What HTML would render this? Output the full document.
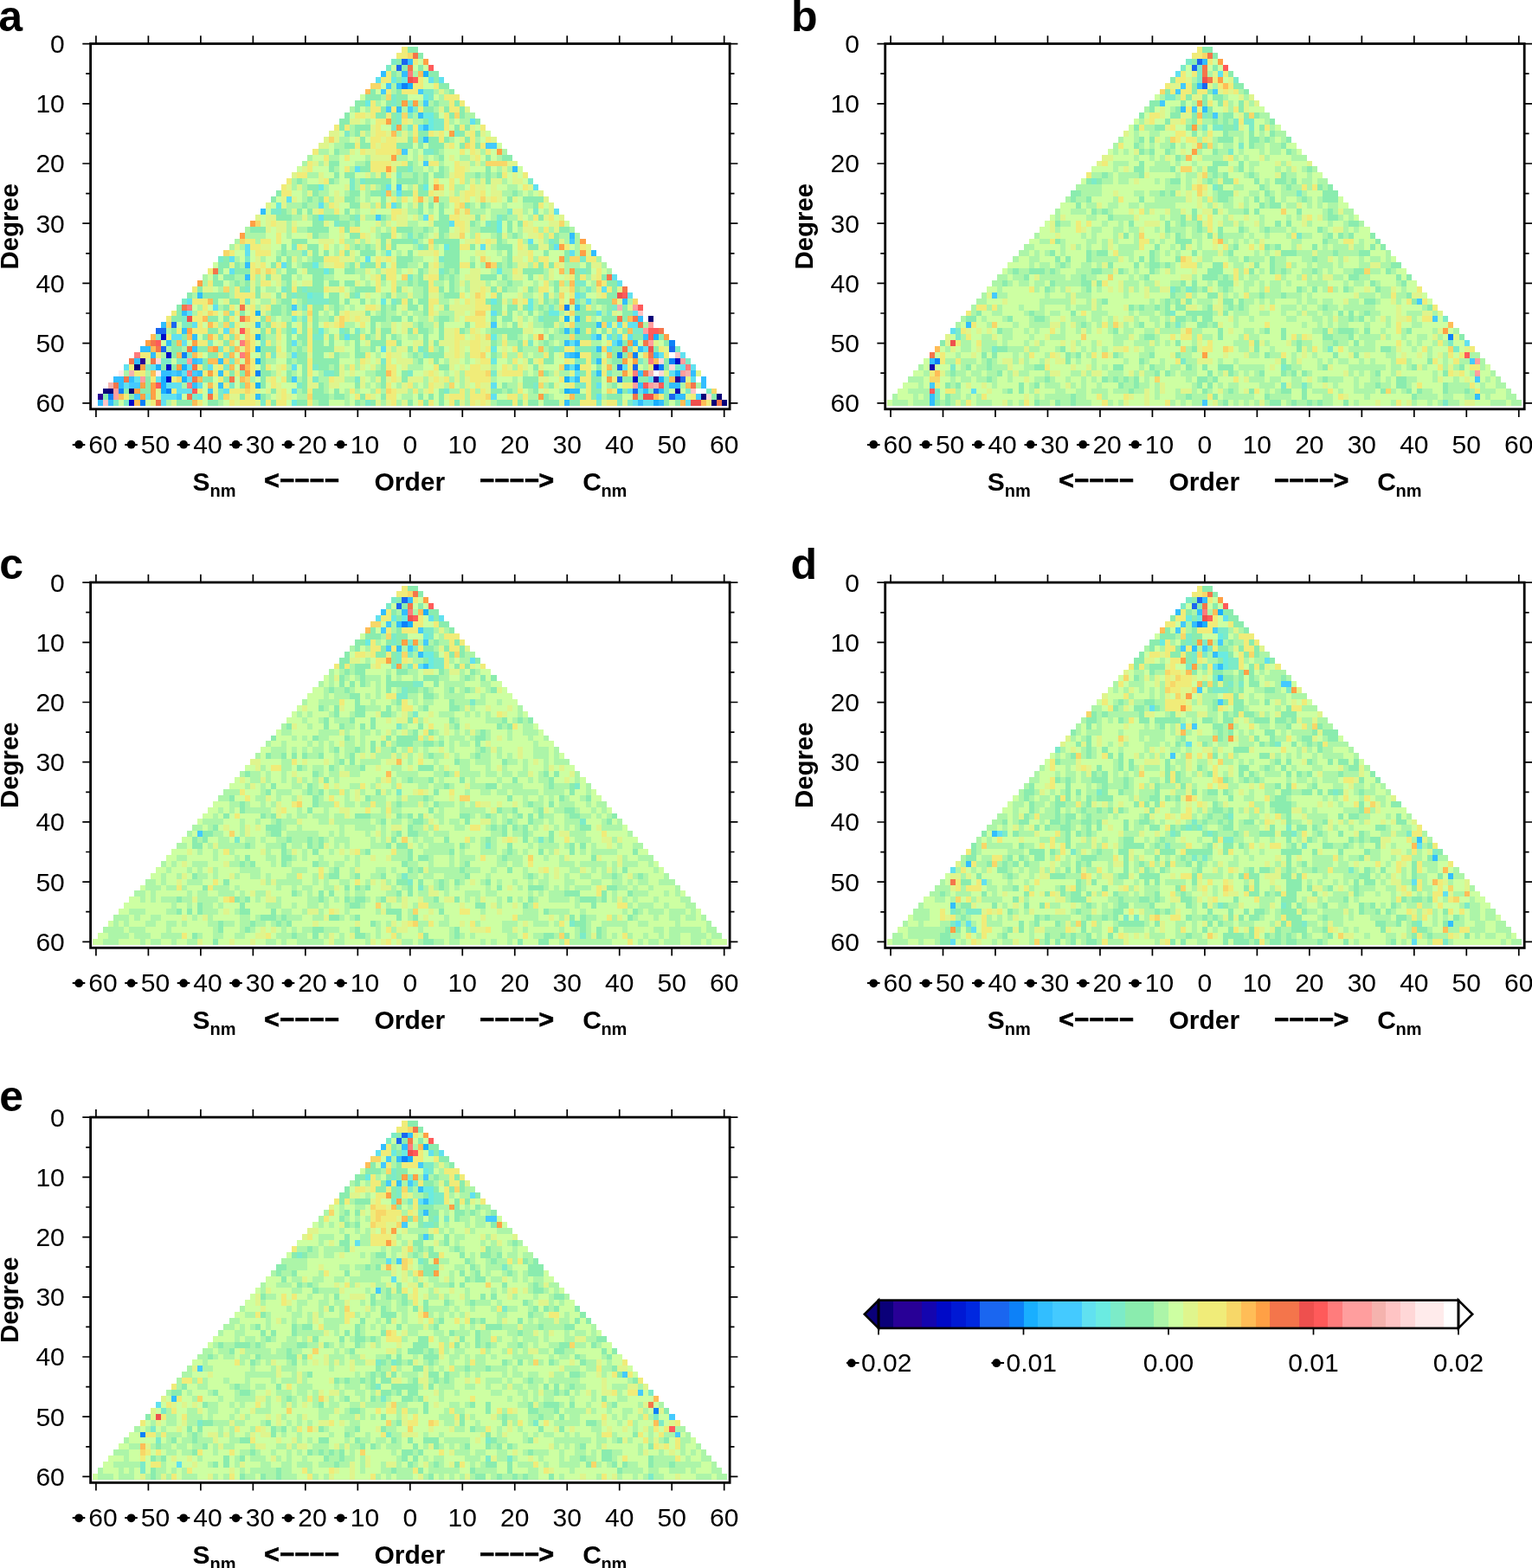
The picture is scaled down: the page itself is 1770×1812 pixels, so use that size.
<!DOCTYPE html>
<html lang="en"><head><meta charset="utf-8"><title>Spherical harmonic coefficient differences</title>
<style>
html,body{margin:0;padding:0;background:#fff}
body{width:1770px;height:1812px;overflow:hidden}
svg{display:block}
text{font-family:"Liberation Sans", Arial, Helvetica, sans-serif;fill:#000}
.t{font-size:30px}
.b{font-size:30px;font-weight:bold}
.s{font-size:20px;font-weight:bold}
.L{font-size:50px;font-weight:bold}
</style></head><body>
<svg width="1770" height="1812" viewBox="0 0 1770 1812">
<rect width="1770" height="1812" fill="#fff"/>

<g transform="translate(106.98 54.06) scale(6.059 6.92)" shape-rendering="crispEdges">
<path fill="#acf5a8" d="M59 0h3v1h-3zM58 1h5v1h-5zM57 2h7v1h-7zM56 3h9v1h-9zM55 4h11v1h-11zM54 5h13v1h-13zM53 6h15v1h-15zM52 7h17v1h-17zM51 8h19v1h-19zM50 9h21v1h-21zM49 10h23v1h-23zM48 11h25v1h-25zM47 12h27v1h-27zM46 13h29v1h-29zM45 14h31v1h-31zM44 15h33v1h-33zM43 16h35v1h-35zM42 17h37v1h-37zM41 18h39v1h-39zM40 19h41v1h-41zM39 20h43v1h-43zM38 21h45v1h-45zM37 22h47v1h-47zM36 23h49v1h-49zM35 24h51v1h-51zM34 25h53v1h-53zM33 26h55v1h-55zM32 27h57v1h-57zM31 28h59v1h-59zM30 29h61v1h-61zM29 30h63v1h-63zM28 31h65v1h-65zM27 32h67v1h-67zM26 33h69v1h-69zM25 34h71v1h-71zM24 35h73v1h-73zM23 36h75v1h-75zM22 37h77v1h-77zM21 38h79v1h-79zM20 39h81v1h-81zM19 40h83v1h-83zM18 41h85v1h-85zM17 42h87v1h-87zM16 43h89v1h-89zM15 44h91v1h-91zM14 45h93v1h-93zM13 46h95v1h-95zM12 47h97v1h-97zM11 48h99v1h-99zM10 49h101v1h-101zM9 50h103v1h-103zM8 51h105v1h-105zM7 52h107v1h-107zM6 53h109v1h-109zM5 54h111v1h-111zM4 55h113v1h-113zM3 56h115v1h-115zM2 57h117v1h-117zM1 58h119v1h-119zM0 59h121v1h-121z"/>
<path fill="#0a0079" d="M106 45h1v1h-1zM8 53h1v1h-1zM2 57h2v1h-2zM7 57h1v1h-1zM116 58h1v1h-1zM119 58h1v1h-1zM118 59h1v1h-1zM120 59h1v1h-1z"/>
<path fill="#280096" d="M9 52h1v1h-1zM107 55h1v1h-1zM111 55h1v1h-1zM1 58h1v1h-1z"/>
<path fill="#1405af" d="M111 57h1v1h-1z"/>
<path fill="#000ac8" d="M13 48h1v1h-1zM14 51h1v1h-1zM111 52h1v1h-1zM14 53h1v1h-1zM107 53h1v1h-1zM14 55h1v1h-1zM103 55h1v1h-1zM7 59h1v1h-1z"/>
<path fill="#1a66f0" d="M59 2h1v1h-1zM58 3h1v1h-1zM15 46h1v1h-1zM12 47h2v1h-2zM13 50h1v1h-1zM110 50h1v1h-1zM100 53h1v1h-1zM103 53h1v1h-1zM100 55h1v1h-1zM112 55h1v1h-1zM103 57h1v1h-1zM107 57h1v1h-1zM110 58h1v1h-1z"/>
<path fill="#0d81f8" d="M59 6h1v1h-1zM90 43h1v1h-1zM110 49h1v1h-1zM17 51h1v1h-1zM100 51h1v1h-1zM103 51h1v1h-1zM110 52h1v1h-1zM108 53h1v1h-1zM31 54h1v1h-1zM5 57h1v1h-1zM14 57h1v1h-1zM3 58h1v1h-1zM9 59h1v1h-1z"/>
<path fill="#19afff" d="M63 4h1v1h-1zM60 6h1v1h-1zM31 44h1v1h-1zM90 45h1v1h-1zM31 48h1v1h-1zM107 48h1v1h-1zM31 50h1v1h-1zM92 51h1v1h-1zM31 52h1v1h-1zM12 53h1v1h-1zM17 53h1v1h-1zM92 53h1v1h-1zM111 54h1v1h-1zM13 55h1v1h-1zM17 55h1v1h-1zM90 55h1v1h-1zM108 55h1v1h-1zM13 56h1v1h-1zM31 56h1v1h-1zM13 57h1v1h-1zM90 57h1v1h-1zM107 59h1v1h-1z"/>
<path fill="#32beff" d="M60 2h1v1h-1zM55 4h1v1h-1zM59 4h1v1h-1zM58 6h1v1h-1zM58 10h1v1h-1zM62 11h1v1h-1zM63 13h1v1h-1zM63 15h1v1h-1zM80 20h1v1h-1zM32 27h1v1h-1zM91 31h1v1h-1zM95 34h1v1h-1zM29 36h1v1h-1zM29 38h1v1h-1zM20 41h1v1h-1zM101 42h1v1h-1zM92 43h1v1h-1zM17 44h1v1h-1zM92 45h1v1h-1zM104 45h1v1h-1zM13 46h1v1h-1zM31 46h1v1h-1zM96 46h1v1h-1zM17 47h1v1h-1zM90 47h1v1h-1zM92 47h1v1h-1zM19 48h1v1h-1zM96 48h1v1h-1zM105 48h1v1h-1zM14 49h1v1h-1zM90 49h1v1h-1zM92 49h1v1h-1zM100 49h1v1h-1zM103 49h1v1h-1zM9 50h2v1h-2zM19 50h1v1h-1zM96 50h1v1h-1zM104 50h1v1h-1zM11 51h1v1h-1zM91 51h1v1h-1zM107 51h1v1h-1zM8 52h1v1h-1zM19 52h1v1h-1zM24 52h1v1h-1zM96 52h1v1h-1zM90 53h1v1h-1zM13 54h2v1h-2zM16 54h1v1h-1zM20 54h1v1h-1zM24 54h1v1h-1zM96 54h1v1h-1zM104 54h1v1h-1zM114 54h1v1h-1zM4 55h2v1h-2zM7 55h1v1h-1zM92 55h1v1h-1zM116 55h1v1h-1zM5 56h1v1h-1zM19 56h1v1h-1zM24 56h1v1h-1zM104 56h1v1h-1zM110 56h2v1h-2zM116 56h1v1h-1zM91 57h2v1h-2zM100 57h1v1h-1zM105 57h1v1h-1zM108 57h1v1h-1zM31 58h1v1h-1zM111 58h2v1h-2zM1 59h1v1h-1zM3 59h1v1h-1zM90 59h1v1h-1zM104 59h1v1h-1zM108 59h1v1h-1z"/>
<path fill="#44caff" d="M56 6h1v1h-1zM55 7h1v1h-1zM62 7h1v1h-1zM63 9h1v1h-1zM56 10h1v1h-1zM60 10h1v1h-1zM75 16h2v1h-2zM59 17h1v1h-1zM63 19h1v1h-1zM58 23h1v1h-1zM54 28h1v1h-1zM91 32h1v1h-1zM38 43h1v1h-1zM76 46h1v1h-1zM90 51h1v1h-1zM20 52h1v1h-1zM15 54h1v1h-1zM19 54h1v1h-1zM38 55h1v1h-1zM7 56h2v1h-2zM22 57h1v1h-1zM8 58h1v1h-1zM16 58h1v1h-1zM115 58h1v1h-1z"/>
<path fill="#61e1f0" d="M54 5h1v1h-1zM64 5h1v1h-1zM66 5h1v1h-1zM72 12h1v1h-1zM62 13h1v1h-1zM50 20h1v1h-1zM56 23h1v1h-1zM84 23h1v1h-1zM58 24h1v1h-1zM37 25h1v1h-1zM43 26h1v1h-1zM57 26h1v1h-1zM88 27h1v1h-1zM43 28h1v1h-1zM63 28h1v1h-1zM68 29h1v1h-1zM83 32h1v1h-1zM29 33h1v1h-1zM74 33h1v1h-1zM88 33h1v1h-1zM29 34h1v1h-1zM91 34h1v1h-1zM26 35h1v1h-1zM52 35h1v1h-1zM36 36h1v1h-1zM26 37h1v1h-1zM99 38h1v1h-1zM100 39h1v1h-1zM97 40h1v1h-1zM92 41h1v1h-1zM102 41h1v1h-1zM18 42h1v1h-1zM94 42h1v1h-1zM23 43h1v1h-1zM18 44h1v1h-1zM76 44h1v1h-1zM96 44h1v1h-1zM103 44h1v1h-1zM19 46h1v1h-1zM98 46h1v1h-1zM100 46h1v1h-1zM102 46h2v1h-2zM25 47h1v1h-1zM15 48h2v1h-2zM48 48h1v1h-1zM95 48h1v1h-1zM98 48h1v1h-1zM100 48h1v1h-1zM102 48h1v1h-1zM17 49h1v1h-1zM38 49h1v1h-1zM91 49h1v1h-1zM99 49h1v1h-1zM55 50h1v1h-1zM98 50h1v1h-1zM105 50h1v1h-1zM38 51h1v1h-1zM108 51h1v1h-1zM112 51h1v1h-1zM6 53h1v1h-1zM11 53h1v1h-1zM18 53h1v1h-1zM22 53h1v1h-1zM38 53h1v1h-1zM91 53h1v1h-1zM101 53h1v1h-1zM112 53h1v1h-1zM114 53h1v1h-1zM17 54h1v1h-1zM92 54h1v1h-1zM110 54h1v1h-1zM8 55h1v1h-1zM12 55h1v1h-1zM18 55h1v1h-1zM91 55h1v1h-1zM106 55h1v1h-1zM114 55h1v1h-1zM6 56h1v1h-1zM14 56h3v1h-3zM20 56h1v1h-1zM76 56h1v1h-1zM96 56h1v1h-1zM16 57h3v1h-3zM25 57h1v1h-1zM38 57h1v1h-1zM102 57h1v1h-1zM104 57h1v1h-1zM13 58h3v1h-3zM76 58h1v1h-1zM96 58h1v1h-1zM13 59h1v1h-1zM103 59h1v1h-1zM105 59h2v1h-2zM113 59h1v1h-1z"/>
<path fill="#6aebe1" d="M57 5h1v1h-1zM59 5h1v1h-1zM63 8h1v1h-1zM52 9h1v1h-1zM63 11h2v1h-2zM64 12h1v1h-1zM64 13h1v1h-1zM43 23h1v1h-1zM63 23h1v1h-1zM35 26h1v1h-1zM77 29h1v1h-1zM77 30h1v1h-1zM67 33h1v1h-1zM56 34h1v1h-1zM42 36h1v1h-1zM44 37h1v1h-1zM77 37h1v1h-1zM41 41h1v1h-1zM55 42h1v1h-1zM76 42h1v1h-1zM83 42h1v1h-1zM83 43h1v1h-1zM87 44h2v1h-2zM38 45h1v1h-1zM38 47h1v1h-1zM43 47h1v1h-1zM76 48h1v1h-1zM76 50h1v1h-1zM76 52h1v1h-1zM10 58h1v1h-1zM20 58h1v1h-1zM38 59h1v1h-1z"/>
<path fill="#7cebc8" d="M57 2h1v1h-1zM56 3h1v1h-1zM63 7h2v1h-2zM57 8h1v1h-1zM64 8h1v1h-1zM57 9h1v1h-1zM60 9h1v1h-1zM61 10h1v1h-1zM58 11h1v1h-1zM60 11h1v1h-1zM58 12h1v1h-1zM65 12h2v1h-2zM57 13h1v1h-1zM60 13h1v1h-1zM65 13h2v1h-2zM48 14h1v1h-1zM69 14h1v1h-1zM62 15h1v1h-1zM63 17h2v1h-2zM60 20h1v1h-1zM58 21h1v1h-1zM49 22h1v1h-1zM51 22h1v1h-1zM83 22h1v1h-1zM49 23h1v1h-1zM55 24h1v1h-1zM34 27h2v1h-2zM79 27h1v1h-1zM84 27h1v1h-1zM50 28h1v1h-1zM77 28h1v1h-1zM46 29h1v1h-1zM75 29h1v1h-1zM60 31h1v1h-1zM61 32h1v1h-1zM87 32h1v1h-1zM38 33h1v1h-1zM62 33h1v1h-1zM40 34h1v1h-1zM24 35h1v1h-1zM29 35h1v1h-1zM66 35h1v1h-1zM93 35h1v1h-1zM51 36h1v1h-1zM55 36h1v1h-1zM66 37h1v1h-1zM93 37h1v1h-1zM60 38h1v1h-1zM92 39h2v1h-2zM29 40h1v1h-1zM36 40h1v1h-1zM40 40h1v1h-1zM94 40h1v1h-1zM38 41h1v1h-1zM42 41h2v1h-2zM50 41h1v1h-1zM86 41h1v1h-1zM93 41h1v1h-1zM17 42h1v1h-1zM29 42h1v1h-1zM41 42h4v1h-4zM57 42h1v1h-1zM92 42h1v1h-1zM40 43h1v1h-1zM87 43h1v1h-1zM99 43h1v1h-1zM26 44h1v1h-1zM98 44h1v1h-1zM17 45h1v1h-1zM40 45h1v1h-1zM85 45h1v1h-1zM17 46h1v1h-1zM26 46h1v1h-1zM92 46h1v1h-1zM47 47h1v1h-1zM50 47h1v1h-1zM99 47h1v1h-1zM103 47h2v1h-2zM12 48h1v1h-1zM42 48h2v1h-2zM22 49h1v1h-1zM32 49h1v1h-1zM83 49h1v1h-1zM24 50h1v1h-1zM62 50h1v1h-1zM88 50h1v1h-1zM92 50h1v1h-1zM95 50h1v1h-1zM102 50h1v1h-1zM111 50h1v1h-1zM18 51h1v1h-1zM25 51h1v1h-1zM34 51h1v1h-1zM63 51h1v1h-1zM13 52h2v1h-2zM16 52h2v1h-2zM26 52h1v1h-1zM55 52h1v1h-1zM92 52h1v1h-1zM95 52h1v1h-1zM104 52h1v1h-1zM113 52h1v1h-1zM10 53h1v1h-1zM25 53h1v1h-1zM42 53h1v1h-1zM111 53h1v1h-1zM44 54h2v1h-2zM60 54h1v1h-1zM76 54h1v1h-1zM95 54h1v1h-1zM98 54h1v1h-1zM42 55h1v1h-1zM50 55h1v1h-1zM109 55h1v1h-1zM26 56h1v1h-1zM39 56h1v1h-1zM84 56h1v1h-1zM93 56h1v1h-1zM109 56h1v1h-1zM24 57h1v1h-1zM67 57h1v1h-1zM106 57h1v1h-1zM109 57h1v1h-1zM113 57h1v1h-1zM117 57h1v1h-1zM19 58h1v1h-1zM24 58h1v1h-1zM4 59h1v1h-1zM6 59h1v1h-1zM32 59h1v1h-1zM52 59h1v1h-1zM96 59h1v1h-1zM100 59h1v1h-1zM102 59h1v1h-1z"/>
<path fill="#8aecae" d="M60 0h2v1h-2zM62 1h1v1h-1zM58 2h1v1h-1zM59 3h1v1h-1zM62 3h1v1h-1zM57 4h1v1h-1zM64 4h2v1h-2zM58 5h1v1h-1zM65 5h1v1h-1zM66 6h2v1h-2zM53 7h1v1h-1zM58 7h1v1h-1zM68 7h1v1h-1zM52 8h3v1h-3zM58 8h2v1h-2zM50 9h2v1h-2zM56 9h1v1h-1zM58 9h1v1h-1zM65 9h1v1h-1zM69 9h1v1h-1zM50 10h1v1h-1zM55 10h1v1h-1zM63 10h2v1h-2zM67 10h1v1h-1zM70 10h1v1h-1zM48 11h1v1h-1zM54 11h2v1h-2zM57 11h1v1h-1zM65 11h1v1h-1zM68 11h1v1h-1zM70 11h1v1h-1zM47 12h2v1h-2zM57 12h1v1h-1zM63 12h1v1h-1zM73 12h1v1h-1zM47 13h1v1h-1zM50 13h3v1h-3zM69 13h1v1h-1zM71 13h1v1h-1zM50 14h1v1h-1zM62 14h2v1h-2zM70 14h1v1h-1zM73 14h1v1h-1zM51 15h1v1h-1zM60 15h1v1h-1zM64 15h2v1h-2zM67 15h1v1h-1zM71 15h1v1h-1zM48 16h2v1h-2zM51 16h2v1h-2zM58 16h3v1h-3zM62 16h1v1h-1zM64 16h3v1h-3zM70 16h1v1h-1zM73 16h1v1h-1zM46 17h1v1h-1zM65 17h1v1h-1zM66 18h1v1h-1zM75 18h1v1h-1zM78 18h2v1h-2zM45 19h2v1h-2zM52 19h1v1h-1zM60 19h1v1h-1zM45 20h1v1h-1zM51 20h2v1h-2zM58 20h2v1h-2zM66 20h1v1h-1zM75 20h1v1h-1zM46 21h1v1h-1zM48 21h2v1h-2zM55 21h1v1h-1zM61 21h1v1h-1zM63 21h1v1h-1zM65 21h2v1h-2zM73 21h1v1h-1zM75 21h1v1h-1zM77 21h1v1h-1zM39 22h1v1h-1zM45 22h1v1h-1zM52 22h5v1h-5zM58 22h4v1h-4zM63 22h1v1h-1zM75 22h1v1h-1zM41 23h2v1h-2zM55 23h1v1h-1zM62 23h1v1h-1zM35 24h1v1h-1zM42 24h1v1h-1zM49 24h2v1h-2zM53 24h2v1h-2zM59 24h2v1h-2zM62 24h2v1h-2zM80 24h1v1h-1zM34 25h1v1h-1zM41 25h1v1h-1zM43 25h1v1h-1zM48 25h2v1h-2zM55 25h1v1h-1zM79 25h1v1h-1zM82 25h4v1h-4zM40 26h1v1h-1zM49 26h2v1h-2zM55 26h1v1h-1zM58 26h1v1h-1zM62 26h1v1h-1zM64 26h1v1h-1zM66 26h1v1h-1zM71 26h1v1h-1zM74 26h1v1h-1zM84 26h1v1h-1zM36 27h1v1h-1zM39 27h1v1h-1zM41 27h1v1h-1zM48 27h1v1h-1zM62 27h1v1h-1zM66 27h1v1h-1zM35 28h3v1h-3zM42 28h1v1h-1zM44 28h3v1h-3zM49 28h1v1h-1zM55 28h1v1h-1zM66 28h2v1h-2zM73 28h1v1h-1zM78 28h1v1h-1zM85 28h1v1h-1zM42 29h2v1h-2zM47 29h2v1h-2zM50 29h1v1h-1zM65 29h3v1h-3zM72 29h1v1h-1zM76 29h1v1h-1zM79 29h1v1h-1zM81 29h1v1h-1zM30 30h3v1h-3zM41 30h4v1h-4zM48 30h1v1h-1zM58 30h3v1h-3zM63 30h1v1h-1zM66 30h2v1h-2zM74 30h3v1h-3zM79 30h1v1h-1zM89 30h2v1h-2zM42 31h1v1h-1zM49 31h2v1h-2zM55 31h2v1h-2zM62 31h1v1h-1zM66 31h1v1h-1zM77 31h1v1h-1zM80 31h1v1h-1zM88 31h1v1h-1zM38 32h3v1h-3zM55 32h1v1h-1zM57 32h4v1h-4zM65 32h5v1h-5zM77 32h1v1h-1zM88 32h1v1h-1zM36 33h1v1h-1zM41 33h2v1h-2zM50 33h1v1h-1zM52 33h1v1h-1zM55 33h1v1h-1zM57 33h1v1h-1zM63 33h1v1h-1zM68 33h2v1h-2zM72 33h1v1h-1zM77 33h3v1h-3zM83 33h2v1h-2zM87 33h1v1h-1zM36 34h1v1h-1zM42 34h1v1h-1zM44 34h1v1h-1zM48 34h1v1h-1zM51 34h3v1h-3zM60 34h1v1h-1zM67 34h3v1h-3zM79 34h1v1h-1zM86 34h1v1h-1zM90 34h1v1h-1zM25 35h1v1h-1zM35 35h1v1h-1zM37 35h1v1h-1zM42 35h2v1h-2zM58 35h3v1h-3zM67 35h3v1h-3zM79 35h1v1h-1zM90 35h1v1h-1zM24 36h2v1h-2zM27 36h1v1h-1zM34 36h1v1h-1zM37 36h1v1h-1zM40 36h2v1h-2zM49 36h1v1h-1zM52 36h2v1h-2zM58 36h2v1h-2zM63 36h1v1h-1zM67 36h3v1h-3zM72 36h1v1h-1zM77 36h1v1h-1zM79 36h1v1h-1zM85 36h1v1h-1zM87 36h1v1h-1zM94 36h1v1h-1zM24 37h1v1h-1zM27 37h3v1h-3zM37 37h2v1h-2zM41 37h3v1h-3zM45 37h1v1h-1zM48 37h2v1h-2zM62 37h1v1h-1zM67 37h1v1h-1zM69 37h1v1h-1zM82 37h4v1h-4zM92 37h1v1h-1zM94 37h1v1h-1zM23 38h1v1h-1zM25 38h2v1h-2zM33 38h1v1h-1zM36 38h2v1h-2zM42 38h2v1h-2zM55 38h1v1h-1zM62 38h1v1h-1zM66 38h1v1h-1zM68 38h1v1h-1zM74 38h3v1h-3zM78 38h1v1h-1zM83 38h1v1h-1zM92 38h1v1h-1zM97 38h1v1h-1zM23 39h2v1h-2zM27 39h1v1h-1zM29 39h1v1h-1zM37 39h1v1h-1zM42 39h2v1h-2zM45 39h2v1h-2zM48 39h2v1h-2zM60 39h1v1h-1zM62 39h2v1h-2zM68 39h1v1h-1zM79 39h1v1h-1zM88 39h1v1h-1zM98 39h2v1h-2zM20 40h1v1h-1zM28 40h1v1h-1zM31 40h1v1h-1zM37 40h1v1h-1zM39 40h1v1h-1zM41 40h3v1h-3zM50 40h4v1h-4zM58 40h1v1h-1zM63 40h1v1h-1zM66 40h1v1h-1zM68 40h1v1h-1zM76 40h1v1h-1zM78 40h1v1h-1zM83 40h1v1h-1zM88 40h1v1h-1zM92 40h1v1h-1zM99 40h1v1h-1zM18 41h1v1h-1zM21 41h5v1h-5zM31 41h1v1h-1zM35 41h1v1h-1zM37 41h1v1h-1zM39 41h2v1h-2zM45 41h2v1h-2zM49 41h1v1h-1zM56 41h1v1h-1zM63 41h1v1h-1zM67 41h3v1h-3zM77 41h1v1h-1zM98 41h2v1h-2zM23 42h1v1h-1zM26 42h2v1h-2zM36 42h2v1h-2zM40 42h1v1h-1zM45 42h2v1h-2zM48 42h1v1h-1zM51 42h1v1h-1zM58 42h1v1h-1zM60 42h1v1h-1zM62 42h2v1h-2zM75 42h1v1h-1zM77 42h1v1h-1zM86 42h1v1h-1zM88 42h1v1h-1zM96 42h3v1h-3zM16 43h1v1h-1zM25 43h1v1h-1zM34 43h2v1h-2zM37 43h1v1h-1zM42 43h2v1h-2zM46 43h1v1h-1zM55 43h1v1h-1zM57 43h1v1h-1zM60 43h2v1h-2zM63 43h1v1h-1zM67 43h1v1h-1zM76 43h2v1h-2zM79 43h2v1h-2zM82 43h1v1h-1zM85 43h1v1h-1zM93 43h1v1h-1zM98 43h1v1h-1zM101 43h1v1h-1zM16 44h1v1h-1zM28 44h1v1h-1zM34 44h2v1h-2zM37 44h1v1h-1zM42 44h1v1h-1zM46 44h1v1h-1zM52 44h1v1h-1zM55 44h1v1h-1zM63 44h1v1h-1zM77 44h1v1h-1zM79 44h1v1h-1zM83 44h1v1h-1zM86 44h1v1h-1zM92 44h4v1h-4zM101 44h2v1h-2zM15 45h2v1h-2zM22 45h2v1h-2zM25 45h1v1h-1zM32 45h1v1h-1zM42 45h1v1h-1zM45 45h1v1h-1zM53 45h3v1h-3zM57 45h2v1h-2zM60 45h1v1h-1zM66 45h2v1h-2zM76 45h1v1h-1zM78 45h2v1h-2zM86 45h3v1h-3zM93 45h1v1h-1zM97 45h3v1h-3zM101 45h1v1h-1zM18 46h1v1h-1zM33 46h1v1h-1zM37 46h1v1h-1zM40 46h1v1h-1zM42 46h1v1h-1zM53 46h1v1h-1zM62 46h1v1h-1zM66 46h1v1h-1zM71 46h1v1h-1zM80 46h1v1h-1zM86 46h2v1h-2zM93 46h3v1h-3zM15 47h1v1h-1zM22 47h2v1h-2zM32 47h1v1h-1zM34 47h1v1h-1zM37 47h1v1h-1zM40 47h1v1h-1zM42 47h1v1h-1zM48 47h1v1h-1zM53 47h1v1h-1zM55 47h2v1h-2zM60 47h1v1h-1zM62 47h2v1h-2zM66 47h1v1h-1zM70 47h1v1h-1zM76 47h6v1h-6zM89 47h1v1h-1zM91 47h1v1h-1zM93 47h1v1h-1zM95 47h1v1h-1zM97 47h1v1h-1zM101 47h1v1h-1zM17 48h1v1h-1zM21 48h1v1h-1zM24 48h1v1h-1zM26 48h1v1h-1zM32 48h1v1h-1zM37 48h1v1h-1zM39 48h2v1h-2zM45 48h1v1h-1zM47 48h1v1h-1zM49 48h2v1h-2zM52 48h1v1h-1zM55 48h1v1h-1zM57 48h1v1h-1zM63 48h1v1h-1zM66 48h1v1h-1zM79 48h2v1h-2zM87 48h1v1h-1zM92 48h3v1h-3zM99 48h1v1h-1zM103 48h2v1h-2zM108 48h1v1h-1zM15 49h1v1h-1zM25 49h1v1h-1zM37 49h1v1h-1zM40 49h1v1h-1zM42 49h2v1h-2zM45 49h1v1h-1zM50 49h1v1h-1zM53 49h3v1h-3zM58 49h1v1h-1zM63 49h1v1h-1zM65 49h1v1h-1zM76 49h1v1h-1zM81 49h1v1h-1zM86 49h1v1h-1zM101 49h1v1h-1zM109 49h1v1h-1zM15 50h2v1h-2zM20 50h2v1h-2zM26 50h1v1h-1zM32 50h3v1h-3zM37 50h1v1h-1zM39 50h1v1h-1zM42 50h4v1h-4zM50 50h1v1h-1zM53 50h1v1h-1zM60 50h1v1h-1zM63 50h1v1h-1zM66 50h1v1h-1zM81 50h1v1h-1zM87 50h1v1h-1zM89 50h1v1h-1zM93 50h2v1h-2zM99 50h2v1h-2zM107 50h1v1h-1zM15 51h1v1h-1zM22 51h2v1h-2zM32 51h1v1h-1zM39 51h2v1h-2zM42 51h2v1h-2zM46 51h1v1h-1zM50 51h2v1h-2zM61 51h1v1h-1zM64 51h3v1h-3zM76 51h1v1h-1zM87 51h1v1h-1zM95 51h2v1h-2zM99 51h1v1h-1zM101 51h1v1h-1zM21 52h1v1h-1zM32 52h1v1h-1zM37 52h1v1h-1zM39 52h2v1h-2zM42 52h5v1h-5zM62 52h1v1h-1zM65 52h1v1h-1zM83 52h1v1h-1zM86 52h2v1h-2zM93 52h1v1h-1zM99 52h2v1h-2zM109 52h1v1h-1zM13 53h1v1h-1zM15 53h1v1h-1zM21 53h1v1h-1zM32 53h1v1h-1zM40 53h1v1h-1zM43 53h2v1h-2zM46 53h1v1h-1zM55 53h1v1h-1zM66 53h2v1h-2zM84 53h1v1h-1zM96 53h1v1h-1zM109 53h1v1h-1zM26 54h1v1h-1zM28 54h1v1h-1zM32 54h2v1h-2zM37 54h1v1h-1zM40 54h1v1h-1zM46 54h1v1h-1zM54 54h2v1h-2zM59 54h1v1h-1zM86 54h1v1h-1zM93 54h1v1h-1zM10 55h1v1h-1zM21 55h2v1h-2zM25 55h1v1h-1zM32 55h1v1h-1zM37 55h1v1h-1zM40 55h1v1h-1zM55 55h1v1h-1zM59 55h1v1h-1zM82 55h3v1h-3zM95 55h2v1h-2zM101 55h2v1h-2zM104 55h2v1h-2zM10 56h1v1h-1zM28 56h1v1h-1zM32 56h1v1h-1zM40 56h1v1h-1zM43 56h1v1h-1zM50 56h1v1h-1zM55 56h1v1h-1zM78 56h1v1h-1zM82 56h2v1h-2zM87 56h1v1h-1zM92 56h1v1h-1zM95 56h1v1h-1zM99 56h1v1h-1zM6 57h1v1h-1zM9 57h2v1h-2zM34 57h1v1h-1zM40 57h1v1h-1zM42 57h2v1h-2zM46 57h1v1h-1zM66 57h1v1h-1zM76 57h2v1h-2zM79 57h1v1h-1zM84 57h1v1h-1zM95 57h2v1h-2zM101 57h1v1h-1zM2 58h1v1h-1zM7 58h1v1h-1zM28 58h1v1h-1zM32 58h1v1h-1zM42 58h3v1h-3zM46 58h2v1h-2zM51 58h1v1h-1zM55 58h1v1h-1zM62 58h1v1h-1zM64 58h1v1h-1zM66 58h1v1h-1zM86 58h1v1h-1zM92 58h2v1h-2zM95 58h1v1h-1zM98 58h3v1h-3zM104 58h1v1h-1zM109 58h1v1h-1zM118 58h1v1h-1zM16 59h3v1h-3zM22 59h2v1h-2zM34 59h1v1h-1zM39 59h2v1h-2zM43 59h2v1h-2zM50 59h1v1h-1zM53 59h1v1h-1zM60 59h1v1h-1zM63 59h1v1h-1zM66 59h1v1h-1zM69 59h1v1h-1zM77 59h3v1h-3zM81 59h1v1h-1zM83 59h2v1h-2zM86 59h3v1h-3zM91 59h2v1h-2zM109 59h1v1h-1zM111 59h1v1h-1z"/>
<path fill="#cdffa2" d="M62 2h1v1h-1zM57 3h1v1h-1zM61 3h1v1h-1zM63 3h1v1h-1zM63 5h1v1h-1zM55 6h1v1h-1zM63 6h2v1h-2zM54 7h1v1h-1zM51 8h1v1h-1zM60 8h3v1h-3zM65 8h1v1h-1zM55 9h1v1h-1zM51 10h1v1h-1zM49 11h1v1h-1zM66 11h1v1h-1zM51 12h1v1h-1zM53 12h1v1h-1zM69 12h1v1h-1zM55 13h2v1h-2zM68 13h1v1h-1zM73 13h1v1h-1zM47 14h1v1h-1zM67 14h1v1h-1zM75 14h1v1h-1zM49 15h1v1h-1zM52 15h1v1h-1zM69 15h1v1h-1zM74 15h1v1h-1zM45 16h1v1h-1zM61 16h1v1h-1zM63 16h1v1h-1zM69 16h1v1h-1zM77 16h1v1h-1zM45 17h1v1h-1zM50 17h1v1h-1zM60 17h1v1h-1zM62 17h1v1h-1zM67 17h3v1h-3zM71 17h1v1h-1zM76 17h1v1h-1zM42 18h2v1h-2zM47 18h1v1h-1zM49 18h3v1h-3zM60 18h1v1h-1zM64 18h1v1h-1zM67 18h1v1h-1zM69 18h1v1h-1zM74 18h1v1h-1zM76 18h1v1h-1zM47 19h3v1h-3zM62 19h1v1h-1zM67 19h2v1h-2zM39 20h1v1h-1zM42 20h3v1h-3zM47 20h1v1h-1zM63 20h1v1h-1zM65 20h1v1h-1zM68 20h1v1h-1zM72 20h3v1h-3zM76 20h1v1h-1zM81 20h1v1h-1zM44 21h2v1h-2zM47 21h1v1h-1zM50 21h2v1h-2zM57 21h1v1h-1zM64 21h1v1h-1zM79 21h1v1h-1zM81 21h1v1h-1zM41 22h2v1h-2zM47 22h2v1h-2zM57 22h1v1h-1zM64 22h1v1h-1zM66 22h2v1h-2zM69 22h1v1h-1zM79 22h1v1h-1zM82 22h1v1h-1zM45 23h3v1h-3zM57 23h1v1h-1zM59 23h1v1h-1zM64 23h1v1h-1zM67 23h1v1h-1zM71 23h1v1h-1zM75 23h1v1h-1zM77 23h2v1h-2zM81 23h1v1h-1zM38 24h2v1h-2zM45 24h1v1h-1zM47 24h1v1h-1zM51 24h1v1h-1zM67 24h1v1h-1zM75 24h1v1h-1zM82 24h1v1h-1zM84 24h1v1h-1zM35 25h1v1h-1zM39 25h1v1h-1zM51 25h1v1h-1zM53 25h2v1h-2zM56 25h1v1h-1zM60 25h1v1h-1zM72 25h1v1h-1zM78 25h1v1h-1zM81 25h1v1h-1zM34 26h1v1h-1zM47 26h2v1h-2zM59 26h1v1h-1zM63 26h1v1h-1zM65 26h1v1h-1zM68 26h1v1h-1zM73 26h1v1h-1zM76 26h2v1h-2zM79 26h3v1h-3zM86 26h1v1h-1zM33 27h1v1h-1zM40 27h1v1h-1zM47 27h1v1h-1zM49 27h1v1h-1zM51 27h2v1h-2zM54 27h3v1h-3zM63 27h1v1h-1zM65 27h1v1h-1zM67 27h2v1h-2zM75 27h1v1h-1zM83 27h1v1h-1zM85 27h1v1h-1zM32 28h1v1h-1zM60 28h1v1h-1zM65 28h1v1h-1zM75 28h1v1h-1zM82 28h1v1h-1zM88 28h1v1h-1zM32 29h1v1h-1zM39 29h3v1h-3zM45 29h1v1h-1zM51 29h3v1h-3zM57 29h1v1h-1zM62 29h2v1h-2zM74 29h1v1h-1zM78 29h1v1h-1zM80 29h1v1h-1zM84 29h3v1h-3zM90 29h1v1h-1zM34 30h1v1h-1zM45 30h2v1h-2zM51 30h2v1h-2zM55 30h1v1h-1zM65 30h1v1h-1zM68 30h1v1h-1zM78 30h1v1h-1zM80 30h1v1h-1zM33 31h2v1h-2zM36 31h1v1h-1zM38 31h3v1h-3zM45 31h2v1h-2zM48 31h1v1h-1zM53 31h1v1h-1zM58 31h1v1h-1zM64 31h1v1h-1zM71 31h1v1h-1zM74 31h2v1h-2zM82 31h1v1h-1zM34 32h1v1h-1zM36 32h2v1h-2zM41 32h2v1h-2zM46 32h1v1h-1zM53 32h1v1h-1zM63 32h1v1h-1zM70 32h1v1h-1zM79 32h2v1h-2zM84 32h1v1h-1zM34 33h2v1h-2zM37 33h1v1h-1zM43 33h1v1h-1zM45 33h1v1h-1zM47 33h1v1h-1zM58 33h3v1h-3zM66 33h1v1h-1zM73 33h1v1h-1zM80 33h1v1h-1zM91 33h1v1h-1zM27 34h2v1h-2zM30 34h1v1h-1zM34 34h1v1h-1zM43 34h1v1h-1zM45 34h1v1h-1zM50 34h1v1h-1zM54 34h1v1h-1zM57 34h1v1h-1zM59 34h1v1h-1zM61 34h1v1h-1zM66 34h1v1h-1zM70 34h3v1h-3zM75 34h2v1h-2zM78 34h1v1h-1zM80 34h1v1h-1zM84 34h2v1h-2zM87 34h3v1h-3zM28 35h1v1h-1zM30 35h1v1h-1zM33 35h2v1h-2zM36 35h1v1h-1zM40 35h1v1h-1zM51 35h1v1h-1zM53 35h1v1h-1zM63 35h2v1h-2zM70 35h2v1h-2zM73 35h1v1h-1zM76 35h2v1h-2zM82 35h1v1h-1zM87 35h2v1h-2zM23 36h1v1h-1zM33 36h1v1h-1zM38 36h1v1h-1zM56 36h1v1h-1zM62 36h1v1h-1zM73 36h1v1h-1zM93 36h1v1h-1zM25 37h1v1h-1zM36 37h1v1h-1zM39 37h1v1h-1zM46 37h2v1h-2zM53 37h1v1h-1zM59 37h1v1h-1zM61 37h1v1h-1zM70 37h2v1h-2zM74 37h2v1h-2zM88 37h1v1h-1zM95 37h1v1h-1zM97 37h1v1h-1zM22 38h1v1h-1zM24 38h1v1h-1zM38 38h1v1h-1zM40 38h2v1h-2zM46 38h5v1h-5zM52 38h1v1h-1zM58 38h1v1h-1zM70 38h1v1h-1zM77 38h1v1h-1zM82 38h1v1h-1zM84 38h1v1h-1zM88 38h2v1h-2zM25 39h1v1h-1zM34 39h1v1h-1zM39 39h1v1h-1zM44 39h1v1h-1zM47 39h1v1h-1zM51 39h1v1h-1zM53 39h1v1h-1zM56 39h1v1h-1zM67 39h1v1h-1zM76 39h1v1h-1zM82 39h2v1h-2zM85 39h1v1h-1zM94 39h1v1h-1zM23 40h1v1h-1zM32 40h1v1h-1zM35 40h1v1h-1zM48 40h1v1h-1zM55 40h2v1h-2zM60 40h1v1h-1zM67 40h1v1h-1zM70 40h1v1h-1zM81 40h1v1h-1zM87 40h1v1h-1zM34 41h1v1h-1zM44 41h1v1h-1zM47 41h1v1h-1zM51 41h1v1h-1zM53 41h2v1h-2zM71 41h1v1h-1zM75 41h1v1h-1zM78 41h3v1h-3zM84 41h1v1h-1zM90 41h1v1h-1zM94 41h2v1h-2zM24 42h1v1h-1zM31 42h1v1h-1zM47 42h1v1h-1zM49 42h2v1h-2zM52 42h1v1h-1zM54 42h1v1h-1zM56 42h1v1h-1zM61 42h1v1h-1zM68 42h1v1h-1zM70 42h1v1h-1zM90 42h1v1h-1zM19 43h1v1h-1zM22 43h1v1h-1zM27 43h1v1h-1zM48 43h1v1h-1zM50 43h2v1h-2zM58 43h1v1h-1zM62 43h1v1h-1zM65 43h1v1h-1zM78 43h1v1h-1zM91 43h1v1h-1zM96 43h1v1h-1zM24 44h1v1h-1zM29 44h1v1h-1zM43 44h1v1h-1zM45 44h1v1h-1zM53 44h1v1h-1zM58 44h1v1h-1zM60 44h1v1h-1zM71 44h1v1h-1zM75 44h1v1h-1zM80 44h1v1h-1zM82 44h1v1h-1zM84 44h1v1h-1zM100 44h1v1h-1zM24 45h1v1h-1zM27 45h1v1h-1zM35 45h1v1h-1zM59 45h1v1h-1zM61 45h1v1h-1zM70 45h1v1h-1zM75 45h1v1h-1zM77 45h1v1h-1zM80 45h1v1h-1zM83 45h1v1h-1zM91 45h1v1h-1zM96 45h1v1h-1zM16 46h1v1h-1zM21 46h1v1h-1zM28 46h1v1h-1zM38 46h1v1h-1zM43 46h1v1h-1zM50 46h1v1h-1zM52 46h1v1h-1zM54 46h1v1h-1zM58 46h1v1h-1zM67 46h4v1h-4zM72 46h1v1h-1zM77 46h1v1h-1zM79 46h1v1h-1zM82 46h1v1h-1zM45 47h2v1h-2zM49 47h1v1h-1zM52 47h1v1h-1zM58 47h1v1h-1zM65 47h1v1h-1zM74 47h1v1h-1zM84 47h2v1h-2zM87 47h1v1h-1zM96 47h1v1h-1zM20 48h1v1h-1zM28 48h1v1h-1zM36 48h1v1h-1zM38 48h1v1h-1zM56 48h1v1h-1zM59 48h1v1h-1zM62 48h1v1h-1zM64 48h2v1h-2zM71 48h1v1h-1zM82 48h1v1h-1zM86 48h1v1h-1zM97 48h1v1h-1zM13 49h1v1h-1zM18 49h1v1h-1zM23 49h1v1h-1zM27 49h1v1h-1zM31 49h1v1h-1zM36 49h1v1h-1zM44 49h1v1h-1zM46 49h2v1h-2zM49 49h1v1h-1zM51 49h1v1h-1zM59 49h2v1h-2zM84 49h1v1h-1zM88 49h1v1h-1zM97 49h1v1h-1zM104 49h1v1h-1zM108 49h1v1h-1zM36 50h1v1h-1zM48 50h2v1h-2zM54 50h1v1h-1zM67 50h1v1h-1zM71 50h1v1h-1zM77 50h1v1h-1zM79 50h1v1h-1zM21 51h1v1h-1zM27 51h1v1h-1zM30 51h2v1h-2zM44 51h1v1h-1zM49 51h1v1h-1zM53 51h1v1h-1zM55 51h1v1h-1zM59 51h1v1h-1zM75 51h1v1h-1zM83 51h1v1h-1zM88 51h1v1h-1zM97 51h1v1h-1zM104 51h1v1h-1zM10 52h1v1h-1zM15 52h1v1h-1zM28 52h1v1h-1zM35 52h2v1h-2zM47 52h3v1h-3zM53 52h1v1h-1zM57 52h1v1h-1zM63 52h1v1h-1zM66 52h1v1h-1zM70 52h1v1h-1zM72 52h1v1h-1zM77 52h2v1h-2zM81 52h1v1h-1zM88 52h2v1h-2zM27 53h1v1h-1zM31 53h1v1h-1zM34 53h1v1h-1zM39 53h1v1h-1zM52 53h1v1h-1zM58 53h1v1h-1zM63 53h2v1h-2zM69 53h1v1h-1zM71 53h1v1h-1zM77 53h1v1h-1zM83 53h1v1h-1zM86 53h3v1h-3zM95 53h1v1h-1zM104 53h1v1h-1zM36 54h1v1h-1zM39 54h1v1h-1zM42 54h1v1h-1zM48 54h1v1h-1zM50 54h2v1h-2zM58 54h1v1h-1zM61 54h2v1h-2zM66 54h1v1h-1zM68 54h1v1h-1zM83 54h1v1h-1zM23 55h1v1h-1zM27 55h1v1h-1zM31 55h1v1h-1zM35 55h1v1h-1zM52 55h1v1h-1zM77 55h3v1h-3zM81 55h1v1h-1zM87 55h2v1h-2zM97 55h1v1h-1zM21 56h1v1h-1zM27 56h1v1h-1zM33 56h1v1h-1zM36 56h3v1h-3zM47 56h3v1h-3zM53 56h1v1h-1zM57 56h1v1h-1zM62 56h1v1h-1zM69 56h1v1h-1zM72 56h1v1h-1zM77 56h1v1h-1zM89 56h1v1h-1zM97 56h1v1h-1zM100 56h1v1h-1zM21 57h1v1h-1zM32 57h1v1h-1zM37 57h1v1h-1zM45 57h1v1h-1zM47 57h1v1h-1zM51 57h2v1h-2zM65 57h1v1h-1zM82 57h1v1h-1zM85 57h1v1h-1zM87 57h2v1h-2zM93 57h1v1h-1zM97 57h1v1h-1zM110 57h1v1h-1zM112 57h1v1h-1zM17 58h1v1h-1zM21 58h1v1h-1zM34 58h1v1h-1zM38 58h1v1h-1zM49 58h1v1h-1zM54 58h1v1h-1zM58 58h1v1h-1zM61 58h1v1h-1zM63 58h1v1h-1zM65 58h1v1h-1zM77 58h2v1h-2zM88 58h2v1h-2zM101 58h2v1h-2zM5 59h1v1h-1zM10 59h1v1h-1zM21 59h1v1h-1zM25 59h1v1h-1zM37 59h1v1h-1zM45 59h3v1h-3zM49 59h1v1h-1zM61 59h1v1h-1zM65 59h1v1h-1zM67 59h1v1h-1zM85 59h1v1h-1zM110 59h1v1h-1z"/>
<path fill="#dff58d" d="M66 7h1v1h-1zM66 10h1v1h-1zM71 10h1v1h-1zM52 11h1v1h-1zM49 12h2v1h-2zM60 12h1v1h-1zM53 13h1v1h-1zM72 13h1v1h-1zM45 14h2v1h-2zM51 14h1v1h-1zM53 14h1v1h-1zM56 14h1v1h-1zM59 14h1v1h-1zM65 14h1v1h-1zM71 14h1v1h-1zM74 14h1v1h-1zM44 15h1v1h-1zM46 15h1v1h-1zM50 15h1v1h-1zM55 15h1v1h-1zM58 15h2v1h-2zM70 15h1v1h-1zM76 15h1v1h-1zM43 16h2v1h-2zM54 16h1v1h-1zM67 16h1v1h-1zM49 17h1v1h-1zM52 17h2v1h-2zM73 17h1v1h-1zM53 18h4v1h-4zM62 18h1v1h-1zM68 18h1v1h-1zM72 18h1v1h-1zM42 19h1v1h-1zM44 19h1v1h-1zM57 19h2v1h-2zM70 19h2v1h-2zM73 19h1v1h-1zM79 19h2v1h-2zM40 20h1v1h-1zM71 20h1v1h-1zM78 20h1v1h-1zM38 21h1v1h-1zM43 21h1v1h-1zM52 21h1v1h-1zM54 21h1v1h-1zM68 21h1v1h-1zM80 21h1v1h-1zM43 22h1v1h-1zM72 22h1v1h-1zM74 22h1v1h-1zM76 22h2v1h-2zM80 22h2v1h-2zM37 23h1v1h-1zM39 23h1v1h-1zM48 23h1v1h-1zM53 23h1v1h-1zM61 23h1v1h-1zM73 23h2v1h-2zM76 23h1v1h-1zM83 23h1v1h-1zM41 24h1v1h-1zM46 24h1v1h-1zM65 24h2v1h-2zM68 24h1v1h-1zM70 24h1v1h-1zM73 24h1v1h-1zM76 24h2v1h-2zM85 24h1v1h-1zM36 25h1v1h-1zM38 25h1v1h-1zM46 25h2v1h-2zM63 25h1v1h-1zM70 25h1v1h-1zM73 25h1v1h-1zM75 25h1v1h-1zM77 25h1v1h-1zM80 25h1v1h-1zM86 25h1v1h-1zM33 26h1v1h-1zM36 26h1v1h-1zM46 26h1v1h-1zM51 26h2v1h-2zM61 26h1v1h-1zM87 26h1v1h-1zM38 27h1v1h-1zM42 27h1v1h-1zM53 27h1v1h-1zM59 27h1v1h-1zM70 27h1v1h-1zM80 27h2v1h-2zM87 27h1v1h-1zM31 28h1v1h-1zM33 28h2v1h-2zM40 28h1v1h-1zM51 28h1v1h-1zM58 28h2v1h-2zM61 28h1v1h-1zM70 28h3v1h-3zM74 28h1v1h-1zM81 28h1v1h-1zM86 28h1v1h-1zM89 28h1v1h-1zM33 29h1v1h-1zM35 29h2v1h-2zM38 29h1v1h-1zM44 29h1v1h-1zM54 29h1v1h-1zM56 29h1v1h-1zM58 29h2v1h-2zM64 29h1v1h-1zM71 29h1v1h-1zM83 29h1v1h-1zM87 29h2v1h-2zM33 30h1v1h-1zM35 30h2v1h-2zM53 30h1v1h-1zM69 30h1v1h-1zM71 30h1v1h-1zM82 30h2v1h-2zM88 30h1v1h-1zM41 31h1v1h-1zM47 31h1v1h-1zM52 31h1v1h-1zM65 31h1v1h-1zM68 31h2v1h-2zM78 31h1v1h-1zM83 31h2v1h-2zM43 32h3v1h-3zM50 32h1v1h-1zM52 32h1v1h-1zM54 32h1v1h-1zM56 32h1v1h-1zM71 32h2v1h-2zM74 32h1v1h-1zM76 32h1v1h-1zM85 32h1v1h-1zM89 32h1v1h-1zM27 33h1v1h-1zM32 33h2v1h-2zM40 33h1v1h-1zM54 33h1v1h-1zM75 33h1v1h-1zM82 33h1v1h-1zM85 33h2v1h-2zM94 33h1v1h-1zM41 34h1v1h-1zM49 34h1v1h-1zM62 34h3v1h-3zM73 34h2v1h-2zM81 34h2v1h-2zM94 34h1v1h-1zM31 35h1v1h-1zM38 35h1v1h-1zM47 35h3v1h-3zM55 35h1v1h-1zM57 35h1v1h-1zM65 35h1v1h-1zM75 35h1v1h-1zM80 35h2v1h-2zM26 36h1v1h-1zM31 36h1v1h-1zM44 36h2v1h-2zM50 36h1v1h-1zM64 36h1v1h-1zM81 36h2v1h-2zM89 36h1v1h-1zM95 36h2v1h-2zM32 37h1v1h-1zM40 37h1v1h-1zM52 37h1v1h-1zM55 37h1v1h-1zM60 37h1v1h-1zM64 37h2v1h-2zM72 37h2v1h-2zM81 37h1v1h-1zM87 37h1v1h-1zM32 38h1v1h-1zM34 38h2v1h-2zM53 38h1v1h-1zM63 38h1v1h-1zM71 38h3v1h-3zM80 38h2v1h-2zM85 38h1v1h-1zM87 38h1v1h-1zM90 38h1v1h-1zM95 38h1v1h-1zM30 39h1v1h-1zM35 39h1v1h-1zM38 39h1v1h-1zM40 39h2v1h-2zM50 39h1v1h-1zM70 39h1v1h-1zM72 39h3v1h-3zM21 40h2v1h-2zM30 40h1v1h-1zM45 40h2v1h-2zM59 40h1v1h-1zM72 40h2v1h-2zM75 40h1v1h-1zM77 40h1v1h-1zM82 40h1v1h-1zM89 40h2v1h-2zM100 40h1v1h-1zM32 41h2v1h-2zM36 41h1v1h-1zM48 41h1v1h-1zM52 41h1v1h-1zM57 41h1v1h-1zM60 41h1v1h-1zM64 41h2v1h-2zM72 41h1v1h-1zM81 41h1v1h-1zM85 41h1v1h-1zM87 41h1v1h-1zM96 41h1v1h-1zM25 42h1v1h-1zM30 42h1v1h-1zM34 42h1v1h-1zM38 42h1v1h-1zM69 42h1v1h-1zM72 42h1v1h-1zM78 42h1v1h-1zM81 42h1v1h-1zM85 42h1v1h-1zM100 42h1v1h-1zM29 43h1v1h-1zM32 43h1v1h-1zM44 43h1v1h-1zM54 43h1v1h-1zM59 43h1v1h-1zM66 43h1v1h-1zM68 43h5v1h-5zM81 43h1v1h-1zM102 43h1v1h-1zM21 44h1v1h-1zM32 44h1v1h-1zM39 44h1v1h-1zM47 44h1v1h-1zM49 44h3v1h-3zM65 44h1v1h-1zM69 44h2v1h-2zM72 44h1v1h-1zM78 44h1v1h-1zM90 44h1v1h-1zM99 44h1v1h-1zM31 45h1v1h-1zM46 45h1v1h-1zM49 45h1v1h-1zM51 45h2v1h-2zM64 45h1v1h-1zM69 45h1v1h-1zM81 45h1v1h-1zM89 45h1v1h-1zM29 46h2v1h-2zM35 46h1v1h-1zM39 46h1v1h-1zM41 46h1v1h-1zM45 46h1v1h-1zM57 46h1v1h-1zM59 46h2v1h-2zM65 46h1v1h-1zM75 46h1v1h-1zM81 46h1v1h-1zM83 46h1v1h-1zM88 46h1v1h-1zM90 46h1v1h-1zM99 46h1v1h-1zM24 47h1v1h-1zM27 47h1v1h-1zM30 47h2v1h-2zM39 47h1v1h-1zM54 47h1v1h-1zM57 47h1v1h-1zM59 47h1v1h-1zM67 47h2v1h-2zM73 47h1v1h-1zM82 47h2v1h-2zM98 47h1v1h-1zM100 47h1v1h-1zM44 48h1v1h-1zM46 48h1v1h-1zM54 48h1v1h-1zM67 48h2v1h-2zM72 48h1v1h-1zM74 48h1v1h-1zM78 48h1v1h-1zM24 49h1v1h-1zM35 49h1v1h-1zM52 49h1v1h-1zM61 49h2v1h-2zM64 49h1v1h-1zM66 49h3v1h-3zM70 49h2v1h-2zM74 49h2v1h-2zM107 49h1v1h-1zM28 50h1v1h-1zM46 50h2v1h-2zM56 50h1v1h-1zM58 50h2v1h-2zM61 50h1v1h-1zM68 50h1v1h-1zM70 50h1v1h-1zM74 50h1v1h-1zM78 50h1v1h-1zM109 50h1v1h-1zM35 51h2v1h-2zM41 51h1v1h-1zM45 51h1v1h-1zM57 51h2v1h-2zM67 51h2v1h-2zM70 51h1v1h-1zM89 51h1v1h-1zM52 52h1v1h-1zM54 52h1v1h-1zM58 52h3v1h-3zM64 52h1v1h-1zM68 52h2v1h-2zM73 52h1v1h-1zM82 52h1v1h-1zM84 52h1v1h-1zM91 52h1v1h-1zM23 53h1v1h-1zM35 53h1v1h-1zM47 53h1v1h-1zM51 53h1v1h-1zM53 53h1v1h-1zM59 53h1v1h-1zM68 53h1v1h-1zM70 53h1v1h-1zM74 53h2v1h-2zM79 53h1v1h-1zM82 53h1v1h-1zM85 53h1v1h-1zM97 53h1v1h-1zM35 54h1v1h-1zM47 54h1v1h-1zM49 54h1v1h-1zM63 54h1v1h-1zM65 54h1v1h-1zM69 54h1v1h-1zM77 54h1v1h-1zM88 54h1v1h-1zM91 54h1v1h-1zM109 54h1v1h-1zM115 54h1v1h-1zM33 55h1v1h-1zM41 55h1v1h-1zM46 55h2v1h-2zM51 55h1v1h-1zM54 55h1v1h-1zM56 55h1v1h-1zM58 55h1v1h-1zM60 55h3v1h-3zM64 55h1v1h-1zM66 55h1v1h-1zM69 55h1v1h-1zM71 55h1v1h-1zM85 55h2v1h-2zM113 55h1v1h-1zM23 56h1v1h-1zM35 56h1v1h-1zM41 56h2v1h-2zM45 56h2v1h-2zM51 56h1v1h-1zM59 56h1v1h-1zM65 56h2v1h-2zM71 56h1v1h-1zM74 56h2v1h-2zM81 56h1v1h-1zM88 56h1v1h-1zM90 56h1v1h-1zM12 57h1v1h-1zM23 57h1v1h-1zM31 57h1v1h-1zM33 57h1v1h-1zM35 57h1v1h-1zM58 57h2v1h-2zM63 57h1v1h-1zM75 57h1v1h-1zM86 57h1v1h-1zM12 58h1v1h-1zM26 58h2v1h-2zM30 58h1v1h-1zM35 58h1v1h-1zM37 58h1v1h-1zM53 58h1v1h-1zM67 58h1v1h-1zM90 58h1v1h-1zM113 58h1v1h-1zM15 59h1v1h-1zM27 59h1v1h-1zM31 59h1v1h-1zM54 59h1v1h-1zM56 59h1v1h-1zM59 59h1v1h-1zM70 59h1v1h-1zM73 59h1v1h-1zM75 59h1v1h-1zM82 59h1v1h-1zM89 59h1v1h-1zM97 59h1v1h-1zM101 59h1v1h-1z"/>
<path fill="#f0ec79" d="M59 0h1v1h-1zM58 1h2v1h-2zM61 2h1v1h-1zM56 4h1v1h-1zM55 5h2v1h-2zM62 5h1v1h-1zM61 6h2v1h-2zM65 6h1v1h-1zM56 7h1v1h-1zM59 7h3v1h-3zM67 8h3v1h-3zM53 9h1v1h-1zM68 9h1v1h-1zM70 9h1v1h-1zM53 10h2v1h-2zM57 10h1v1h-1zM62 10h1v1h-1zM68 10h2v1h-2zM50 11h2v1h-2zM53 11h1v1h-1zM56 11h1v1h-1zM67 11h1v1h-1zM54 12h2v1h-2zM59 12h1v1h-1zM67 12h1v1h-1zM46 13h1v1h-1zM48 13h1v1h-1zM54 13h1v1h-1zM61 13h1v1h-1zM67 13h1v1h-1zM70 13h1v1h-1zM74 13h1v1h-1zM54 14h2v1h-2zM61 14h1v1h-1zM64 14h1v1h-1zM66 14h1v1h-1zM72 14h1v1h-1zM53 15h2v1h-2zM56 15h2v1h-2zM66 15h1v1h-1zM72 15h1v1h-1zM75 15h1v1h-1zM50 16h1v1h-1zM53 16h1v1h-1zM55 16h3v1h-3zM68 16h1v1h-1zM72 16h1v1h-1zM74 16h1v1h-1zM42 17h1v1h-1zM51 17h1v1h-1zM54 17h4v1h-4zM70 17h1v1h-1zM72 17h1v1h-1zM75 17h1v1h-1zM44 18h1v1h-1zM48 18h1v1h-1zM73 18h1v1h-1zM41 19h1v1h-1zM53 19h4v1h-4zM59 19h1v1h-1zM64 19h2v1h-2zM69 19h1v1h-1zM41 20h1v1h-1zM48 20h1v1h-1zM53 20h3v1h-3zM57 20h1v1h-1zM69 20h2v1h-2zM39 21h2v1h-2zM56 21h1v1h-1zM69 21h2v1h-2zM78 21h1v1h-1zM82 21h1v1h-1zM37 22h1v1h-1zM44 22h1v1h-1zM65 22h1v1h-1zM68 22h1v1h-1zM70 22h1v1h-1zM36 23h1v1h-1zM51 23h1v1h-1zM68 23h1v1h-1zM72 23h1v1h-1zM82 23h1v1h-1zM36 24h2v1h-2zM61 24h1v1h-1zM64 24h1v1h-1zM71 24h2v1h-2zM74 24h1v1h-1zM44 25h1v1h-1zM57 25h1v1h-1zM59 25h1v1h-1zM61 25h1v1h-1zM68 25h2v1h-2zM71 25h1v1h-1zM76 25h1v1h-1zM45 26h1v1h-1zM54 26h1v1h-1zM56 26h1v1h-1zM69 26h1v1h-1zM85 26h1v1h-1zM43 27h1v1h-1zM46 27h1v1h-1zM57 27h2v1h-2zM57 28h1v1h-1zM64 28h1v1h-1zM68 28h2v1h-2zM84 28h1v1h-1zM87 28h1v1h-1zM34 29h1v1h-1zM69 29h2v1h-2zM82 29h1v1h-1zM38 30h1v1h-1zM47 30h1v1h-1zM49 30h2v1h-2zM57 30h1v1h-1zM70 30h1v1h-1zM84 30h1v1h-1zM86 30h1v1h-1zM35 31h1v1h-1zM51 31h1v1h-1zM57 31h1v1h-1zM73 31h1v1h-1zM85 31h1v1h-1zM87 31h1v1h-1zM29 32h2v1h-2zM32 32h2v1h-2zM35 32h1v1h-1zM47 32h1v1h-1zM73 32h1v1h-1zM75 32h1v1h-1zM81 32h1v1h-1zM30 33h2v1h-2zM39 33h1v1h-1zM44 33h1v1h-1zM48 33h1v1h-1zM56 33h1v1h-1zM64 33h1v1h-1zM70 33h2v1h-2zM81 33h1v1h-1zM90 33h1v1h-1zM93 33h1v1h-1zM26 34h1v1h-1zM31 34h3v1h-3zM47 34h1v1h-1zM65 34h1v1h-1zM83 34h1v1h-1zM44 35h3v1h-3zM54 35h1v1h-1zM56 35h1v1h-1zM83 35h1v1h-1zM85 35h2v1h-2zM94 35h2v1h-2zM30 36h1v1h-1zM32 36h1v1h-1zM35 36h1v1h-1zM46 36h2v1h-2zM54 36h1v1h-1zM57 36h1v1h-1zM65 36h1v1h-1zM70 36h2v1h-2zM84 36h1v1h-1zM86 36h1v1h-1zM88 36h1v1h-1zM22 37h1v1h-1zM30 37h1v1h-1zM34 37h1v1h-1zM56 37h2v1h-2zM80 37h1v1h-1zM96 37h1v1h-1zM30 38h1v1h-1zM54 38h1v1h-1zM56 38h2v1h-2zM64 38h2v1h-2zM91 38h1v1h-1zM93 38h1v1h-1zM96 38h1v1h-1zM22 39h1v1h-1zM32 39h2v1h-2zM54 39h1v1h-1zM57 39h1v1h-1zM64 39h1v1h-1zM86 39h1v1h-1zM97 39h1v1h-1zM19 40h1v1h-1zM27 40h1v1h-1zM38 40h1v1h-1zM44 40h1v1h-1zM47 40h1v1h-1zM54 40h1v1h-1zM57 40h1v1h-1zM64 40h2v1h-2zM74 40h1v1h-1zM85 40h2v1h-2zM96 40h1v1h-1zM98 40h1v1h-1zM27 41h4v1h-4zM70 41h1v1h-1zM74 41h1v1h-1zM76 41h1v1h-1zM91 41h1v1h-1zM97 41h1v1h-1zM19 42h3v1h-3zM28 42h1v1h-1zM59 42h1v1h-1zM64 42h2v1h-2zM71 42h1v1h-1zM73 42h2v1h-2zM82 42h1v1h-1zM89 42h1v1h-1zM21 43h1v1h-1zM26 43h1v1h-1zM30 43h1v1h-1zM33 43h1v1h-1zM41 43h1v1h-1zM52 43h2v1h-2zM64 43h1v1h-1zM73 43h3v1h-3zM94 43h1v1h-1zM15 44h1v1h-1zM20 44h1v1h-1zM23 44h1v1h-1zM27 44h1v1h-1zM30 44h1v1h-1zM38 44h1v1h-1zM48 44h1v1h-1zM64 44h1v1h-1zM14 45h1v1h-1zM19 45h2v1h-2zM26 45h1v1h-1zM30 45h1v1h-1zM41 45h1v1h-1zM48 45h1v1h-1zM50 45h1v1h-1zM71 45h4v1h-4zM94 45h1v1h-1zM20 46h1v1h-1zM23 46h1v1h-1zM27 46h1v1h-1zM34 46h1v1h-1zM36 46h1v1h-1zM44 46h1v1h-1zM46 46h1v1h-1zM51 46h1v1h-1zM73 46h2v1h-2zM101 46h1v1h-1zM16 47h1v1h-1zM19 47h3v1h-3zM33 47h1v1h-1zM35 47h1v1h-1zM41 47h1v1h-1zM61 47h1v1h-1zM69 47h1v1h-1zM72 47h1v1h-1zM94 47h1v1h-1zM14 48h1v1h-1zM23 48h1v1h-1zM25 48h1v1h-1zM30 48h1v1h-1zM35 48h1v1h-1zM41 48h1v1h-1zM51 48h1v1h-1zM69 48h2v1h-2zM73 48h1v1h-1zM84 48h1v1h-1zM101 48h1v1h-1zM20 49h2v1h-2zM30 49h1v1h-1zM33 49h1v1h-1zM41 49h1v1h-1zM56 49h2v1h-2zM69 49h1v1h-1zM72 49h2v1h-2zM78 49h1v1h-1zM82 49h1v1h-1zM93 49h2v1h-2zM98 49h1v1h-1zM25 50h1v1h-1zM30 50h1v1h-1zM35 50h1v1h-1zM41 50h1v1h-1zM64 50h1v1h-1zM69 50h1v1h-1zM72 50h2v1h-2zM75 50h1v1h-1zM80 50h1v1h-1zM90 50h2v1h-2zM103 50h1v1h-1zM108 50h1v1h-1zM9 51h2v1h-2zM12 51h1v1h-1zM20 51h1v1h-1zM24 51h1v1h-1zM33 51h1v1h-1zM52 51h1v1h-1zM56 51h1v1h-1zM69 51h1v1h-1zM72 51h2v1h-2zM78 51h1v1h-1zM81 51h1v1h-1zM86 51h1v1h-1zM93 51h2v1h-2zM109 51h1v1h-1zM30 52h1v1h-1zM41 52h1v1h-1zM51 52h1v1h-1zM56 52h1v1h-1zM74 52h2v1h-2zM80 52h1v1h-1zM85 52h1v1h-1zM90 52h1v1h-1zM94 52h1v1h-1zM97 52h1v1h-1zM102 52h1v1h-1zM7 53h1v1h-1zM20 53h1v1h-1zM24 53h1v1h-1zM30 53h1v1h-1zM33 53h1v1h-1zM36 53h1v1h-1zM41 53h1v1h-1zM49 53h1v1h-1zM56 53h2v1h-2zM65 53h1v1h-1zM72 53h2v1h-2zM78 53h1v1h-1zM81 53h1v1h-1zM93 53h2v1h-2zM102 53h1v1h-1zM106 53h1v1h-1zM8 54h2v1h-2zM21 54h1v1h-1zM23 54h1v1h-1zM25 54h1v1h-1zM27 54h1v1h-1zM30 54h1v1h-1zM41 54h1v1h-1zM57 54h1v1h-1zM64 54h1v1h-1zM71 54h4v1h-4zM78 54h4v1h-4zM94 54h1v1h-1zM97 54h1v1h-1zM102 54h1v1h-1zM11 55h1v1h-1zM15 55h1v1h-1zM24 55h1v1h-1zM34 55h1v1h-1zM36 55h1v1h-1zM45 55h1v1h-1zM57 55h1v1h-1zM65 55h1v1h-1zM67 55h1v1h-1zM72 55h4v1h-4zM89 55h1v1h-1zM93 55h2v1h-2zM99 55h1v1h-1zM25 56h1v1h-1zM30 56h1v1h-1zM34 56h1v1h-1zM56 56h1v1h-1zM60 56h1v1h-1zM64 56h1v1h-1zM73 56h1v1h-1zM91 56h1v1h-1zM94 56h1v1h-1zM101 56h2v1h-2zM15 57h1v1h-1zM20 57h1v1h-1zM26 57h3v1h-3zM30 57h1v1h-1zM36 57h1v1h-1zM41 57h1v1h-1zM49 57h1v1h-1zM54 57h1v1h-1zM57 57h1v1h-1zM61 57h1v1h-1zM64 57h1v1h-1zM70 57h1v1h-1zM72 57h1v1h-1zM74 57h1v1h-1zM81 57h1v1h-1zM94 57h1v1h-1zM99 57h1v1h-1zM6 58h1v1h-1zM23 58h1v1h-1zM29 58h1v1h-1zM36 58h1v1h-1zM50 58h1v1h-1zM52 58h1v1h-1zM56 58h2v1h-2zM68 58h3v1h-3zM72 58h3v1h-3zM79 58h2v1h-2zM82 58h1v1h-1zM94 58h1v1h-1zM108 58h1v1h-1zM114 58h1v1h-1zM11 59h1v1h-1zM20 59h1v1h-1zM26 59h1v1h-1zM28 59h3v1h-3zM33 59h1v1h-1zM35 59h2v1h-2zM41 59h1v1h-1zM57 59h1v1h-1zM62 59h1v1h-1zM64 59h1v1h-1zM68 59h1v1h-1zM72 59h1v1h-1zM74 59h1v1h-1zM80 59h1v1h-1zM93 59h3v1h-3zM98 59h2v1h-2zM117 59h1v1h-1z"/>
<path fill="#f7d768" d="M60 1h1v1h-1zM53 6h2v1h-2zM56 8h1v1h-1zM59 11h1v1h-1zM69 11h1v1h-1zM45 15h1v1h-1zM61 15h1v1h-1zM71 16h1v1h-1zM58 17h1v1h-1zM75 19h4v1h-4zM66 23h1v1h-1zM74 25h1v1h-1zM70 26h1v1h-1zM69 27h1v1h-1zM71 27h1v1h-1zM31 29h1v1h-1zM89 29h1v1h-1zM70 31h1v1h-1zM28 32h1v1h-1zM64 32h1v1h-1zM25 34h1v1h-1zM74 35h1v1h-1zM91 35h2v1h-2zM76 36h1v1h-1zM31 37h1v1h-1zM33 37h1v1h-1zM59 38h1v1h-1zM89 39h1v1h-1zM25 40h1v1h-1zM91 40h1v1h-1zM73 41h1v1h-1zM89 41h1v1h-1zM80 42h1v1h-1zM103 42h1v1h-1zM89 43h1v1h-1zM22 44h1v1h-1zM25 44h1v1h-1zM41 44h1v1h-1zM73 44h2v1h-2zM91 44h1v1h-1zM33 45h1v1h-1zM47 45h1v1h-1zM14 46h1v1h-1zM25 46h1v1h-1zM47 46h1v1h-1zM91 46h1v1h-1zM97 46h1v1h-1zM26 47h1v1h-1zM29 47h1v1h-1zM27 48h1v1h-1zM29 48h1v1h-1zM75 48h1v1h-1zM91 48h1v1h-1zM26 49h1v1h-1zM97 50h1v1h-1zM74 51h1v1h-1zM105 51h1v1h-1zM25 52h1v1h-1zM27 52h1v1h-1zM89 53h1v1h-1zM75 54h1v1h-1zM16 55h1v1h-1zM29 55h1v1h-1zM68 56h1v1h-1zM85 56h1v1h-1zM29 57h1v1h-1zM56 57h1v1h-1zM98 57h1v1h-1zM118 57h1v1h-1zM25 58h1v1h-1zM41 58h1v1h-1zM75 58h1v1h-1z"/>
<path fill="#ffbd57" d="M62 4h1v1h-1zM52 7h1v1h-1zM57 14h1v1h-1zM56 24h1v1h-1zM62 25h1v1h-1zM89 37h1v1h-1zM91 39h1v1h-1zM96 39h1v1h-1zM22 42h1v1h-1zM99 42h1v1h-1zM21 45h1v1h-1zM29 45h1v1h-1zM102 45h1v1h-1zM22 46h1v1h-1zM102 47h1v1h-1zM11 48h1v1h-1zM18 48h1v1h-1zM22 48h1v1h-1zM16 49h1v1h-1zM29 49h1v1h-1zM11 50h1v1h-1zM22 50h1v1h-1zM27 50h1v1h-1zM29 50h1v1h-1zM85 50h1v1h-1zM16 51h1v1h-1zM19 51h1v1h-1zM26 51h1v1h-1zM98 51h1v1h-1zM102 51h1v1h-1zM22 52h2v1h-2zM107 52h1v1h-1zM26 53h1v1h-1zM29 53h1v1h-1zM98 53h1v1h-1zM11 54h1v1h-1zM56 54h1v1h-1zM85 54h1v1h-1zM20 55h1v1h-1zM28 55h1v1h-1zM110 55h1v1h-1zM22 56h1v1h-1zM29 56h1v1h-1zM113 56h1v1h-1zM5 58h1v1h-1zM91 58h1v1h-1zM107 58h1v1h-1zM8 59h1v1h-1zM19 59h1v1h-1zM112 59h1v1h-1zM116 59h1v1h-1z"/>
<path fill="#ffa045" d="M63 2h1v1h-1zM59 9h1v1h-1zM61 9h1v1h-1zM56 12h1v1h-1zM58 13h1v1h-1zM68 14h1v1h-1zM77 17h1v1h-1zM57 18h1v1h-1zM56 20h1v1h-1zM65 23h1v1h-1zM65 25h1v1h-1zM30 29h1v1h-1zM28 31h1v1h-1zM93 32h1v1h-1zM89 33h1v1h-1zM93 34h1v1h-1zM89 35h1v1h-1zM75 36h1v1h-1zM91 37h1v1h-1zM20 39h1v1h-1zM91 42h1v1h-1zM18 47h1v1h-1zM85 48h1v1h-1zM109 48h1v1h-1zM10 49h1v1h-1zM19 49h1v1h-1zM102 49h1v1h-1zM23 50h1v1h-1zM29 51h1v1h-1zM29 52h1v1h-1zM101 52h1v1h-1zM103 52h1v1h-1zM9 53h1v1h-1zM16 53h1v1h-1zM22 54h1v1h-1zM29 54h1v1h-1zM101 54h1v1h-1zM98 55h1v1h-1zM9 56h1v1h-1zM11 56h1v1h-1zM8 57h1v1h-1zM11 57h1v1h-1zM9 58h1v1h-1zM11 58h1v1h-1zM85 58h1v1h-1z"/>
<path fill="#f4754b" d="M61 1h1v1h-1zM60 3h1v1h-1zM23 37h1v1h-1zM98 38h1v1h-1zM101 40h1v1h-1zM17 43h1v1h-1zM28 43h1v1h-1zM28 45h1v1h-1zM100 45h1v1h-1zM103 45h1v1h-1zM104 46h1v1h-1zM108 47h1v1h-1zM11 49h1v1h-1zM105 49h1v1h-1zM12 50h1v1h-1zM18 50h1v1h-1zM101 50h1v1h-1zM106 51h1v1h-1zM7 52h1v1h-1zM11 52h1v1h-1zM19 53h1v1h-1zM28 53h1v1h-1zM105 54h1v1h-1zM6 55h1v1h-1zM19 55h1v1h-1zM26 55h1v1h-1zM4 56h1v1h-1zM114 56h1v1h-1zM18 58h1v1h-1zM22 58h1v1h-1zM103 58h1v1h-1zM12 59h1v1h-1zM119 59h1v1h-1z"/>
<path fill="#ee504e" d="M60 5h1v1h-1zM100 41h1v1h-1zM18 45h1v1h-1zM106 50h1v1h-1zM105 58h2v1h-2zM114 59h2v1h-2z"/>
<path fill="#ff5a5a" d="M64 3h1v1h-1zM61 5h1v1h-1zM101 41h1v1h-1zM104 43h1v1h-1zM28 47h1v1h-1zM106 47h2v1h-2zM106 48h1v1h-1zM12 49h1v1h-1zM12 56h1v1h-1zM105 56h1v1h-1zM108 56h1v1h-1zM19 57h1v1h-1z"/>
<path fill="#ff7c7c" d="M60 4h1v1h-1zM18 43h1v1h-1zM28 49h1v1h-1zM8 51h1v1h-1zM28 51h1v1h-1zM106 52h1v1h-1zM113 53h1v1h-1zM18 54h1v1h-1zM103 54h1v1h-1zM18 56h1v1h-1z"/>
<path fill="#ff9e9e" d="M103 43h1v1h-1zM106 46h1v1h-1zM105 47h1v1h-1zM106 49h1v1h-1zM18 52h1v1h-1zM112 52h1v1h-1zM112 54h1v1h-1zM9 55h1v1h-1zM103 56h1v1h-1zM106 56h1v1h-1zM4 57h1v1h-1zM4 58h1v1h-1z"/>
<path fill="#f5b3ae" d="M100 43h1v1h-1zM7 54h1v1h-1zM106 54h1v1h-1zM113 54h1v1h-1zM3 56h1v1h-1zM107 56h1v1h-1z"/>
<path fill="#ffc4c4" d="M104 44h1v1h-1zM111 51h1v1h-1zM114 57h1v1h-1zM2 59h1v1h-1z"/>
<path fill="#ffd7d7" d="M12 52h1v1h-1zM108 52h1v1h-1zM110 53h1v1h-1zM108 54h1v1h-1zM117 58h1v1h-1z"/>
<path fill="#ffebeb" d="M5 54h1v1h-1zM12 54h1v1h-1z"/>
<path fill="#ffffff" d="M105 44h1v1h-1zM105 45h1v1h-1zM107 46h1v1h-1zM110 51h1v1h-1zM107 54h1v1h-1zM115 55h1v1h-1zM117 56h1v1h-1zM115 57h2v1h-2zM0 59h1v1h-1z"/>
</g>
<g transform="translate(1025.08 54.06) scale(6.059 6.92)" shape-rendering="crispEdges">
<path fill="#cdffa2" d="M59 0h3v1h-3zM58 1h5v1h-5zM57 2h7v1h-7zM56 3h9v1h-9zM55 4h11v1h-11zM54 5h13v1h-13zM53 6h15v1h-15zM52 7h17v1h-17zM51 8h19v1h-19zM50 9h21v1h-21zM49 10h23v1h-23zM48 11h25v1h-25zM47 12h27v1h-27zM46 13h29v1h-29zM45 14h31v1h-31zM44 15h33v1h-33zM43 16h35v1h-35zM42 17h37v1h-37zM41 18h39v1h-39zM40 19h41v1h-41zM39 20h43v1h-43zM38 21h45v1h-45zM37 22h47v1h-47zM36 23h49v1h-49zM35 24h51v1h-51zM34 25h53v1h-53zM33 26h55v1h-55zM32 27h57v1h-57zM31 28h59v1h-59zM30 29h61v1h-61zM29 30h63v1h-63zM28 31h65v1h-65zM27 32h67v1h-67zM26 33h69v1h-69zM25 34h71v1h-71zM24 35h73v1h-73zM23 36h75v1h-75zM22 37h77v1h-77zM21 38h79v1h-79zM20 39h81v1h-81zM19 40h83v1h-83zM18 41h85v1h-85zM17 42h87v1h-87zM16 43h89v1h-89zM15 44h91v1h-91zM14 45h93v1h-93zM13 46h95v1h-95zM12 47h97v1h-97zM11 48h99v1h-99zM10 49h101v1h-101zM9 50h103v1h-103zM8 51h105v1h-105zM7 52h107v1h-107zM6 53h109v1h-109zM5 54h111v1h-111zM4 55h113v1h-113zM3 56h115v1h-115zM2 57h117v1h-117zM1 58h119v1h-119zM0 59h121v1h-121z"/>
<path fill="#1405af" d="M8 53h1v1h-1z"/>
<path fill="#1a66f0" d="M59 2h1v1h-1zM58 3h1v1h-1zM60 6h1v1h-1z"/>
<path fill="#0d81f8" d="M107 48h1v1h-1zM9 52h1v1h-1z"/>
<path fill="#32beff" d="M60 2h1v1h-1zM59 6h1v1h-1zM56 10h1v1h-1zM60 10h1v1h-1zM15 46h1v1h-1zM8 52h1v1h-1zM8 58h1v1h-1zM112 58h1v1h-1zM8 59h1v1h-1z"/>
<path fill="#44caff" d="M56 6h1v1h-1zM55 7h1v1h-1zM62 7h1v1h-1zM52 9h1v1h-1zM58 10h1v1h-1zM62 11h1v1h-1zM20 41h1v1h-1zM101 42h1v1h-1zM104 45h1v1h-1zM111 52h1v1h-1zM112 55h1v1h-1zM8 56h1v1h-1zM60 59h1v1h-1z"/>
<path fill="#61e1f0" d="M55 4h1v1h-1zM63 4h1v1h-1zM12 47h1v1h-1zM110 49h1v1h-1zM16 57h1v1h-1z"/>
<path fill="#7cebc8" d="M57 2h1v1h-1zM56 3h1v1h-1zM59 3h1v1h-1zM59 4h1v1h-1zM59 5h1v1h-1zM66 5h1v1h-1zM53 8h2v1h-2zM60 11h1v1h-1zM66 12h1v1h-1zM68 12h2v1h-2zM60 13h1v1h-1zM62 13h2v1h-2zM66 13h1v1h-1zM69 13h1v1h-1zM67 16h1v1h-1zM65 17h1v1h-1zM39 22h1v1h-1zM62 23h1v1h-1zM78 24h1v1h-1zM78 31h1v1h-1zM54 40h1v1h-1zM57 40h1v1h-1zM54 44h1v1h-1zM106 45h1v1h-1zM55 46h1v1h-1zM13 47h1v1h-1zM13 48h1v1h-1zM107 49h1v1h-1zM20 50h1v1h-1zM84 50h1v1h-1zM108 50h1v1h-1zM56 52h1v1h-1zM12 53h1v1h-1zM75 53h1v1h-1zM75 56h1v1h-1zM79 56h1v1h-1zM9 57h1v1h-1zM9 58h1v1h-1zM106 59h1v1h-1z"/>
<path fill="#8aecae" d="M60 0h2v1h-2zM62 1h1v1h-1zM58 2h1v1h-1zM62 3h1v1h-1zM65 4h1v1h-1zM54 5h1v1h-1zM58 6h1v1h-1zM66 6h2v1h-2zM53 7h1v1h-1zM58 7h1v1h-1zM61 7h1v1h-1zM68 7h1v1h-1zM57 8h1v1h-1zM60 8h1v1h-1zM62 8h2v1h-2zM50 9h2v1h-2zM56 9h1v1h-1zM60 9h1v1h-1zM63 9h1v1h-1zM67 9h1v1h-1zM50 10h1v1h-1zM55 10h1v1h-1zM61 10h1v1h-1zM67 10h1v1h-1zM48 11h1v1h-1zM54 11h2v1h-2zM58 11h1v1h-1zM61 11h1v1h-1zM64 11h2v1h-2zM68 11h1v1h-1zM70 11h1v1h-1zM53 12h1v1h-1zM58 12h1v1h-1zM62 12h1v1h-1zM64 12h1v1h-1zM73 12h1v1h-1zM47 13h1v1h-1zM51 13h2v1h-2zM57 13h1v1h-1zM64 13h2v1h-2zM71 13h1v1h-1zM58 14h1v1h-1zM64 14h1v1h-1zM69 14h1v1h-1zM73 14h1v1h-1zM48 15h1v1h-1zM50 15h1v1h-1zM63 15h3v1h-3zM69 15h2v1h-2zM72 15h1v1h-1zM76 15h1v1h-1zM47 16h1v1h-1zM54 16h1v1h-1zM60 16h1v1h-1zM69 16h1v1h-1zM75 16h1v1h-1zM48 17h1v1h-1zM50 17h1v1h-1zM53 17h1v1h-1zM62 17h1v1h-1zM76 17h1v1h-1zM55 18h1v1h-1zM48 19h1v1h-1zM62 19h3v1h-3zM67 19h1v1h-1zM47 20h2v1h-2zM54 20h1v1h-1zM61 20h2v1h-2zM67 20h1v1h-1zM80 20h1v1h-1zM41 21h1v1h-1zM48 21h1v1h-1zM62 21h1v1h-1zM64 21h1v1h-1zM69 21h1v1h-1zM75 21h1v1h-1zM38 22h1v1h-1zM40 22h1v1h-1zM54 22h2v1h-2zM61 22h1v1h-1zM64 22h2v1h-2zM70 22h1v1h-1zM74 22h2v1h-2zM77 22h1v1h-1zM63 23h1v1h-1zM71 23h1v1h-1zM76 23h1v1h-1zM82 23h1v1h-1zM84 23h1v1h-1zM35 24h2v1h-2zM52 24h1v1h-1zM54 24h1v1h-1zM63 24h3v1h-3zM72 24h1v1h-1zM83 24h3v1h-3zM35 25h1v1h-1zM38 25h1v1h-1zM48 25h1v1h-1zM63 25h2v1h-2zM70 25h1v1h-1zM73 25h1v1h-1zM79 25h1v1h-1zM83 25h3v1h-3zM36 26h1v1h-1zM71 26h1v1h-1zM73 26h2v1h-2zM39 27h1v1h-1zM41 27h1v1h-1zM58 27h1v1h-1zM62 27h1v1h-1zM68 27h1v1h-1zM70 27h1v1h-1zM78 27h1v1h-1zM84 27h1v1h-1zM42 28h1v1h-1zM56 28h1v1h-1zM58 28h1v1h-1zM84 28h2v1h-2zM32 29h1v1h-1zM46 29h1v1h-1zM53 29h1v1h-1zM56 29h1v1h-1zM59 29h1v1h-1zM74 29h1v1h-1zM76 29h1v1h-1zM88 29h2v1h-2zM53 30h1v1h-1zM59 30h1v1h-1zM63 30h1v1h-1zM67 30h1v1h-1zM72 30h1v1h-1zM82 30h1v1h-1zM45 31h1v1h-1zM55 31h1v1h-1zM61 31h1v1h-1zM63 31h1v1h-1zM84 31h1v1h-1zM86 31h1v1h-1zM88 31h1v1h-1zM92 31h1v1h-1zM32 32h1v1h-1zM55 32h3v1h-3zM83 32h1v1h-1zM93 32h1v1h-1zM51 33h1v1h-1zM56 33h1v1h-1zM66 33h1v1h-1zM72 33h1v1h-1zM74 33h1v1h-1zM81 33h1v1h-1zM92 33h1v1h-1zM94 33h1v1h-1zM31 34h1v1h-1zM38 34h1v1h-1zM40 34h2v1h-2zM50 34h1v1h-1zM58 34h1v1h-1zM65 34h1v1h-1zM75 34h3v1h-3zM85 34h1v1h-1zM90 34h2v1h-2zM32 35h1v1h-1zM34 35h1v1h-1zM38 35h1v1h-1zM48 35h1v1h-1zM50 35h1v1h-1zM55 35h1v1h-1zM68 35h1v1h-1zM73 35h1v1h-1zM81 35h1v1h-1zM33 36h1v1h-1zM42 36h1v1h-1zM47 36h1v1h-1zM50 36h2v1h-2zM53 36h1v1h-1zM62 36h2v1h-2zM70 36h1v1h-1zM73 36h1v1h-1zM96 36h2v1h-2zM24 37h1v1h-1zM27 37h3v1h-3zM31 37h1v1h-1zM39 37h2v1h-2zM44 37h1v1h-1zM50 37h1v1h-1zM61 37h3v1h-3zM69 37h1v1h-1zM73 37h1v1h-1zM75 37h1v1h-1zM81 37h1v1h-1zM89 37h2v1h-2zM95 37h1v1h-1zM26 38h1v1h-1zM37 38h1v1h-1zM49 38h1v1h-1zM60 38h3v1h-3zM64 38h1v1h-1zM88 38h2v1h-2zM97 38h1v1h-1zM99 38h1v1h-1zM22 39h1v1h-1zM31 39h1v1h-1zM37 39h2v1h-2zM40 39h1v1h-1zM56 39h1v1h-1zM58 39h1v1h-1zM63 39h3v1h-3zM92 39h1v1h-1zM98 39h1v1h-1zM30 40h1v1h-1zM38 40h1v1h-1zM55 40h1v1h-1zM58 40h1v1h-1zM60 40h1v1h-1zM64 40h1v1h-1zM78 40h1v1h-1zM81 40h1v1h-1zM87 40h1v1h-1zM93 40h1v1h-1zM54 41h1v1h-1zM61 41h2v1h-2zM71 41h1v1h-1zM75 41h1v1h-1zM99 41h1v1h-1zM41 42h1v1h-1zM53 42h1v1h-1zM55 42h1v1h-1zM57 42h1v1h-1zM64 42h2v1h-2zM67 42h1v1h-1zM91 42h2v1h-2zM100 42h1v1h-1zM46 43h1v1h-1zM48 43h1v1h-1zM51 43h1v1h-1zM53 43h1v1h-1zM55 43h2v1h-2zM61 43h1v1h-1zM65 43h1v1h-1zM67 43h1v1h-1zM83 43h1v1h-1zM103 43h1v1h-1zM17 44h1v1h-1zM27 44h1v1h-1zM35 44h1v1h-1zM53 44h1v1h-1zM57 44h5v1h-5zM64 44h1v1h-1zM86 44h1v1h-1zM88 44h1v1h-1zM91 44h1v1h-1zM15 45h2v1h-2zM23 45h1v1h-1zM28 45h2v1h-2zM55 45h2v1h-2zM58 45h1v1h-1zM60 45h2v1h-2zM88 45h1v1h-1zM90 45h1v1h-1zM37 46h1v1h-1zM48 46h1v1h-1zM53 46h1v1h-1zM59 46h2v1h-2zM62 46h1v1h-1zM21 47h1v1h-1zM43 47h1v1h-1zM63 47h1v1h-1zM72 47h1v1h-1zM75 47h1v1h-1zM83 47h1v1h-1zM86 47h3v1h-3zM91 47h1v1h-1zM99 47h1v1h-1zM49 48h2v1h-2zM63 48h1v1h-1zM75 48h1v1h-1zM83 48h2v1h-2zM88 48h1v1h-1zM109 48h1v1h-1zM10 49h1v1h-1zM55 49h1v1h-1zM70 49h1v1h-1zM78 49h1v1h-1zM85 49h1v1h-1zM89 49h1v1h-1zM21 50h2v1h-2zM33 50h1v1h-1zM58 50h1v1h-1zM70 50h1v1h-1zM78 50h1v1h-1zM94 50h2v1h-2zM18 51h1v1h-1zM20 51h1v1h-1zM34 51h1v1h-1zM36 51h1v1h-1zM43 51h1v1h-1zM50 51h1v1h-1zM55 51h1v1h-1zM72 51h1v1h-1zM85 51h1v1h-1zM89 51h1v1h-1zM19 52h1v1h-1zM34 52h1v1h-1zM48 52h1v1h-1zM75 52h1v1h-1zM103 52h1v1h-1zM15 53h1v1h-1zM19 53h1v1h-1zM28 53h2v1h-2zM43 53h2v1h-2zM50 53h1v1h-1zM57 53h1v1h-1zM60 53h1v1h-1zM63 53h3v1h-3zM76 53h1v1h-1zM83 53h1v1h-1zM100 53h1v1h-1zM109 53h1v1h-1zM12 54h1v1h-1zM21 54h1v1h-1zM51 54h1v1h-1zM53 54h1v1h-1zM61 54h1v1h-1zM65 54h1v1h-1zM71 54h1v1h-1zM75 54h1v1h-1zM77 54h1v1h-1zM79 54h1v1h-1zM93 54h1v1h-1zM106 54h1v1h-1zM19 55h1v1h-1zM30 55h1v1h-1zM41 55h1v1h-1zM43 55h1v1h-1zM45 55h1v1h-1zM47 55h1v1h-1zM59 55h2v1h-2zM62 55h1v1h-1zM83 55h1v1h-1zM97 55h2v1h-2zM11 56h1v1h-1zM13 56h1v1h-1zM25 56h1v1h-1zM28 56h1v1h-1zM44 56h1v1h-1zM47 56h1v1h-1zM59 56h1v1h-1zM61 56h1v1h-1zM93 56h1v1h-1zM97 56h2v1h-2zM106 56h1v1h-1zM23 57h1v1h-1zM25 57h1v1h-1zM46 57h1v1h-1zM60 57h1v1h-1zM65 57h1v1h-1zM69 57h1v1h-1zM75 57h2v1h-2zM79 57h1v1h-1zM94 57h1v1h-1zM99 57h1v1h-1zM101 57h1v1h-1zM106 57h1v1h-1zM110 57h1v1h-1zM11 58h1v1h-1zM35 58h1v1h-1zM57 58h1v1h-1zM62 58h1v1h-1zM72 58h1v1h-1zM79 58h1v1h-1zM100 58h1v1h-1zM9 59h1v1h-1zM11 59h1v1h-1zM28 59h1v1h-1zM32 59h1v1h-1zM35 59h1v1h-1zM64 59h1v1h-1zM73 59h2v1h-2zM77 59h1v1h-1zM80 59h1v1h-1zM82 59h1v1h-1zM87 59h1v1h-1z"/>
<path fill="#acf5a8" d="M61 4h1v1h-1zM58 5h1v1h-1zM62 6h1v1h-1zM67 7h1v1h-1zM52 8h1v1h-1zM55 8h1v1h-1zM64 8h1v1h-1zM68 8h1v1h-1zM58 9h1v1h-1zM65 9h1v1h-1zM69 9h1v1h-1zM49 10h1v1h-1zM54 10h1v1h-1zM65 10h1v1h-1zM63 11h1v1h-1zM71 11h2v1h-2zM48 12h1v1h-1zM57 12h1v1h-1zM60 12h2v1h-2zM63 12h1v1h-1zM65 12h1v1h-1zM72 12h1v1h-1zM49 13h2v1h-2zM59 13h1v1h-1zM73 13h1v1h-1zM47 14h1v1h-1zM50 14h2v1h-2zM60 14h1v1h-1zM65 14h3v1h-3zM71 14h1v1h-1zM74 14h2v1h-2zM44 15h1v1h-1zM47 15h1v1h-1zM53 15h1v1h-1zM59 15h1v1h-1zM62 15h1v1h-1zM67 15h1v1h-1zM71 15h1v1h-1zM73 15h1v1h-1zM75 15h1v1h-1zM43 16h1v1h-1zM48 16h1v1h-1zM50 16h1v1h-1zM52 16h2v1h-2zM56 16h1v1h-1zM62 16h1v1h-1zM64 16h2v1h-2zM70 16h2v1h-2zM73 16h2v1h-2zM43 17h1v1h-1zM45 17h1v1h-1zM49 17h1v1h-1zM54 17h1v1h-1zM59 17h1v1h-1zM63 17h2v1h-2zM67 17h1v1h-1zM71 17h1v1h-1zM73 17h2v1h-2zM77 17h1v1h-1zM47 18h1v1h-1zM50 18h1v1h-1zM52 18h1v1h-1zM56 18h1v1h-1zM60 18h4v1h-4zM66 18h1v1h-1zM68 18h1v1h-1zM72 18h1v1h-1zM77 18h3v1h-3zM43 19h3v1h-3zM51 19h3v1h-3zM55 19h1v1h-1zM58 19h1v1h-1zM69 19h2v1h-2zM75 19h1v1h-1zM43 20h1v1h-1zM50 20h4v1h-4zM59 20h1v1h-1zM66 20h1v1h-1zM69 20h1v1h-1zM74 20h1v1h-1zM76 20h1v1h-1zM79 20h1v1h-1zM81 20h1v1h-1zM39 21h2v1h-2zM42 21h1v1h-1zM44 21h4v1h-4zM55 21h1v1h-1zM57 21h2v1h-2zM61 21h1v1h-1zM63 21h1v1h-1zM68 21h1v1h-1zM70 21h1v1h-1zM76 21h2v1h-2zM80 21h1v1h-1zM41 22h2v1h-2zM44 22h2v1h-2zM51 22h1v1h-1zM53 22h1v1h-1zM57 22h1v1h-1zM60 22h1v1h-1zM62 22h1v1h-1zM72 22h1v1h-1zM76 22h1v1h-1zM79 22h2v1h-2zM82 22h2v1h-2zM36 23h5v1h-5zM53 23h3v1h-3zM57 23h1v1h-1zM66 23h2v1h-2zM72 23h1v1h-1zM75 23h1v1h-1zM77 23h2v1h-2zM80 23h1v1h-1zM83 23h1v1h-1zM37 24h4v1h-4zM47 24h2v1h-2zM50 24h2v1h-2zM53 24h1v1h-1zM62 24h1v1h-1zM69 24h2v1h-2zM73 24h1v1h-1zM75 24h3v1h-3zM79 24h1v1h-1zM34 25h1v1h-1zM36 25h2v1h-2zM43 25h1v1h-1zM51 25h6v1h-6zM60 25h1v1h-1zM62 25h1v1h-1zM65 25h1v1h-1zM68 25h1v1h-1zM72 25h1v1h-1zM75 25h1v1h-1zM78 25h1v1h-1zM80 25h1v1h-1zM82 25h1v1h-1zM38 26h2v1h-2zM42 26h2v1h-2zM46 26h2v1h-2zM49 26h6v1h-6zM61 26h1v1h-1zM64 26h2v1h-2zM68 26h1v1h-1zM72 26h1v1h-1zM76 26h2v1h-2zM80 26h1v1h-1zM82 26h1v1h-1zM84 26h2v1h-2zM32 27h1v1h-1zM35 27h3v1h-3zM40 27h1v1h-1zM42 27h1v1h-1zM49 27h1v1h-1zM54 27h2v1h-2zM65 27h3v1h-3zM83 27h1v1h-1zM85 27h1v1h-1zM87 27h2v1h-2zM32 28h1v1h-1zM38 28h2v1h-2zM43 28h4v1h-4zM52 28h1v1h-1zM54 28h2v1h-2zM64 28h1v1h-1zM71 28h1v1h-1zM76 28h1v1h-1zM78 28h1v1h-1zM83 28h1v1h-1zM86 28h1v1h-1zM88 28h1v1h-1zM33 29h2v1h-2zM41 29h1v1h-1zM44 29h1v1h-1zM55 29h1v1h-1zM57 29h2v1h-2zM64 29h2v1h-2zM67 29h1v1h-1zM71 29h1v1h-1zM80 29h1v1h-1zM84 29h1v1h-1zM87 29h1v1h-1zM90 29h1v1h-1zM32 30h1v1h-1zM39 30h2v1h-2zM43 30h2v1h-2zM46 30h2v1h-2zM51 30h1v1h-1zM54 30h3v1h-3zM58 30h1v1h-1zM60 30h1v1h-1zM68 30h1v1h-1zM71 30h1v1h-1zM73 30h3v1h-3zM77 30h1v1h-1zM83 30h1v1h-1zM87 30h1v1h-1zM89 30h1v1h-1zM28 31h1v1h-1zM37 31h1v1h-1zM39 31h1v1h-1zM43 31h1v1h-1zM47 31h1v1h-1zM53 31h1v1h-1zM56 31h1v1h-1zM58 31h2v1h-2zM64 31h4v1h-4zM69 31h1v1h-1zM72 31h1v1h-1zM76 31h1v1h-1zM79 31h2v1h-2zM83 31h1v1h-1zM87 31h1v1h-1zM29 32h2v1h-2zM33 32h1v1h-1zM38 32h2v1h-2zM41 32h1v1h-1zM43 32h1v1h-1zM47 32h1v1h-1zM50 32h1v1h-1zM52 32h1v1h-1zM59 32h1v1h-1zM64 32h1v1h-1zM66 32h1v1h-1zM68 32h1v1h-1zM70 32h1v1h-1zM77 32h2v1h-2zM84 32h2v1h-2zM90 32h1v1h-1zM26 33h2v1h-2zM33 33h1v1h-1zM36 33h1v1h-1zM38 33h1v1h-1zM41 33h1v1h-1zM44 33h4v1h-4zM54 33h1v1h-1zM59 33h1v1h-1zM65 33h1v1h-1zM73 33h1v1h-1zM77 33h1v1h-1zM83 33h1v1h-1zM85 33h3v1h-3zM89 33h2v1h-2zM25 34h2v1h-2zM28 34h1v1h-1zM30 34h1v1h-1zM33 34h1v1h-1zM39 34h1v1h-1zM44 34h3v1h-3zM51 34h1v1h-1zM53 34h1v1h-1zM55 34h1v1h-1zM60 34h3v1h-3zM64 34h1v1h-1zM70 34h1v1h-1zM72 34h1v1h-1zM78 34h3v1h-3zM82 34h3v1h-3zM86 34h4v1h-4zM95 34h1v1h-1zM24 35h1v1h-1zM27 35h2v1h-2zM39 35h5v1h-5zM46 35h1v1h-1zM51 35h1v1h-1zM60 35h2v1h-2zM65 35h2v1h-2zM69 35h3v1h-3zM74 35h2v1h-2zM79 35h2v1h-2zM82 35h2v1h-2zM86 35h1v1h-1zM90 35h1v1h-1zM92 35h2v1h-2zM95 35h1v1h-1zM27 36h1v1h-1zM29 36h2v1h-2zM32 36h1v1h-1zM34 36h1v1h-1zM37 36h2v1h-2zM40 36h1v1h-1zM49 36h1v1h-1zM52 36h1v1h-1zM54 36h1v1h-1zM59 36h1v1h-1zM66 36h2v1h-2zM74 36h2v1h-2zM77 36h1v1h-1zM80 36h1v1h-1zM82 36h3v1h-3zM86 36h1v1h-1zM90 36h2v1h-2zM94 36h2v1h-2zM23 37h1v1h-1zM25 37h2v1h-2zM30 37h1v1h-1zM32 37h1v1h-1zM36 37h3v1h-3zM41 37h2v1h-2zM45 37h1v1h-1zM47 37h1v1h-1zM51 37h1v1h-1zM54 37h1v1h-1zM67 37h1v1h-1zM71 37h1v1h-1zM74 37h1v1h-1zM76 37h1v1h-1zM79 37h2v1h-2zM82 37h1v1h-1zM84 37h1v1h-1zM87 37h2v1h-2zM92 37h2v1h-2zM96 37h1v1h-1zM21 38h2v1h-2zM24 38h2v1h-2zM29 38h5v1h-5zM35 38h2v1h-2zM38 38h2v1h-2zM46 38h1v1h-1zM48 38h1v1h-1zM58 38h1v1h-1zM63 38h1v1h-1zM65 38h1v1h-1zM67 38h1v1h-1zM69 38h2v1h-2zM75 38h1v1h-1zM78 38h1v1h-1zM80 38h1v1h-1zM82 38h1v1h-1zM85 38h2v1h-2zM90 38h2v1h-2zM20 39h2v1h-2zM23 39h1v1h-1zM25 39h2v1h-2zM28 39h2v1h-2zM32 39h5v1h-5zM45 39h3v1h-3zM49 39h2v1h-2zM54 39h2v1h-2zM61 39h1v1h-1zM68 39h2v1h-2zM71 39h1v1h-1zM73 39h2v1h-2zM76 39h1v1h-1zM80 39h4v1h-4zM87 39h1v1h-1zM89 39h2v1h-2zM93 39h1v1h-1zM97 39h1v1h-1zM21 40h1v1h-1zM28 40h1v1h-1zM31 40h1v1h-1zM33 40h1v1h-1zM37 40h1v1h-1zM40 40h1v1h-1zM45 40h1v1h-1zM47 40h1v1h-1zM50 40h2v1h-2zM56 40h1v1h-1zM59 40h1v1h-1zM63 40h1v1h-1zM65 40h1v1h-1zM68 40h1v1h-1zM71 40h1v1h-1zM73 40h2v1h-2zM79 40h1v1h-1zM83 40h1v1h-1zM85 40h1v1h-1zM88 40h1v1h-1zM94 40h2v1h-2zM98 40h1v1h-1zM18 41h1v1h-1zM21 41h2v1h-2zM30 41h1v1h-1zM34 41h1v1h-1zM36 41h3v1h-3zM45 41h1v1h-1zM55 41h2v1h-2zM58 41h1v1h-1zM64 41h1v1h-1zM66 41h1v1h-1zM69 41h2v1h-2zM72 41h3v1h-3zM76 41h3v1h-3zM80 41h1v1h-1zM90 41h3v1h-3zM94 41h2v1h-2zM97 41h2v1h-2zM17 42h2v1h-2zM29 42h6v1h-6zM38 42h1v1h-1zM40 42h1v1h-1zM50 42h1v1h-1zM52 42h1v1h-1zM54 42h1v1h-1zM59 42h3v1h-3zM68 42h2v1h-2zM71 42h1v1h-1zM73 42h1v1h-1zM78 42h1v1h-1zM80 42h2v1h-2zM83 42h2v1h-2zM88 42h2v1h-2zM93 42h1v1h-1zM97 42h1v1h-1zM16 43h1v1h-1zM19 43h1v1h-1zM21 43h1v1h-1zM25 43h1v1h-1zM29 43h1v1h-1zM34 43h1v1h-1zM36 43h3v1h-3zM40 43h1v1h-1zM47 43h1v1h-1zM49 43h2v1h-2zM52 43h1v1h-1zM60 43h1v1h-1zM64 43h1v1h-1zM66 43h1v1h-1zM68 43h1v1h-1zM75 43h3v1h-3zM79 43h1v1h-1zM82 43h1v1h-1zM84 43h2v1h-2zM87 43h6v1h-6zM102 43h1v1h-1zM16 44h1v1h-1zM20 44h2v1h-2zM26 44h1v1h-1zM28 44h2v1h-2zM31 44h2v1h-2zM39 44h3v1h-3zM46 44h1v1h-1zM48 44h3v1h-3zM52 44h1v1h-1zM62 44h1v1h-1zM66 44h3v1h-3zM71 44h2v1h-2zM75 44h1v1h-1zM78 44h1v1h-1zM80 44h2v1h-2zM83 44h2v1h-2zM90 44h1v1h-1zM92 44h2v1h-2zM99 44h3v1h-3zM104 44h1v1h-1zM14 45h1v1h-1zM18 45h1v1h-1zM22 45h1v1h-1zM27 45h1v1h-1zM30 45h1v1h-1zM35 45h3v1h-3zM39 45h2v1h-2zM42 45h1v1h-1zM47 45h1v1h-1zM50 45h2v1h-2zM53 45h1v1h-1zM57 45h1v1h-1zM66 45h1v1h-1zM69 45h1v1h-1zM76 45h2v1h-2zM81 45h2v1h-2zM84 45h1v1h-1zM86 45h2v1h-2zM89 45h1v1h-1zM92 45h1v1h-1zM95 45h1v1h-1zM100 45h1v1h-1zM13 46h1v1h-1zM19 46h1v1h-1zM24 46h1v1h-1zM27 46h4v1h-4zM33 46h1v1h-1zM36 46h1v1h-1zM38 46h1v1h-1zM40 46h1v1h-1zM42 46h1v1h-1zM45 46h1v1h-1zM47 46h1v1h-1zM51 46h1v1h-1zM54 46h1v1h-1zM56 46h1v1h-1zM61 46h1v1h-1zM66 46h1v1h-1zM79 46h1v1h-1zM82 46h1v1h-1zM84 46h1v1h-1zM86 46h2v1h-2zM91 46h1v1h-1zM95 46h1v1h-1zM100 46h2v1h-2zM22 47h2v1h-2zM26 47h1v1h-1zM28 47h1v1h-1zM33 47h1v1h-1zM36 47h1v1h-1zM38 47h1v1h-1zM42 47h1v1h-1zM45 47h2v1h-2zM49 47h2v1h-2zM52 47h4v1h-4zM58 47h2v1h-2zM68 47h2v1h-2zM71 47h1v1h-1zM81 47h2v1h-2zM85 47h1v1h-1zM89 47h1v1h-1zM94 47h1v1h-1zM98 47h1v1h-1zM104 47h1v1h-1zM108 47h1v1h-1zM14 48h1v1h-1zM18 48h2v1h-2zM22 48h2v1h-2zM27 48h1v1h-1zM31 48h3v1h-3zM43 48h3v1h-3zM48 48h1v1h-1zM51 48h1v1h-1zM58 48h1v1h-1zM60 48h2v1h-2zM67 48h1v1h-1zM69 48h2v1h-2zM78 48h1v1h-1zM85 48h3v1h-3zM90 48h4v1h-4zM95 48h1v1h-1zM98 48h1v1h-1zM101 48h2v1h-2zM105 48h1v1h-1zM14 49h2v1h-2zM18 49h3v1h-3zM22 49h1v1h-1zM26 49h1v1h-1zM29 49h1v1h-1zM36 49h1v1h-1zM39 49h1v1h-1zM43 49h2v1h-2zM47 49h3v1h-3zM51 49h1v1h-1zM53 49h1v1h-1zM58 49h1v1h-1zM66 49h3v1h-3zM72 49h1v1h-1zM77 49h1v1h-1zM79 49h2v1h-2zM83 49h2v1h-2zM86 49h2v1h-2zM91 49h2v1h-2zM99 49h1v1h-1zM101 49h1v1h-1zM104 49h1v1h-1zM106 49h1v1h-1zM11 50h1v1h-1zM14 50h2v1h-2zM18 50h2v1h-2zM23 50h3v1h-3zM27 50h2v1h-2zM32 50h1v1h-1zM37 50h1v1h-1zM39 50h1v1h-1zM41 50h1v1h-1zM49 50h2v1h-2zM57 50h1v1h-1zM67 50h2v1h-2zM73 50h1v1h-1zM80 50h1v1h-1zM83 50h1v1h-1zM88 50h5v1h-5zM96 50h1v1h-1zM100 50h1v1h-1zM103 50h1v1h-1zM13 51h1v1h-1zM24 51h1v1h-1zM26 51h1v1h-1zM30 51h1v1h-1zM35 51h1v1h-1zM38 51h1v1h-1zM44 51h1v1h-1zM48 51h2v1h-2zM56 51h2v1h-2zM69 51h2v1h-2zM73 51h2v1h-2zM77 51h1v1h-1zM81 51h1v1h-1zM95 51h2v1h-2zM103 51h1v1h-1zM106 51h1v1h-1zM111 51h2v1h-2zM11 52h2v1h-2zM14 52h3v1h-3zM18 52h1v1h-1zM20 52h1v1h-1zM24 52h1v1h-1zM26 52h1v1h-1zM29 52h1v1h-1zM36 52h1v1h-1zM39 52h1v1h-1zM45 52h1v1h-1zM49 52h1v1h-1zM52 52h1v1h-1zM57 52h2v1h-2zM63 52h1v1h-1zM66 52h1v1h-1zM77 52h1v1h-1zM82 52h1v1h-1zM84 52h1v1h-1zM86 52h2v1h-2zM90 52h1v1h-1zM92 52h1v1h-1zM96 52h1v1h-1zM99 52h1v1h-1zM106 52h1v1h-1zM109 52h2v1h-2zM113 52h1v1h-1zM6 53h1v1h-1zM14 53h1v1h-1zM17 53h2v1h-2zM20 53h3v1h-3zM26 53h2v1h-2zM39 53h1v1h-1zM41 53h1v1h-1zM48 53h1v1h-1zM51 53h2v1h-2zM54 53h2v1h-2zM58 53h1v1h-1zM67 53h5v1h-5zM77 53h2v1h-2zM82 53h1v1h-1zM88 53h7v1h-7zM96 53h2v1h-2zM99 53h1v1h-1zM102 53h1v1h-1zM106 53h1v1h-1zM108 53h1v1h-1zM113 53h1v1h-1zM7 54h1v1h-1zM11 54h1v1h-1zM13 54h2v1h-2zM16 54h2v1h-2zM19 54h2v1h-2zM23 54h1v1h-1zM25 54h2v1h-2zM30 54h1v1h-1zM35 54h2v1h-2zM38 54h1v1h-1zM42 54h3v1h-3zM47 54h1v1h-1zM49 54h2v1h-2zM54 54h1v1h-1zM56 54h3v1h-3zM63 54h1v1h-1zM66 54h1v1h-1zM68 54h1v1h-1zM70 54h1v1h-1zM76 54h1v1h-1zM80 54h1v1h-1zM88 54h1v1h-1zM90 54h1v1h-1zM92 54h1v1h-1zM96 54h1v1h-1zM104 54h1v1h-1zM111 54h1v1h-1zM115 54h1v1h-1zM4 55h3v1h-3zM12 55h1v1h-1zM14 55h2v1h-2zM17 55h2v1h-2zM20 55h1v1h-1zM23 55h1v1h-1zM28 55h2v1h-2zM31 55h1v1h-1zM34 55h1v1h-1zM37 55h1v1h-1zM39 55h1v1h-1zM42 55h1v1h-1zM44 55h1v1h-1zM46 55h1v1h-1zM49 55h1v1h-1zM57 55h1v1h-1zM61 55h1v1h-1zM69 55h3v1h-3zM73 55h2v1h-2zM77 55h2v1h-2zM82 55h1v1h-1zM84 55h3v1h-3zM89 55h1v1h-1zM92 55h2v1h-2zM95 55h1v1h-1zM99 55h2v1h-2zM104 55h1v1h-1zM108 55h1v1h-1zM114 55h1v1h-1zM116 55h1v1h-1zM6 56h1v1h-1zM12 56h1v1h-1zM20 56h1v1h-1zM27 56h1v1h-1zM30 56h3v1h-3zM35 56h1v1h-1zM37 56h1v1h-1zM40 56h1v1h-1zM45 56h2v1h-2zM48 56h2v1h-2zM51 56h1v1h-1zM58 56h1v1h-1zM63 56h1v1h-1zM65 56h2v1h-2zM71 56h3v1h-3zM77 56h2v1h-2zM80 56h1v1h-1zM85 56h1v1h-1zM89 56h1v1h-1zM91 56h2v1h-2zM94 56h2v1h-2zM99 56h1v1h-1zM107 56h4v1h-4zM113 56h1v1h-1zM116 56h2v1h-2zM4 57h4v1h-4zM13 57h1v1h-1zM22 57h1v1h-1zM27 57h1v1h-1zM32 57h2v1h-2zM36 57h2v1h-2zM39 57h3v1h-3zM43 57h3v1h-3zM47 57h2v1h-2zM51 57h1v1h-1zM55 57h1v1h-1zM58 57h1v1h-1zM61 57h1v1h-1zM64 57h1v1h-1zM66 57h1v1h-1zM72 57h1v1h-1zM74 57h1v1h-1zM81 57h3v1h-3zM86 57h1v1h-1zM89 57h4v1h-4zM96 57h1v1h-1zM98 57h1v1h-1zM102 57h2v1h-2zM107 57h3v1h-3zM111 57h1v1h-1zM113 57h3v1h-3zM118 57h1v1h-1zM1 58h1v1h-1zM5 58h1v1h-1zM7 58h1v1h-1zM12 58h2v1h-2zM15 58h1v1h-1zM17 58h1v1h-1zM28 58h1v1h-1zM30 58h5v1h-5zM36 58h2v1h-2zM41 58h1v1h-1zM51 58h1v1h-1zM55 58h2v1h-2zM58 58h3v1h-3zM64 58h6v1h-6zM73 58h4v1h-4zM83 58h2v1h-2zM91 58h1v1h-1zM101 58h4v1h-4zM106 58h2v1h-2zM110 58h2v1h-2zM114 58h1v1h-1zM118 58h2v1h-2zM1 59h3v1h-3zM5 59h3v1h-3zM10 59h1v1h-1zM12 59h1v1h-1zM14 59h1v1h-1zM17 59h3v1h-3zM23 59h1v1h-1zM25 59h1v1h-1zM29 59h2v1h-2zM33 59h2v1h-2zM36 59h3v1h-3zM42 59h1v1h-1zM44 59h1v1h-1zM54 59h1v1h-1zM56 59h1v1h-1zM58 59h2v1h-2zM63 59h1v1h-1zM66 59h1v1h-1zM68 59h1v1h-1zM70 59h1v1h-1zM72 59h1v1h-1zM76 59h1v1h-1zM78 59h2v1h-2zM81 59h1v1h-1zM83 59h2v1h-2zM89 59h1v1h-1zM96 59h1v1h-1zM100 59h1v1h-1zM103 59h1v1h-1zM105 59h1v1h-1zM107 59h2v1h-2zM115 59h3v1h-3zM119 59h2v1h-2z"/>
<path fill="#dff58d" d="M62 4h1v1h-1zM57 5h1v1h-1zM65 5h1v1h-1zM54 6h2v1h-2zM61 6h1v1h-1zM63 7h1v1h-1zM65 7h1v1h-1zM58 8h2v1h-2zM67 8h1v1h-1zM69 8h1v1h-1zM68 9h1v1h-1zM70 9h1v1h-1zM52 10h1v1h-1zM59 10h1v1h-1zM64 10h1v1h-1zM68 10h1v1h-1zM52 11h1v1h-1zM56 11h2v1h-2zM67 11h1v1h-1zM49 12h1v1h-1zM54 12h2v1h-2zM53 13h1v1h-1zM67 13h1v1h-1zM45 14h1v1h-1zM51 15h1v1h-1zM61 15h1v1h-1zM58 16h1v1h-1zM47 17h1v1h-1zM56 17h1v1h-1zM41 18h2v1h-2zM53 18h1v1h-1zM59 18h1v1h-1zM64 18h1v1h-1zM71 18h1v1h-1zM40 19h1v1h-1zM74 19h1v1h-1zM76 19h1v1h-1zM80 19h1v1h-1zM45 20h1v1h-1zM60 20h1v1h-1zM65 20h1v1h-1zM77 20h1v1h-1zM49 21h1v1h-1zM59 21h1v1h-1zM74 21h1v1h-1zM47 22h1v1h-1zM59 22h1v1h-1zM63 22h1v1h-1zM43 24h1v1h-1zM55 24h1v1h-1zM57 24h1v1h-1zM60 24h1v1h-1zM66 24h1v1h-1zM57 25h1v1h-1zM59 25h1v1h-1zM40 26h1v1h-1zM59 26h1v1h-1zM62 26h1v1h-1zM67 26h1v1h-1zM78 26h1v1h-1zM46 27h1v1h-1zM50 27h1v1h-1zM53 27h1v1h-1zM56 27h1v1h-1zM60 27h2v1h-2zM63 27h1v1h-1zM86 27h1v1h-1zM33 28h1v1h-1zM47 28h1v1h-1zM57 28h1v1h-1zM65 28h1v1h-1zM68 28h1v1h-1zM79 28h1v1h-1zM82 28h1v1h-1zM31 29h1v1h-1zM49 29h3v1h-3zM60 29h1v1h-1zM63 29h1v1h-1zM66 29h1v1h-1zM70 29h1v1h-1zM79 29h1v1h-1zM31 30h1v1h-1zM37 30h1v1h-1zM48 30h1v1h-1zM85 30h2v1h-2zM32 31h1v1h-1zM44 31h1v1h-1zM52 31h1v1h-1zM62 31h1v1h-1zM42 32h1v1h-1zM71 32h1v1h-1zM35 33h1v1h-1zM42 33h1v1h-1zM57 33h1v1h-1zM62 33h1v1h-1zM78 33h1v1h-1zM88 33h1v1h-1zM63 34h1v1h-1zM74 34h1v1h-1zM81 34h1v1h-1zM44 35h1v1h-1zM59 35h1v1h-1zM84 35h1v1h-1zM87 35h1v1h-1zM41 36h1v1h-1zM69 36h1v1h-1zM92 36h2v1h-2zM43 37h1v1h-1zM53 37h1v1h-1zM58 37h1v1h-1zM28 38h1v1h-1zM56 38h2v1h-2zM83 38h2v1h-2zM39 39h1v1h-1zM44 39h1v1h-1zM51 39h1v1h-1zM66 39h1v1h-1zM34 40h1v1h-1zM42 40h1v1h-1zM44 40h1v1h-1zM46 40h1v1h-1zM49 40h1v1h-1zM52 40h2v1h-2zM61 40h1v1h-1zM91 40h1v1h-1zM96 40h1v1h-1zM19 41h1v1h-1zM35 41h1v1h-1zM49 41h1v1h-1zM63 41h1v1h-1zM89 41h1v1h-1zM100 41h2v1h-2zM22 42h1v1h-1zM35 42h1v1h-1zM39 42h1v1h-1zM56 42h1v1h-1zM63 42h1v1h-1zM87 42h1v1h-1zM96 42h1v1h-1zM39 43h1v1h-1zM45 43h1v1h-1zM57 43h2v1h-2zM62 43h2v1h-2zM71 43h1v1h-1zM97 43h1v1h-1zM63 44h1v1h-1zM79 44h1v1h-1zM97 44h1v1h-1zM102 44h2v1h-2zM105 44h1v1h-1zM33 45h1v1h-1zM43 45h1v1h-1zM45 45h2v1h-2zM54 45h1v1h-1zM65 45h1v1h-1zM85 45h1v1h-1zM94 45h1v1h-1zM97 45h2v1h-2zM31 46h2v1h-2zM35 46h1v1h-1zM44 46h1v1h-1zM63 46h1v1h-1zM15 47h1v1h-1zM17 47h1v1h-1zM19 47h1v1h-1zM37 47h1v1h-1zM40 47h1v1h-1zM51 47h1v1h-1zM56 47h1v1h-1zM65 47h1v1h-1zM84 47h1v1h-1zM105 47h1v1h-1zM11 48h1v1h-1zM20 48h1v1h-1zM30 48h1v1h-1zM46 48h1v1h-1zM80 48h1v1h-1zM94 48h1v1h-1zM104 48h1v1h-1zM108 48h1v1h-1zM11 49h1v1h-1zM28 49h1v1h-1zM33 49h1v1h-1zM35 49h1v1h-1zM40 49h1v1h-1zM50 49h1v1h-1zM59 49h1v1h-1zM71 49h1v1h-1zM76 49h1v1h-1zM12 50h1v1h-1zM17 50h1v1h-1zM26 50h1v1h-1zM35 50h1v1h-1zM43 50h2v1h-2zM47 50h1v1h-1zM59 50h1v1h-1zM69 50h1v1h-1zM79 50h1v1h-1zM97 50h1v1h-1zM110 50h1v1h-1zM16 51h1v1h-1zM32 51h1v1h-1zM42 51h1v1h-1zM54 51h1v1h-1zM64 51h1v1h-1zM68 51h1v1h-1zM79 51h1v1h-1zM88 51h1v1h-1zM91 51h1v1h-1zM98 51h1v1h-1zM101 51h1v1h-1zM105 51h1v1h-1zM22 52h2v1h-2zM25 52h1v1h-1zM30 52h1v1h-1zM32 52h2v1h-2zM59 52h3v1h-3zM74 52h1v1h-1zM78 52h1v1h-1zM23 53h1v1h-1zM35 53h1v1h-1zM38 53h1v1h-1zM73 53h1v1h-1zM84 53h1v1h-1zM101 53h1v1h-1zM107 53h1v1h-1zM10 54h1v1h-1zM24 54h1v1h-1zM31 54h2v1h-2zM37 54h1v1h-1zM39 54h2v1h-2zM46 54h1v1h-1zM48 54h1v1h-1zM64 54h1v1h-1zM87 54h1v1h-1zM97 54h1v1h-1zM108 54h1v1h-1zM26 55h1v1h-1zM68 55h1v1h-1zM80 55h1v1h-1zM105 55h1v1h-1zM110 55h1v1h-1zM15 56h1v1h-1zM18 56h1v1h-1zM34 56h1v1h-1zM52 56h1v1h-1zM76 56h1v1h-1zM83 56h1v1h-1zM19 57h1v1h-1zM28 57h1v1h-1zM49 57h1v1h-1zM52 57h1v1h-1zM56 57h2v1h-2zM63 57h1v1h-1zM68 57h1v1h-1zM26 58h1v1h-1zM46 58h1v1h-1zM49 58h1v1h-1zM87 58h1v1h-1zM13 59h1v1h-1zM22 59h1v1h-1zM45 59h1v1h-1zM49 59h1v1h-1zM62 59h1v1h-1zM71 59h1v1h-1zM93 59h1v1h-1zM99 59h1v1h-1zM110 59h2v1h-2z"/>
<path fill="#f0ec79" d="M59 0h1v1h-1zM58 1h2v1h-2zM61 2h1v1h-1zM56 4h1v1h-1zM58 4h1v1h-1zM64 4h1v1h-1zM55 5h2v1h-2zM62 5h1v1h-1zM53 6h1v1h-1zM57 6h1v1h-1zM63 6h1v1h-1zM65 6h1v1h-1zM54 7h1v1h-1zM56 7h2v1h-2zM59 7h2v1h-2zM64 7h1v1h-1zM66 7h1v1h-1zM56 8h1v1h-1zM61 9h1v1h-1zM64 9h1v1h-1zM57 10h1v1h-1zM66 10h1v1h-1zM50 11h2v1h-2zM50 12h1v1h-1zM56 12h1v1h-1zM59 12h1v1h-1zM67 12h1v1h-1zM48 13h1v1h-1zM54 13h1v1h-1zM72 13h1v1h-1zM55 14h2v1h-2zM61 14h1v1h-1zM55 15h1v1h-1zM57 15h2v1h-2zM60 15h1v1h-1zM44 16h1v1h-1zM65 18h1v1h-1zM41 19h1v1h-1zM38 21h1v1h-1zM66 22h1v1h-1zM58 23h1v1h-1zM60 23h1v1h-1zM79 23h1v1h-1zM81 23h1v1h-1zM44 25h1v1h-1zM61 25h1v1h-1zM48 27h1v1h-1zM59 28h1v1h-1zM61 28h1v1h-1zM80 28h1v1h-1zM36 29h1v1h-1zM38 29h1v1h-1zM61 29h1v1h-1zM36 30h1v1h-1zM61 30h1v1h-1zM77 31h1v1h-1zM31 32h1v1h-1zM48 32h2v1h-2zM62 32h1v1h-1zM87 32h2v1h-2zM48 33h1v1h-1zM64 33h1v1h-1zM69 33h1v1h-1zM71 33h1v1h-1zM43 34h1v1h-1zM57 35h1v1h-1zM56 36h3v1h-3zM64 36h1v1h-1zM76 36h1v1h-1zM66 37h1v1h-1zM68 37h1v1h-1zM66 38h1v1h-1zM74 38h1v1h-1zM79 38h1v1h-1zM41 39h1v1h-1zM27 40h1v1h-1zM72 40h1v1h-1zM101 40h1v1h-1zM57 41h1v1h-1zM68 41h1v1h-1zM96 41h1v1h-1zM99 42h1v1h-1zM102 42h1v1h-1zM17 43h2v1h-2zM20 43h1v1h-1zM73 43h1v1h-1zM104 43h1v1h-1zM15 44h1v1h-1zM37 44h1v1h-1zM99 45h1v1h-1zM102 45h2v1h-2zM16 46h1v1h-1zM41 46h1v1h-1zM72 46h1v1h-1zM97 46h1v1h-1zM14 47h1v1h-1zM31 47h1v1h-1zM97 47h1v1h-1zM15 48h1v1h-1zM54 48h1v1h-1zM56 48h2v1h-2zM59 48h1v1h-1zM68 48h1v1h-1zM77 48h1v1h-1zM79 48h1v1h-1zM13 49h1v1h-1zM17 49h1v1h-1zM61 49h1v1h-1zM69 49h1v1h-1zM97 49h1v1h-1zM105 49h1v1h-1zM45 50h1v1h-1zM60 50h2v1h-2zM65 50h1v1h-1zM81 50h1v1h-1zM86 50h1v1h-1zM102 50h1v1h-1zM111 50h1v1h-1zM10 51h1v1h-1zM27 51h1v1h-1zM31 51h1v1h-1zM39 51h1v1h-1zM75 51h1v1h-1zM107 51h1v1h-1zM109 51h1v1h-1zM10 52h1v1h-1zM13 52h1v1h-1zM55 52h1v1h-1zM97 52h2v1h-2zM104 52h1v1h-1zM108 52h1v1h-1zM30 53h1v1h-1zM105 53h1v1h-1zM111 53h2v1h-2zM8 54h1v1h-1zM107 54h1v1h-1zM109 54h1v1h-1zM66 55h1v1h-1zM9 56h1v1h-1zM101 56h1v1h-1zM111 56h1v1h-1zM11 57h2v1h-2zM70 57h1v1h-1zM84 57h1v1h-1zM112 57h1v1h-1zM18 58h1v1h-1zM40 58h1v1h-1zM45 58h1v1h-1zM61 58h1v1h-1zM86 58h1v1h-1zM15 59h1v1h-1zM26 59h1v1h-1zM41 59h1v1h-1zM53 59h1v1h-1zM97 59h1v1h-1z"/>
<path fill="#f7d768" d="M60 1h1v1h-1zM52 7h1v1h-1zM69 11h1v1h-1zM54 15h1v1h-1zM61 16h1v1h-1zM56 20h2v1h-2zM60 21h1v1h-1zM59 23h1v1h-1zM59 24h1v1h-1zM75 27h1v1h-1zM48 31h1v1h-1zM56 35h1v1h-1zM91 37h1v1h-1zM42 38h1v1h-1zM84 40h1v1h-1zM20 46h1v1h-1zM43 46h1v1h-1zM57 47h1v1h-1zM37 48h1v1h-1zM56 50h1v1h-1zM64 50h1v1h-1zM107 50h1v1h-1zM41 51h1v1h-1zM8 55h2v1h-2zM51 55h1v1h-1zM95 57h1v1h-1z"/>
<path fill="#ffbd57" d="M64 6h1v1h-1zM59 11h1v1h-1zM59 16h1v1h-1zM57 18h1v1h-1zM63 32h1v1h-1zM107 46h1v1h-1zM9 50h1v1h-1zM9 54h1v1h-1z"/>
<path fill="#ffa045" d="M63 2h1v1h-1zM63 5h1v1h-1zM59 9h1v1h-1zM58 13h1v1h-1zM58 17h1v1h-1zM106 47h1v1h-1zM60 51h1v1h-1z"/>
<path fill="#f4754b" d="M61 1h1v1h-1zM60 3h1v1h-1zM60 4h1v1h-1zM61 5h1v1h-1zM8 51h1v1h-1z"/>
<path fill="#ee504e" d="M60 5h1v1h-1zM12 49h1v1h-1z"/>
<path fill="#ff5a5a" d="M64 3h1v1h-1zM110 51h1v1h-1zM8 57h1v1h-1z"/>
<path fill="#ff9e9e" d="M112 52h1v1h-1zM112 54h1v1h-1z"/>
</g>
<g transform="translate(106.98 676.56) scale(6.059 6.92)" shape-rendering="crispEdges">
<path fill="#cdffa2" d="M59 0h3v1h-3zM58 1h5v1h-5zM57 2h7v1h-7zM56 3h9v1h-9zM55 4h11v1h-11zM54 5h13v1h-13zM53 6h15v1h-15zM52 7h17v1h-17zM51 8h19v1h-19zM50 9h21v1h-21zM49 10h23v1h-23zM48 11h25v1h-25zM47 12h27v1h-27zM46 13h29v1h-29zM45 14h31v1h-31zM44 15h33v1h-33zM43 16h35v1h-35zM42 17h37v1h-37zM41 18h39v1h-39zM40 19h41v1h-41zM39 20h43v1h-43zM38 21h45v1h-45zM37 22h47v1h-47zM36 23h49v1h-49zM35 24h51v1h-51zM34 25h53v1h-53zM33 26h55v1h-55zM32 27h57v1h-57zM31 28h59v1h-59zM30 29h61v1h-61zM29 30h63v1h-63zM28 31h65v1h-65zM27 32h67v1h-67zM26 33h69v1h-69zM25 34h71v1h-71zM24 35h73v1h-73zM23 36h75v1h-75zM22 37h77v1h-77zM21 38h79v1h-79zM20 39h81v1h-81zM19 40h83v1h-83zM18 41h85v1h-85zM17 42h87v1h-87zM16 43h89v1h-89zM15 44h91v1h-91zM14 45h93v1h-93zM13 46h95v1h-95zM12 47h97v1h-97zM11 48h99v1h-99zM10 49h101v1h-101zM9 50h103v1h-103zM8 51h105v1h-105zM7 52h107v1h-107zM6 53h109v1h-109zM5 54h111v1h-111zM4 55h113v1h-113zM3 56h115v1h-115zM2 57h117v1h-117zM1 58h119v1h-119zM0 59h121v1h-121z"/>
<path fill="#1a66f0" d="M59 2h1v1h-1zM58 3h1v1h-1z"/>
<path fill="#0d81f8" d="M59 6h1v1h-1z"/>
<path fill="#19afff" d="M63 4h1v1h-1zM60 6h1v1h-1z"/>
<path fill="#32beff" d="M60 2h1v1h-1zM55 4h1v1h-1zM59 4h1v1h-1zM58 6h1v1h-1zM58 10h1v1h-1zM62 11h1v1h-1zM63 13h1v1h-1z"/>
<path fill="#44caff" d="M56 6h1v1h-1zM55 7h1v1h-1zM62 7h1v1h-1zM63 9h1v1h-1zM56 10h1v1h-1zM60 10h1v1h-1zM20 41h1v1h-1z"/>
<path fill="#61e1f0" d="M54 5h1v1h-1zM64 5h1v1h-1zM66 5h1v1h-1zM72 12h1v1h-1zM62 13h1v1h-1z"/>
<path fill="#6aebe1" d="M57 5h1v1h-1zM59 5h1v1h-1zM63 8h1v1h-1zM52 9h1v1h-1zM63 11h2v1h-2zM64 12h1v1h-1zM64 13h1v1h-1z"/>
<path fill="#7cebc8" d="M57 2h1v1h-1zM56 3h1v1h-1zM63 7h2v1h-2zM57 8h1v1h-1zM64 8h1v1h-1zM57 9h1v1h-1zM60 9h1v1h-1zM61 10h1v1h-1zM58 11h1v1h-1zM60 11h1v1h-1zM58 12h1v1h-1zM65 12h2v1h-2zM57 13h1v1h-1zM60 13h1v1h-1zM65 13h2v1h-2zM61 16h2v1h-2zM59 17h1v1h-1zM58 18h2v1h-2zM72 19h1v1h-1zM61 21h1v1h-1zM58 23h1v1h-1zM92 33h1v1h-1zM58 34h1v1h-1zM93 39h1v1h-1zM27 42h1v1h-1zM85 42h1v1h-1zM75 43h1v1h-1zM59 48h1v1h-1zM60 49h1v1h-1zM62 50h1v1h-1zM91 56h1v1h-1zM93 58h1v1h-1z"/>
<path fill="#8aecae" d="M60 0h2v1h-2zM62 1h1v1h-1zM58 2h1v1h-1zM59 3h1v1h-1zM62 3h1v1h-1zM57 4h1v1h-1zM64 4h2v1h-2zM58 5h1v1h-1zM65 5h1v1h-1zM66 6h2v1h-2zM53 7h1v1h-1zM58 7h1v1h-1zM68 7h1v1h-1zM52 8h3v1h-3zM58 8h2v1h-2zM50 9h2v1h-2zM56 9h1v1h-1zM58 9h1v1h-1zM65 9h1v1h-1zM69 9h1v1h-1zM50 10h1v1h-1zM55 10h1v1h-1zM63 10h2v1h-2zM67 10h1v1h-1zM70 10h1v1h-1zM48 11h1v1h-1zM54 11h2v1h-2zM57 11h1v1h-1zM65 11h1v1h-1zM68 11h1v1h-1zM70 11h1v1h-1zM47 12h2v1h-2zM57 12h1v1h-1zM63 12h1v1h-1zM73 12h1v1h-1zM47 13h1v1h-1zM50 13h3v1h-3zM69 13h1v1h-1zM71 13h1v1h-1zM48 14h1v1h-1zM50 14h2v1h-2zM58 14h2v1h-2zM66 14h1v1h-1zM72 14h1v1h-1zM47 15h1v1h-1zM51 15h1v1h-1zM56 15h1v1h-1zM63 15h3v1h-3zM71 15h1v1h-1zM74 15h1v1h-1zM76 15h1v1h-1zM47 16h1v1h-1zM49 16h1v1h-1zM51 16h1v1h-1zM56 16h5v1h-5zM65 16h1v1h-1zM45 17h1v1h-1zM48 17h1v1h-1zM56 17h1v1h-1zM60 17h2v1h-2zM63 17h1v1h-1zM68 17h1v1h-1zM71 17h1v1h-1zM76 17h1v1h-1zM49 18h2v1h-2zM63 18h2v1h-2zM50 19h1v1h-1zM58 19h1v1h-1zM68 19h1v1h-1zM43 20h1v1h-1zM46 20h1v1h-1zM50 20h2v1h-2zM56 20h1v1h-1zM63 20h1v1h-1zM68 20h2v1h-2zM46 21h1v1h-1zM50 21h2v1h-2zM55 21h2v1h-2zM44 22h1v1h-1zM49 22h1v1h-1zM53 22h1v1h-1zM60 22h1v1h-1zM68 22h1v1h-1zM78 22h1v1h-1zM81 22h1v1h-1zM83 22h1v1h-1zM37 23h1v1h-1zM44 23h1v1h-1zM47 23h1v1h-1zM51 23h1v1h-1zM53 23h1v1h-1zM62 23h1v1h-1zM69 23h1v1h-1zM77 23h1v1h-1zM79 23h1v1h-1zM61 24h1v1h-1zM64 24h1v1h-1zM74 24h1v1h-1zM34 25h1v1h-1zM42 25h1v1h-1zM48 25h1v1h-1zM56 25h1v1h-1zM58 25h4v1h-4zM73 25h2v1h-2zM53 26h1v1h-1zM55 26h1v1h-1zM58 26h3v1h-3zM63 26h2v1h-2zM66 26h1v1h-1zM73 26h1v1h-1zM46 27h1v1h-1zM50 27h1v1h-1zM53 27h1v1h-1zM57 27h1v1h-1zM74 27h1v1h-1zM33 28h1v1h-1zM36 28h1v1h-1zM38 28h1v1h-1zM40 28h1v1h-1zM43 28h1v1h-1zM49 28h1v1h-1zM64 28h1v1h-1zM73 28h1v1h-1zM47 29h1v1h-1zM49 29h1v1h-1zM69 29h1v1h-1zM78 29h1v1h-1zM39 30h1v1h-1zM45 30h1v1h-1zM51 30h1v1h-1zM62 30h3v1h-3zM29 31h1v1h-1zM42 31h1v1h-1zM67 31h1v1h-1zM86 31h1v1h-1zM88 31h1v1h-1zM44 32h1v1h-1zM60 32h1v1h-1zM64 32h1v1h-1zM70 32h1v1h-1zM80 32h1v1h-1zM87 32h1v1h-1zM34 33h1v1h-1zM41 33h1v1h-1zM67 33h1v1h-1zM75 33h2v1h-2zM87 33h1v1h-1zM91 33h1v1h-1zM33 34h1v1h-1zM41 34h1v1h-1zM43 34h1v1h-1zM54 34h1v1h-1zM65 34h1v1h-1zM91 34h1v1h-1zM26 35h1v1h-1zM42 35h1v1h-1zM52 35h1v1h-1zM63 35h1v1h-1zM79 35h1v1h-1zM89 35h1v1h-1zM94 35h1v1h-1zM28 36h1v1h-1zM42 36h1v1h-1zM58 36h1v1h-1zM65 36h1v1h-1zM83 36h1v1h-1zM87 36h1v1h-1zM28 37h1v1h-1zM41 37h1v1h-1zM64 37h1v1h-1zM77 37h1v1h-1zM80 37h1v1h-1zM85 37h1v1h-1zM90 37h2v1h-2zM25 38h1v1h-1zM32 38h1v1h-1zM34 38h1v1h-1zM50 38h3v1h-3zM58 38h1v1h-1zM60 38h1v1h-1zM62 38h1v1h-1zM70 38h2v1h-2zM75 38h1v1h-1zM81 38h1v1h-1zM83 38h1v1h-1zM85 38h1v1h-1zM91 38h2v1h-2zM99 38h1v1h-1zM35 39h1v1h-1zM55 39h1v1h-1zM61 39h2v1h-2zM71 39h1v1h-1zM79 39h1v1h-1zM83 39h1v1h-1zM98 39h1v1h-1zM23 40h1v1h-1zM33 40h3v1h-3zM60 40h1v1h-1zM76 40h1v1h-1zM78 40h1v1h-1zM80 40h1v1h-1zM82 40h1v1h-1zM93 40h2v1h-2zM21 41h2v1h-2zM34 41h2v1h-2zM58 41h1v1h-1zM60 41h2v1h-2zM78 41h1v1h-1zM82 41h1v1h-1zM87 41h1v1h-1zM19 42h1v1h-1zM21 42h1v1h-1zM37 42h1v1h-1zM41 42h1v1h-1zM43 42h1v1h-1zM57 42h1v1h-1zM67 42h1v1h-1zM75 42h1v1h-1zM82 42h1v1h-1zM87 42h1v1h-1zM19 43h2v1h-2zM29 43h1v1h-1zM36 43h1v1h-1zM41 43h1v1h-1zM43 43h1v1h-1zM56 43h1v1h-1zM58 43h2v1h-2zM70 43h1v1h-1zM79 43h1v1h-1zM91 43h1v1h-1zM93 43h1v1h-1zM36 44h1v1h-1zM42 44h1v1h-1zM52 44h1v1h-1zM60 44h1v1h-1zM68 44h1v1h-1zM79 44h1v1h-1zM85 44h1v1h-1zM91 44h1v1h-1zM103 44h1v1h-1zM29 45h1v1h-1zM36 45h2v1h-2zM60 45h1v1h-1zM62 45h2v1h-2zM78 45h1v1h-1zM95 45h1v1h-1zM28 46h1v1h-1zM30 46h1v1h-1zM36 46h1v1h-1zM42 46h1v1h-1zM59 46h1v1h-1zM71 46h1v1h-1zM46 47h1v1h-1zM60 47h1v1h-1zM62 47h1v1h-1zM70 47h1v1h-1zM79 47h1v1h-1zM101 47h1v1h-1zM19 48h1v1h-1zM45 48h2v1h-2zM50 48h1v1h-1zM55 48h1v1h-1zM71 48h1v1h-1zM83 48h1v1h-1zM99 48h1v1h-1zM104 48h1v1h-1zM25 49h1v1h-1zM58 49h2v1h-2zM62 49h1v1h-1zM66 49h1v1h-1zM69 49h1v1h-1zM75 49h1v1h-1zM21 50h1v1h-1zM48 50h1v1h-1zM50 50h1v1h-1zM52 50h1v1h-1zM60 50h1v1h-1zM66 50h1v1h-1zM77 50h1v1h-1zM83 50h3v1h-3zM98 50h2v1h-2zM38 51h1v1h-1zM43 51h1v1h-1zM45 51h1v1h-1zM58 51h1v1h-1zM60 51h1v1h-1zM90 51h3v1h-3zM97 51h1v1h-1zM102 51h1v1h-1zM16 52h1v1h-1zM27 52h1v1h-1zM29 52h1v1h-1zM43 52h1v1h-1zM48 52h1v1h-1zM50 52h2v1h-2zM55 52h1v1h-1zM65 52h1v1h-1zM69 52h1v1h-1zM79 52h1v1h-1zM83 52h1v1h-1zM93 52h3v1h-3zM97 52h1v1h-1zM20 53h1v1h-1zM28 53h1v1h-1zM49 53h2v1h-2zM73 53h2v1h-2zM82 53h1v1h-1zM95 53h1v1h-1zM16 54h1v1h-1zM18 54h1v1h-1zM20 54h1v1h-1zM28 54h2v1h-2zM34 54h1v1h-1zM56 54h3v1h-3zM66 54h1v1h-1zM86 54h1v1h-1zM103 54h1v1h-1zM32 55h3v1h-3zM36 55h1v1h-1zM45 55h2v1h-2zM50 55h1v1h-1zM58 55h1v1h-1zM61 55h1v1h-1zM91 55h1v1h-1zM93 55h1v1h-1zM102 55h1v1h-1zM24 56h1v1h-1zM30 56h1v1h-1zM35 56h1v1h-1zM37 56h1v1h-1zM53 56h1v1h-1zM92 56h2v1h-2zM24 57h1v1h-1zM29 57h1v1h-1zM42 57h2v1h-2zM50 57h1v1h-1zM69 57h1v1h-1zM93 57h1v1h-1zM96 57h1v1h-1zM19 58h1v1h-1zM38 58h1v1h-1zM42 58h1v1h-1zM50 58h2v1h-2zM63 58h1v1h-1zM69 58h1v1h-1zM86 58h2v1h-2zM90 58h1v1h-1zM96 58h1v1h-1zM23 59h1v1h-1zM63 59h2v1h-2zM81 59h1v1h-1zM85 59h2v1h-2z"/>
<path fill="#acf5a8" d="M58 4h1v1h-1zM61 4h1v1h-1zM57 6h1v1h-1zM57 7h1v1h-1zM65 7h1v1h-1zM67 7h1v1h-1zM55 8h1v1h-1zM66 8h1v1h-1zM54 9h1v1h-1zM62 9h1v1h-1zM64 9h1v1h-1zM66 9h2v1h-2zM49 10h1v1h-1zM52 10h1v1h-1zM59 10h1v1h-1zM65 10h1v1h-1zM61 11h1v1h-1zM71 11h2v1h-2zM52 12h1v1h-1zM61 12h2v1h-2zM68 12h1v1h-1zM70 12h2v1h-2zM49 13h1v1h-1zM59 13h1v1h-1zM45 14h1v1h-1zM47 14h1v1h-1zM49 14h1v1h-1zM56 14h1v1h-1zM60 14h2v1h-2zM67 14h1v1h-1zM70 14h1v1h-1zM73 14h1v1h-1zM45 15h1v1h-1zM48 15h1v1h-1zM50 15h1v1h-1zM52 15h3v1h-3zM58 15h1v1h-1zM61 15h1v1h-1zM66 15h2v1h-2zM70 15h1v1h-1zM72 15h1v1h-1zM43 16h1v1h-1zM45 16h1v1h-1zM52 16h1v1h-1zM54 16h1v1h-1zM67 16h4v1h-4zM74 16h2v1h-2zM44 17h1v1h-1zM46 17h2v1h-2zM49 17h1v1h-1zM54 17h1v1h-1zM58 17h1v1h-1zM62 17h1v1h-1zM64 17h1v1h-1zM67 17h1v1h-1zM70 17h1v1h-1zM72 17h1v1h-1zM75 17h1v1h-1zM44 18h1v1h-1zM46 18h3v1h-3zM52 18h1v1h-1zM54 18h1v1h-1zM60 18h2v1h-2zM65 18h1v1h-1zM67 18h4v1h-4zM74 18h1v1h-1zM40 19h1v1h-1zM43 19h4v1h-4zM53 19h1v1h-1zM57 19h1v1h-1zM61 19h1v1h-1zM63 19h2v1h-2zM69 19h3v1h-3zM73 19h2v1h-2zM77 19h1v1h-1zM44 20h1v1h-1zM52 20h3v1h-3zM58 20h1v1h-1zM62 20h1v1h-1zM70 20h1v1h-1zM72 20h1v1h-1zM81 20h1v1h-1zM39 21h1v1h-1zM41 21h1v1h-1zM45 21h1v1h-1zM49 21h1v1h-1zM57 21h1v1h-1zM60 21h1v1h-1zM66 21h3v1h-3zM71 21h1v1h-1zM73 21h1v1h-1zM75 21h1v1h-1zM81 21h1v1h-1zM40 22h1v1h-1zM43 22h1v1h-1zM46 22h3v1h-3zM62 22h1v1h-1zM69 22h1v1h-1zM75 22h3v1h-3zM80 22h1v1h-1zM82 22h1v1h-1zM36 23h1v1h-1zM41 23h1v1h-1zM48 23h2v1h-2zM59 23h1v1h-1zM68 23h1v1h-1zM78 23h1v1h-1zM82 23h2v1h-2zM36 24h2v1h-2zM43 24h4v1h-4zM48 24h1v1h-1zM51 24h2v1h-2zM54 24h1v1h-1zM57 24h1v1h-1zM60 24h1v1h-1zM65 24h1v1h-1zM69 24h1v1h-1zM71 24h1v1h-1zM73 24h1v1h-1zM75 24h1v1h-1zM79 24h1v1h-1zM82 24h3v1h-3zM38 25h1v1h-1zM40 25h1v1h-1zM43 25h2v1h-2zM49 25h1v1h-1zM51 25h1v1h-1zM63 25h1v1h-1zM66 25h1v1h-1zM68 25h3v1h-3zM72 25h1v1h-1zM75 25h1v1h-1zM79 25h1v1h-1zM83 25h1v1h-1zM86 25h1v1h-1zM33 26h1v1h-1zM36 26h1v1h-1zM41 26h1v1h-1zM43 26h1v1h-1zM45 26h1v1h-1zM48 26h2v1h-2zM51 26h1v1h-1zM57 26h1v1h-1zM61 26h2v1h-2zM65 26h1v1h-1zM68 26h1v1h-1zM70 26h2v1h-2zM84 26h1v1h-1zM34 27h3v1h-3zM38 27h1v1h-1zM40 27h1v1h-1zM42 27h2v1h-2zM45 27h1v1h-1zM48 27h2v1h-2zM51 27h1v1h-1zM55 27h2v1h-2zM59 27h1v1h-1zM61 27h1v1h-1zM63 27h1v1h-1zM68 27h1v1h-1zM73 27h1v1h-1zM75 27h1v1h-1zM77 27h1v1h-1zM84 27h3v1h-3zM88 27h1v1h-1zM31 28h1v1h-1zM34 28h2v1h-2zM41 28h2v1h-2zM46 28h1v1h-1zM48 28h1v1h-1zM54 28h3v1h-3zM58 28h1v1h-1zM60 28h1v1h-1zM63 28h1v1h-1zM65 28h2v1h-2zM69 28h1v1h-1zM72 28h1v1h-1zM74 28h2v1h-2zM77 28h1v1h-1zM79 28h1v1h-1zM84 28h3v1h-3zM88 28h1v1h-1zM36 29h2v1h-2zM46 29h1v1h-1zM51 29h4v1h-4zM60 29h1v1h-1zM65 29h1v1h-1zM70 29h2v1h-2zM73 29h3v1h-3zM79 29h2v1h-2zM82 29h1v1h-1zM86 29h1v1h-1zM88 29h3v1h-3zM32 30h1v1h-1zM36 30h2v1h-2zM40 30h1v1h-1zM42 30h2v1h-2zM46 30h1v1h-1zM48 30h3v1h-3zM57 30h2v1h-2zM66 30h1v1h-1zM70 30h2v1h-2zM75 30h1v1h-1zM78 30h1v1h-1zM82 30h1v1h-1zM86 30h1v1h-1zM28 31h1v1h-1zM30 31h2v1h-2zM33 31h1v1h-1zM36 31h1v1h-1zM43 31h1v1h-1zM45 31h2v1h-2zM49 31h2v1h-2zM58 31h4v1h-4zM65 31h2v1h-2zM68 31h1v1h-1zM70 31h4v1h-4zM75 31h2v1h-2zM78 31h2v1h-2zM81 31h2v1h-2zM85 31h1v1h-1zM92 31h1v1h-1zM30 32h2v1h-2zM33 32h1v1h-1zM36 32h1v1h-1zM38 32h1v1h-1zM40 32h1v1h-1zM42 32h1v1h-1zM46 32h1v1h-1zM54 32h1v1h-1zM57 32h1v1h-1zM59 32h1v1h-1zM61 32h3v1h-3zM66 32h1v1h-1zM72 32h1v1h-1zM77 32h1v1h-1zM83 32h1v1h-1zM85 32h2v1h-2zM92 32h1v1h-1zM29 33h1v1h-1zM32 33h1v1h-1zM38 33h2v1h-2zM42 33h1v1h-1zM49 33h2v1h-2zM53 33h1v1h-1zM57 33h1v1h-1zM62 33h2v1h-2zM65 33h2v1h-2zM68 33h1v1h-1zM72 33h3v1h-3zM78 33h4v1h-4zM86 33h1v1h-1zM88 33h3v1h-3zM94 33h1v1h-1zM25 34h3v1h-3zM32 34h1v1h-1zM35 34h3v1h-3zM40 34h1v1h-1zM42 34h1v1h-1zM45 34h2v1h-2zM48 34h1v1h-1zM51 34h1v1h-1zM56 34h1v1h-1zM71 34h1v1h-1zM74 34h2v1h-2zM77 34h2v1h-2zM80 34h5v1h-5zM86 34h4v1h-4zM94 34h1v1h-1zM24 35h2v1h-2zM31 35h2v1h-2zM35 35h1v1h-1zM38 35h1v1h-1zM43 35h1v1h-1zM48 35h1v1h-1zM53 35h3v1h-3zM58 35h1v1h-1zM60 35h3v1h-3zM64 35h1v1h-1zM82 35h1v1h-1zM85 35h1v1h-1zM87 35h1v1h-1zM90 35h1v1h-1zM93 35h1v1h-1zM26 36h2v1h-2zM29 36h1v1h-1zM32 36h1v1h-1zM34 36h1v1h-1zM43 36h3v1h-3zM48 36h2v1h-2zM51 36h2v1h-2zM54 36h2v1h-2zM57 36h1v1h-1zM59 36h3v1h-3zM63 36h1v1h-1zM66 36h3v1h-3zM70 36h1v1h-1zM72 36h1v1h-1zM82 36h1v1h-1zM84 36h2v1h-2zM89 36h3v1h-3zM94 36h1v1h-1zM96 36h2v1h-2zM24 37h1v1h-1zM26 37h1v1h-1zM29 37h5v1h-5zM39 37h1v1h-1zM44 37h1v1h-1zM55 37h1v1h-1zM57 37h2v1h-2zM66 37h1v1h-1zM70 37h5v1h-5zM78 37h2v1h-2zM84 37h1v1h-1zM88 37h2v1h-2zM92 37h1v1h-1zM95 37h1v1h-1zM97 37h1v1h-1zM23 38h1v1h-1zM33 38h1v1h-1zM37 38h1v1h-1zM39 38h2v1h-2zM42 38h3v1h-3zM46 38h2v1h-2zM53 38h3v1h-3zM59 38h1v1h-1zM65 38h2v1h-2zM72 38h1v1h-1zM74 38h1v1h-1zM76 38h1v1h-1zM78 38h1v1h-1zM80 38h1v1h-1zM86 38h2v1h-2zM90 38h1v1h-1zM93 38h2v1h-2zM96 38h1v1h-1zM98 38h1v1h-1zM21 39h4v1h-4zM28 39h1v1h-1zM31 39h1v1h-1zM34 39h1v1h-1zM36 39h3v1h-3zM43 39h2v1h-2zM46 39h7v1h-7zM54 39h1v1h-1zM57 39h2v1h-2zM60 39h1v1h-1zM63 39h1v1h-1zM66 39h1v1h-1zM68 39h2v1h-2zM76 39h1v1h-1zM78 39h1v1h-1zM80 39h1v1h-1zM84 39h2v1h-2zM87 39h1v1h-1zM90 39h3v1h-3zM97 39h1v1h-1zM100 39h1v1h-1zM19 40h2v1h-2zM22 40h1v1h-1zM28 40h1v1h-1zM36 40h1v1h-1zM39 40h1v1h-1zM47 40h1v1h-1zM50 40h4v1h-4zM55 40h1v1h-1zM61 40h2v1h-2zM64 40h1v1h-1zM69 40h2v1h-2zM75 40h1v1h-1zM77 40h1v1h-1zM81 40h1v1h-1zM84 40h1v1h-1zM88 40h1v1h-1zM90 40h1v1h-1zM92 40h1v1h-1zM97 40h4v1h-4zM18 41h1v1h-1zM23 41h2v1h-2zM28 41h1v1h-1zM33 41h1v1h-1zM37 41h6v1h-6zM45 41h1v1h-1zM47 41h1v1h-1zM52 41h1v1h-1zM55 41h1v1h-1zM57 41h1v1h-1zM62 41h2v1h-2zM65 41h3v1h-3zM76 41h2v1h-2zM80 41h2v1h-2zM83 41h1v1h-1zM91 41h3v1h-3zM102 41h1v1h-1zM20 42h1v1h-1zM24 42h2v1h-2zM29 42h2v1h-2zM32 42h1v1h-1zM35 42h2v1h-2zM38 42h3v1h-3zM42 42h1v1h-1zM44 42h1v1h-1zM46 42h3v1h-3zM53 42h1v1h-1zM55 42h1v1h-1zM61 42h1v1h-1zM63 42h2v1h-2zM72 42h1v1h-1zM74 42h1v1h-1zM76 42h1v1h-1zM84 42h1v1h-1zM86 42h1v1h-1zM92 42h3v1h-3zM99 42h1v1h-1zM16 43h2v1h-2zM22 43h1v1h-1zM24 43h5v1h-5zM30 43h1v1h-1zM33 43h3v1h-3zM38 43h2v1h-2zM42 43h1v1h-1zM46 43h1v1h-1zM48 43h1v1h-1zM53 43h3v1h-3zM62 43h1v1h-1zM64 43h5v1h-5zM71 43h1v1h-1zM74 43h1v1h-1zM76 43h1v1h-1zM83 43h1v1h-1zM85 43h4v1h-4zM90 43h1v1h-1zM95 43h1v1h-1zM100 43h1v1h-1zM103 43h2v1h-2zM20 44h1v1h-1zM23 44h1v1h-1zM26 44h1v1h-1zM33 44h1v1h-1zM37 44h1v1h-1zM40 44h1v1h-1zM45 44h1v1h-1zM51 44h1v1h-1zM58 44h2v1h-2zM63 44h5v1h-5zM70 44h1v1h-1zM74 44h3v1h-3zM78 44h1v1h-1zM80 44h1v1h-1zM82 44h1v1h-1zM87 44h1v1h-1zM93 44h1v1h-1zM95 44h5v1h-5zM16 45h2v1h-2zM23 45h1v1h-1zM27 45h1v1h-1zM33 45h2v1h-2zM38 45h1v1h-1zM40 45h1v1h-1zM43 45h1v1h-1zM48 45h1v1h-1zM50 45h1v1h-1zM57 45h3v1h-3zM64 45h1v1h-1zM68 45h1v1h-1zM70 45h3v1h-3zM77 45h1v1h-1zM79 45h3v1h-3zM86 45h1v1h-1zM89 45h1v1h-1zM101 45h1v1h-1zM104 45h3v1h-3zM13 46h1v1h-1zM15 46h1v1h-1zM19 46h3v1h-3zM26 46h2v1h-2zM29 46h1v1h-1zM34 46h1v1h-1zM37 46h1v1h-1zM43 46h2v1h-2zM46 46h2v1h-2zM50 46h1v1h-1zM60 46h2v1h-2zM64 46h1v1h-1zM68 46h1v1h-1zM70 46h1v1h-1zM77 46h2v1h-2zM80 46h2v1h-2zM89 46h3v1h-3zM93 46h5v1h-5zM99 46h1v1h-1zM101 46h3v1h-3zM106 46h1v1h-1zM14 47h1v1h-1zM18 47h1v1h-1zM20 47h1v1h-1zM23 47h1v1h-1zM28 47h4v1h-4zM38 47h3v1h-3zM45 47h1v1h-1zM49 47h1v1h-1zM54 47h2v1h-2zM57 47h1v1h-1zM61 47h1v1h-1zM64 47h6v1h-6zM71 47h3v1h-3zM76 47h1v1h-1zM82 47h1v1h-1zM91 47h2v1h-2zM95 47h1v1h-1zM97 47h1v1h-1zM99 47h1v1h-1zM107 47h1v1h-1zM13 48h1v1h-1zM16 48h1v1h-1zM20 48h2v1h-2zM23 48h1v1h-1zM27 48h1v1h-1zM30 48h2v1h-2zM33 48h1v1h-1zM37 48h2v1h-2zM42 48h1v1h-1zM44 48h1v1h-1zM49 48h1v1h-1zM53 48h2v1h-2zM58 48h1v1h-1zM60 48h2v1h-2zM63 48h2v1h-2zM67 48h4v1h-4zM75 48h1v1h-1zM82 48h1v1h-1zM84 48h1v1h-1zM86 48h1v1h-1zM90 48h1v1h-1zM93 48h2v1h-2zM97 48h2v1h-2zM100 48h1v1h-1zM103 48h1v1h-1zM105 48h1v1h-1zM109 48h1v1h-1zM10 49h2v1h-2zM13 49h1v1h-1zM18 49h3v1h-3zM33 49h1v1h-1zM35 49h5v1h-5zM42 49h1v1h-1zM44 49h1v1h-1zM47 49h2v1h-2zM52 49h1v1h-1zM56 49h1v1h-1zM65 49h1v1h-1zM67 49h1v1h-1zM70 49h1v1h-1zM74 49h1v1h-1zM77 49h1v1h-1zM80 49h1v1h-1zM83 49h1v1h-1zM85 49h2v1h-2zM90 49h2v1h-2zM95 49h2v1h-2zM99 49h2v1h-2zM102 49h1v1h-1zM104 49h2v1h-2zM108 49h3v1h-3zM10 50h3v1h-3zM14 50h2v1h-2zM17 50h1v1h-1zM23 50h3v1h-3zM27 50h1v1h-1zM35 50h1v1h-1zM38 50h1v1h-1zM40 50h2v1h-2zM44 50h2v1h-2zM51 50h1v1h-1zM57 50h1v1h-1zM59 50h1v1h-1zM63 50h1v1h-1zM65 50h1v1h-1zM67 50h1v1h-1zM69 50h1v1h-1zM75 50h1v1h-1zM81 50h1v1h-1zM86 50h1v1h-1zM88 50h1v1h-1zM90 50h1v1h-1zM92 50h3v1h-3zM100 50h2v1h-2zM103 50h1v1h-1zM106 50h1v1h-1zM111 50h1v1h-1zM8 51h2v1h-2zM11 51h1v1h-1zM18 51h1v1h-1zM20 51h2v1h-2zM24 51h3v1h-3zM28 51h1v1h-1zM31 51h2v1h-2zM39 51h1v1h-1zM41 51h1v1h-1zM48 51h1v1h-1zM50 51h2v1h-2zM56 51h2v1h-2zM62 51h2v1h-2zM67 51h1v1h-1zM71 51h3v1h-3zM75 51h2v1h-2zM83 51h1v1h-1zM85 51h1v1h-1zM87 51h3v1h-3zM99 51h1v1h-1zM103 51h3v1h-3zM109 51h1v1h-1zM111 51h1v1h-1zM9 52h1v1h-1zM11 52h1v1h-1zM13 52h3v1h-3zM17 52h2v1h-2zM20 52h4v1h-4zM28 52h1v1h-1zM31 52h1v1h-1zM35 52h1v1h-1zM41 52h2v1h-2zM44 52h1v1h-1zM46 52h1v1h-1zM49 52h1v1h-1zM52 52h1v1h-1zM54 52h1v1h-1zM58 52h1v1h-1zM63 52h2v1h-2zM71 52h1v1h-1zM73 52h1v1h-1zM77 52h1v1h-1zM81 52h1v1h-1zM84 52h1v1h-1zM87 52h4v1h-4zM92 52h1v1h-1zM96 52h1v1h-1zM99 52h1v1h-1zM101 52h1v1h-1zM103 52h1v1h-1zM107 52h1v1h-1zM112 52h2v1h-2zM15 53h1v1h-1zM18 53h1v1h-1zM21 53h2v1h-2zM24 53h1v1h-1zM33 53h3v1h-3zM38 53h1v1h-1zM41 53h2v1h-2zM44 53h1v1h-1zM48 53h1v1h-1zM51 53h1v1h-1zM56 53h1v1h-1zM61 53h1v1h-1zM64 53h3v1h-3zM77 53h1v1h-1zM83 53h1v1h-1zM92 53h1v1h-1zM102 53h1v1h-1zM104 53h3v1h-3zM109 53h1v1h-1zM113 53h2v1h-2zM7 54h3v1h-3zM14 54h2v1h-2zM21 54h3v1h-3zM27 54h1v1h-1zM36 54h2v1h-2zM40 54h1v1h-1zM43 54h1v1h-1zM48 54h1v1h-1zM54 54h1v1h-1zM60 54h1v1h-1zM74 54h1v1h-1zM82 54h3v1h-3zM87 54h4v1h-4zM93 54h1v1h-1zM101 54h1v1h-1zM104 54h1v1h-1zM106 54h3v1h-3zM110 54h3v1h-3zM114 54h1v1h-1zM4 55h3v1h-3zM8 55h1v1h-1zM11 55h2v1h-2zM19 55h1v1h-1zM22 55h1v1h-1zM28 55h2v1h-2zM31 55h1v1h-1zM35 55h1v1h-1zM37 55h3v1h-3zM42 55h2v1h-2zM47 55h1v1h-1zM49 55h1v1h-1zM60 55h1v1h-1zM67 55h1v1h-1zM81 55h4v1h-4zM89 55h1v1h-1zM94 55h2v1h-2zM99 55h1v1h-1zM103 55h1v1h-1zM107 55h1v1h-1zM110 55h2v1h-2zM113 55h2v1h-2zM116 55h1v1h-1zM4 56h1v1h-1zM6 56h1v1h-1zM10 56h2v1h-2zM14 56h2v1h-2zM17 56h1v1h-1zM22 56h2v1h-2zM25 56h2v1h-2zM28 56h2v1h-2zM31 56h2v1h-2zM34 56h1v1h-1zM36 56h1v1h-1zM54 56h1v1h-1zM56 56h1v1h-1zM62 56h2v1h-2zM66 56h2v1h-2zM73 56h1v1h-1zM78 56h3v1h-3zM84 56h3v1h-3zM88 56h1v1h-1zM94 56h1v1h-1zM97 56h5v1h-5zM104 56h2v1h-2zM111 56h1v1h-1zM117 56h1v1h-1zM2 57h4v1h-4zM7 57h3v1h-3zM14 57h1v1h-1zM23 57h1v1h-1zM28 57h1v1h-1zM30 57h1v1h-1zM36 57h1v1h-1zM38 57h1v1h-1zM40 57h2v1h-2zM44 57h3v1h-3zM49 57h1v1h-1zM54 57h1v1h-1zM57 57h1v1h-1zM62 57h1v1h-1zM68 57h1v1h-1zM78 57h2v1h-2zM82 57h1v1h-1zM89 57h1v1h-1zM92 57h1v1h-1zM94 57h1v1h-1zM97 57h1v1h-1zM101 57h1v1h-1zM107 57h2v1h-2zM110 57h6v1h-6zM117 57h2v1h-2zM3 58h4v1h-4zM8 58h3v1h-3zM13 58h4v1h-4zM20 58h1v1h-1zM23 58h2v1h-2zM27 58h2v1h-2zM35 58h3v1h-3zM39 58h2v1h-2zM44 58h1v1h-1zM47 58h1v1h-1zM52 58h1v1h-1zM54 58h1v1h-1zM58 58h1v1h-1zM68 58h1v1h-1zM70 58h1v1h-1zM72 58h1v1h-1zM79 58h2v1h-2zM84 58h2v1h-2zM88 58h1v1h-1zM92 58h1v1h-1zM94 58h1v1h-1zM97 58h1v1h-1zM99 58h1v1h-1zM102 58h1v1h-1zM105 58h1v1h-1zM108 58h1v1h-1zM110 58h2v1h-2zM114 58h3v1h-3zM118 58h2v1h-2zM2 59h3v1h-3zM9 59h1v1h-1zM11 59h2v1h-2zM15 59h1v1h-1zM18 59h2v1h-2zM33 59h2v1h-2zM36 59h1v1h-1zM39 59h5v1h-5zM46 59h2v1h-2zM52 59h1v1h-1zM59 59h2v1h-2zM62 59h1v1h-1zM65 59h2v1h-2zM68 59h2v1h-2zM74 59h1v1h-1zM76 59h1v1h-1zM79 59h1v1h-1zM89 59h1v1h-1zM91 59h8v1h-8zM104 59h1v1h-1zM106 59h2v1h-2zM109 59h3v1h-3zM114 59h2v1h-2zM117 59h1v1h-1z"/>
<path fill="#dff58d" d="M66 7h1v1h-1zM66 10h1v1h-1zM71 10h1v1h-1zM52 11h1v1h-1zM49 12h2v1h-2zM60 12h1v1h-1zM53 13h1v1h-1zM72 13h1v1h-1zM63 14h2v1h-2zM68 14h2v1h-2zM46 15h1v1h-1zM73 17h1v1h-1zM77 17h1v1h-1zM40 20h1v1h-1zM47 20h1v1h-1zM71 20h1v1h-1zM75 20h1v1h-1zM79 20h1v1h-1zM54 21h1v1h-1zM59 21h1v1h-1zM64 21h1v1h-1zM78 21h1v1h-1zM56 22h1v1h-1zM58 22h2v1h-2zM63 22h1v1h-1zM38 23h1v1h-1zM67 23h1v1h-1zM71 23h1v1h-1zM47 24h1v1h-1zM56 24h1v1h-1zM59 24h1v1h-1zM67 24h1v1h-1zM72 24h1v1h-1zM55 25h1v1h-1zM77 25h1v1h-1zM47 26h1v1h-1zM56 26h1v1h-1zM75 26h1v1h-1zM54 27h1v1h-1zM66 27h1v1h-1zM76 27h1v1h-1zM81 27h1v1h-1zM51 28h1v1h-1zM53 28h1v1h-1zM57 28h1v1h-1zM59 28h1v1h-1zM62 28h1v1h-1zM67 28h1v1h-1zM81 28h1v1h-1zM30 29h2v1h-2zM40 29h1v1h-1zM44 29h1v1h-1zM56 29h2v1h-2zM84 29h1v1h-1zM31 30h1v1h-1zM54 30h1v1h-1zM60 30h1v1h-1zM67 30h1v1h-1zM77 30h1v1h-1zM87 30h1v1h-1zM89 30h1v1h-1zM38 31h1v1h-1zM47 31h2v1h-2zM83 31h1v1h-1zM91 31h1v1h-1zM28 32h1v1h-1zM32 32h1v1h-1zM39 32h1v1h-1zM43 32h1v1h-1zM55 32h1v1h-1zM90 32h1v1h-1zM30 33h1v1h-1zM46 33h1v1h-1zM54 33h1v1h-1zM71 33h1v1h-1zM50 34h1v1h-1zM55 34h1v1h-1zM61 34h1v1h-1zM63 34h1v1h-1zM33 35h1v1h-1zM39 35h1v1h-1zM50 35h1v1h-1zM59 35h1v1h-1zM68 35h1v1h-1zM35 36h1v1h-1zM56 36h1v1h-1zM62 36h1v1h-1zM74 36h2v1h-2zM77 36h1v1h-1zM80 36h1v1h-1zM35 37h1v1h-1zM47 37h2v1h-2zM76 37h1v1h-1zM86 37h1v1h-1zM35 38h1v1h-1zM48 38h1v1h-1zM56 38h1v1h-1zM63 38h1v1h-1zM39 39h1v1h-1zM45 39h1v1h-1zM64 39h1v1h-1zM74 39h2v1h-2zM25 40h1v1h-1zM29 40h1v1h-1zM31 40h1v1h-1zM57 40h2v1h-2zM63 40h1v1h-1zM86 40h1v1h-1zM96 40h1v1h-1zM29 41h1v1h-1zM54 41h1v1h-1zM89 41h2v1h-2zM56 42h1v1h-1zM78 42h1v1h-1zM80 42h1v1h-1zM97 42h2v1h-2zM100 42h1v1h-1zM23 43h1v1h-1zM44 43h1v1h-1zM60 43h1v1h-1zM98 43h1v1h-1zM18 44h1v1h-1zM32 44h1v1h-1zM38 44h1v1h-1zM47 44h1v1h-1zM49 44h1v1h-1zM88 44h1v1h-1zM53 45h1v1h-1zM56 45h1v1h-1zM90 45h1v1h-1zM96 45h1v1h-1zM100 45h1v1h-1zM17 46h1v1h-1zM25 46h1v1h-1zM100 46h1v1h-1zM22 47h1v1h-1zM50 47h1v1h-1zM63 47h1v1h-1zM85 47h1v1h-1zM88 47h1v1h-1zM93 47h1v1h-1zM98 47h1v1h-1zM17 48h1v1h-1zM26 48h1v1h-1zM88 48h1v1h-1zM102 48h1v1h-1zM16 49h1v1h-1zM32 49h1v1h-1zM34 49h1v1h-1zM53 49h1v1h-1zM55 49h1v1h-1zM72 49h1v1h-1zM46 50h1v1h-1zM55 50h2v1h-2zM64 50h1v1h-1zM79 50h1v1h-1zM97 50h1v1h-1zM30 51h1v1h-1zM33 51h1v1h-1zM64 51h2v1h-2zM19 52h1v1h-1zM33 52h2v1h-2zM56 52h2v1h-2zM59 52h1v1h-1zM62 52h1v1h-1zM67 52h2v1h-2zM74 52h1v1h-1zM100 52h1v1h-1zM59 53h1v1h-1zM70 53h1v1h-1zM76 53h1v1h-1zM80 53h1v1h-1zM25 54h1v1h-1zM41 54h2v1h-2zM46 54h1v1h-1zM55 54h1v1h-1zM64 54h1v1h-1zM77 54h1v1h-1zM17 55h1v1h-1zM21 55h1v1h-1zM44 55h1v1h-1zM63 55h1v1h-1zM74 55h1v1h-1zM87 55h1v1h-1zM90 55h1v1h-1zM100 55h1v1h-1zM42 56h1v1h-1zM50 56h1v1h-1zM57 56h1v1h-1zM59 56h1v1h-1zM70 56h1v1h-1zM82 56h1v1h-1zM32 57h1v1h-1zM34 57h1v1h-1zM58 57h2v1h-2zM72 57h3v1h-3zM80 57h1v1h-1zM31 58h2v1h-2zM45 58h1v1h-1zM49 58h1v1h-1zM95 58h1v1h-1zM20 59h1v1h-1zM26 59h1v1h-1zM30 59h1v1h-1zM45 59h1v1h-1zM53 59h1v1h-1zM55 59h1v1h-1zM58 59h1v1h-1z"/>
<path fill="#f0ec79" d="M59 0h1v1h-1zM58 1h2v1h-2zM61 2h1v1h-1zM56 4h1v1h-1zM55 5h2v1h-2zM62 5h1v1h-1zM61 6h2v1h-2zM65 6h1v1h-1zM56 7h1v1h-1zM59 7h3v1h-3zM67 8h3v1h-3zM53 9h1v1h-1zM68 9h1v1h-1zM70 9h1v1h-1zM53 10h2v1h-2zM57 10h1v1h-1zM62 10h1v1h-1zM68 10h2v1h-2zM50 11h2v1h-2zM53 11h1v1h-1zM56 11h1v1h-1zM67 11h1v1h-1zM54 12h2v1h-2zM59 12h1v1h-1zM67 12h1v1h-1zM46 13h1v1h-1zM48 13h1v1h-1zM54 13h1v1h-1zM61 13h1v1h-1zM67 13h1v1h-1zM70 13h1v1h-1zM74 13h1v1h-1zM56 18h2v1h-2zM47 19h1v1h-1zM59 19h1v1h-1zM59 20h2v1h-2zM77 21h1v1h-1zM61 22h1v1h-1zM64 23h1v1h-1zM80 23h1v1h-1zM63 24h1v1h-1zM62 25h1v1h-1zM64 25h1v1h-1zM60 27h1v1h-1zM38 29h1v1h-1zM62 29h1v1h-1zM34 30h2v1h-2zM69 31h1v1h-1zM56 32h1v1h-1zM44 33h1v1h-1zM51 33h1v1h-1zM58 33h1v1h-1zM28 34h1v1h-1zM47 34h1v1h-1zM62 34h1v1h-1zM68 34h1v1h-1zM29 35h1v1h-1zM45 35h1v1h-1zM38 36h1v1h-1zM46 36h1v1h-1zM53 36h1v1h-1zM73 36h1v1h-1zM36 37h1v1h-1zM52 37h1v1h-1zM56 37h1v1h-1zM27 38h1v1h-1zM65 40h1v1h-1zM72 40h2v1h-2zM97 41h1v1h-1zM71 42h1v1h-1zM79 42h1v1h-1zM90 42h1v1h-1zM25 44h1v1h-1zM50 44h1v1h-1zM57 44h1v1h-1zM74 45h1v1h-1zM83 46h1v1h-1zM43 47h1v1h-1zM86 47h1v1h-1zM39 48h1v1h-1zM43 48h1v1h-1zM23 49h1v1h-1zM50 49h1v1h-1zM16 50h1v1h-1zM22 50h1v1h-1zM96 50h1v1h-1zM96 51h1v1h-1zM25 52h1v1h-1zM62 53h2v1h-2zM84 53h1v1h-1zM100 53h2v1h-2zM45 54h1v1h-1zM70 54h2v1h-2zM80 55h1v1h-1zM98 55h1v1h-1zM60 56h1v1h-1zM64 56h1v1h-1zM72 56h1v1h-1zM89 56h1v1h-1zM56 57h1v1h-1zM75 57h1v1h-1zM17 58h1v1h-1zM33 58h1v1h-1zM57 58h1v1h-1zM62 58h1v1h-1zM82 58h1v1h-1zM101 58h1v1h-1zM56 59h1v1h-1zM90 59h1v1h-1zM102 59h1v1h-1z"/>
<path fill="#f7d768" d="M60 1h1v1h-1zM53 6h2v1h-2zM56 8h1v1h-1zM59 11h1v1h-1zM69 11h1v1h-1zM70 35h2v1h-2zM39 36h1v1h-1zM26 41h1v1h-1zM59 42h1v1h-1zM83 45h1v1h-1zM26 52h1v1h-1zM54 53h1v1h-1zM61 54h1v1h-1zM61 56h1v1h-1zM89 58h1v1h-1z"/>
<path fill="#ffbd57" d="M62 4h1v1h-1zM52 7h1v1h-1zM58 29h1v1h-1zM56 31h1v1h-1z"/>
<path fill="#ffa045" d="M63 2h1v1h-1zM59 9h1v1h-1zM61 9h1v1h-1zM56 12h1v1h-1zM58 13h1v1h-1z"/>
<path fill="#f4754b" d="M61 1h1v1h-1zM60 3h1v1h-1z"/>
<path fill="#ee504e" d="M60 5h1v1h-1z"/>
<path fill="#ff5a5a" d="M64 3h1v1h-1zM61 5h1v1h-1z"/>
<path fill="#ff7c7c" d="M60 4h1v1h-1z"/>
</g>
<g transform="translate(1025.08 676.66) scale(6.059 6.92)" shape-rendering="crispEdges">
<path fill="#cdffa2" d="M59 0h3v1h-3zM58 1h5v1h-5zM57 2h7v1h-7zM56 3h9v1h-9zM55 4h11v1h-11zM54 5h13v1h-13zM53 6h15v1h-15zM52 7h17v1h-17zM51 8h19v1h-19zM50 9h21v1h-21zM49 10h23v1h-23zM48 11h25v1h-25zM47 12h27v1h-27zM46 13h29v1h-29zM45 14h31v1h-31zM44 15h33v1h-33zM43 16h35v1h-35zM42 17h37v1h-37zM41 18h39v1h-39zM40 19h41v1h-41zM39 20h43v1h-43zM38 21h45v1h-45zM37 22h47v1h-47zM36 23h49v1h-49zM35 24h51v1h-51zM34 25h53v1h-53zM33 26h55v1h-55zM32 27h57v1h-57zM31 28h59v1h-59zM30 29h61v1h-61zM29 30h63v1h-63zM28 31h65v1h-65zM27 32h67v1h-67zM26 33h69v1h-69zM25 34h71v1h-71zM24 35h73v1h-73zM23 36h75v1h-75zM22 37h77v1h-77zM21 38h79v1h-79zM20 39h81v1h-81zM19 40h83v1h-83zM18 41h85v1h-85zM17 42h87v1h-87zM16 43h89v1h-89zM15 44h91v1h-91zM14 45h93v1h-93zM13 46h95v1h-95zM12 47h97v1h-97zM11 48h99v1h-99zM10 49h101v1h-101zM9 50h103v1h-103zM8 51h105v1h-105zM7 52h107v1h-107zM6 53h109v1h-109zM5 54h111v1h-111zM4 55h113v1h-113zM3 56h115v1h-115zM2 57h117v1h-117zM1 58h119v1h-119zM0 59h121v1h-121z"/>
<path fill="#1a66f0" d="M59 2h1v1h-1zM58 3h1v1h-1z"/>
<path fill="#0d81f8" d="M59 6h1v1h-1z"/>
<path fill="#19afff" d="M63 4h1v1h-1zM60 6h1v1h-1z"/>
<path fill="#32beff" d="M60 2h1v1h-1zM55 4h1v1h-1zM59 4h1v1h-1zM58 6h1v1h-1zM58 10h1v1h-1zM62 11h1v1h-1zM63 13h1v1h-1zM63 15h1v1h-1zM20 41h1v1h-1zM101 42h1v1h-1zM104 45h1v1h-1zM15 46h1v1h-1zM107 48h1v1h-1zM12 53h1v1h-1zM107 56h1v1h-1z"/>
<path fill="#44caff" d="M56 6h1v1h-1zM55 7h1v1h-1zM62 7h1v1h-1zM63 9h1v1h-1zM56 10h1v1h-1zM60 10h1v1h-1zM75 16h2v1h-2zM59 17h1v1h-1zM63 19h1v1h-1zM58 23h1v1h-1zM54 28h1v1h-1z"/>
<path fill="#61e1f0" d="M64 5h1v1h-1zM72 12h1v1h-1zM62 13h1v1h-1zM50 20h1v1h-1zM56 23h1v1h-1zM57 26h1v1h-1zM21 41h1v1h-1zM101 43h1v1h-1zM12 47h1v1h-1zM18 49h1v1h-1zM100 49h1v1h-1zM106 51h1v1h-1zM13 56h1v1h-1zM15 56h1v1h-1zM16 57h1v1h-1zM12 59h1v1h-1zM100 59h1v1h-1z"/>
<path fill="#6aebe1" d="M57 5h1v1h-1zM59 5h1v1h-1zM63 8h1v1h-1zM52 9h1v1h-1zM63 11h2v1h-2zM64 12h1v1h-1zM64 13h1v1h-1z"/>
<path fill="#7cebc8" d="M57 2h1v1h-1zM56 3h1v1h-1zM63 7h2v1h-2zM57 8h1v1h-1zM64 8h1v1h-1zM57 9h1v1h-1zM60 9h1v1h-1zM61 10h1v1h-1zM58 11h1v1h-1zM60 11h1v1h-1zM58 12h1v1h-1zM65 12h2v1h-2zM57 13h1v1h-1zM60 13h1v1h-1zM65 13h2v1h-2zM62 15h1v1h-1zM65 16h1v1h-1zM67 16h1v1h-1zM62 17h3v1h-3zM76 17h1v1h-1zM74 26h1v1h-1zM32 27h1v1h-1zM40 34h1v1h-1zM85 34h1v1h-1zM65 38h1v1h-1zM58 39h1v1h-1zM57 40h1v1h-1zM59 40h1v1h-1zM76 40h1v1h-1zM22 41h1v1h-1zM54 41h1v1h-1zM61 41h1v1h-1zM77 41h1v1h-1zM99 41h1v1h-1zM64 42h2v1h-2zM53 43h1v1h-1zM79 43h1v1h-1zM35 44h1v1h-1zM104 44h1v1h-1zM58 45h1v1h-1zM60 45h1v1h-1zM88 47h1v1h-1zM63 53h1v1h-1zM75 53h1v1h-1zM110 53h1v1h-1zM12 54h1v1h-1zM15 54h3v1h-3zM45 55h1v1h-1zM47 55h1v1h-1zM12 56h1v1h-1zM79 56h1v1h-1zM101 56h1v1h-1zM106 59h1v1h-1z"/>
<path fill="#8aecae" d="M60 0h2v1h-2zM62 1h1v1h-1zM58 2h1v1h-1zM59 3h1v1h-1zM62 3h1v1h-1zM57 4h1v1h-1zM64 4h2v1h-2zM54 5h1v1h-1zM58 5h1v1h-1zM65 5h2v1h-2zM66 6h2v1h-2zM53 7h1v1h-1zM58 7h1v1h-1zM68 7h1v1h-1zM52 8h3v1h-3zM58 8h2v1h-2zM50 9h2v1h-2zM56 9h1v1h-1zM58 9h1v1h-1zM65 9h1v1h-1zM69 9h1v1h-1zM50 10h1v1h-1zM55 10h1v1h-1zM63 10h2v1h-2zM67 10h1v1h-1zM70 10h1v1h-1zM48 11h1v1h-1zM54 11h2v1h-2zM57 11h1v1h-1zM65 11h1v1h-1zM68 11h1v1h-1zM70 11h1v1h-1zM47 12h2v1h-2zM57 12h1v1h-1zM63 12h1v1h-1zM73 12h1v1h-1zM47 13h1v1h-1zM50 13h3v1h-3zM69 13h1v1h-1zM71 13h1v1h-1zM50 14h1v1h-1zM58 14h1v1h-1zM62 14h2v1h-2zM67 14h1v1h-1zM69 14h1v1h-1zM47 15h1v1h-1zM64 15h2v1h-2zM67 15h1v1h-1zM69 15h1v1h-1zM75 15h1v1h-1zM60 16h1v1h-1zM62 16h1v1h-1zM64 16h1v1h-1zM69 16h2v1h-2zM61 17h1v1h-1zM65 17h1v1h-1zM67 17h1v1h-1zM72 17h2v1h-2zM66 18h1v1h-1zM44 19h1v1h-1zM49 19h2v1h-2zM62 19h1v1h-1zM64 19h1v1h-1zM66 19h2v1h-2zM72 19h1v1h-1zM43 20h1v1h-1zM47 20h2v1h-2zM51 20h1v1h-1zM62 20h1v1h-1zM66 20h2v1h-2zM76 20h1v1h-1zM39 21h1v1h-1zM41 21h1v1h-1zM48 21h1v1h-1zM54 21h1v1h-1zM64 21h1v1h-1zM66 21h1v1h-1zM68 21h2v1h-2zM75 21h3v1h-3zM38 22h2v1h-2zM44 22h1v1h-1zM48 22h2v1h-2zM51 22h5v1h-5zM60 22h2v1h-2zM64 22h2v1h-2zM70 22h3v1h-3zM74 22h2v1h-2zM77 22h1v1h-1zM38 23h1v1h-1zM52 23h1v1h-1zM62 23h2v1h-2zM76 23h1v1h-1zM82 23h1v1h-1zM35 24h1v1h-1zM63 24h1v1h-1zM65 24h1v1h-1zM72 24h2v1h-2zM81 24h1v1h-1zM83 24h3v1h-3zM38 25h1v1h-1zM56 25h1v1h-1zM63 25h1v1h-1zM70 25h1v1h-1zM73 25h1v1h-1zM79 25h2v1h-2zM84 25h2v1h-2zM36 26h1v1h-1zM38 26h1v1h-1zM55 26h1v1h-1zM60 26h1v1h-1zM71 26h1v1h-1zM73 26h1v1h-1zM77 26h1v1h-1zM80 26h1v1h-1zM82 26h1v1h-1zM38 27h1v1h-1zM41 27h1v1h-1zM66 27h3v1h-3zM82 27h1v1h-1zM35 28h1v1h-1zM38 28h1v1h-1zM42 28h1v1h-1zM44 28h1v1h-1zM62 28h1v1h-1zM71 28h2v1h-2zM32 29h1v1h-1zM44 29h1v1h-1zM46 29h1v1h-1zM53 29h1v1h-1zM74 29h1v1h-1zM76 29h1v1h-1zM80 29h1v1h-1zM84 29h1v1h-1zM86 29h2v1h-2zM89 29h1v1h-1zM40 30h1v1h-1zM44 30h1v1h-1zM46 30h1v1h-1zM53 30h1v1h-1zM59 30h1v1h-1zM67 30h2v1h-2zM72 30h1v1h-1zM75 30h1v1h-1zM88 30h2v1h-2zM39 31h1v1h-1zM41 31h1v1h-1zM53 31h1v1h-1zM55 31h1v1h-1zM61 31h1v1h-1zM67 31h1v1h-1zM69 31h1v1h-1zM76 31h1v1h-1zM78 31h1v1h-1zM80 31h1v1h-1zM86 31h1v1h-1zM92 31h1v1h-1zM32 32h1v1h-1zM34 32h1v1h-1zM39 32h3v1h-3zM45 32h1v1h-1zM53 32h1v1h-1zM55 32h1v1h-1zM64 32h1v1h-1zM68 32h1v1h-1zM70 32h1v1h-1zM90 32h1v1h-1zM93 32h1v1h-1zM27 33h1v1h-1zM34 33h1v1h-1zM41 33h1v1h-1zM45 33h1v1h-1zM51 33h1v1h-1zM56 33h1v1h-1zM74 33h1v1h-1zM76 33h1v1h-1zM81 33h1v1h-1zM26 34h2v1h-2zM34 34h1v1h-1zM36 34h1v1h-1zM41 34h1v1h-1zM44 34h1v1h-1zM51 34h1v1h-1zM58 34h1v1h-1zM61 34h2v1h-2zM64 34h1v1h-1zM75 34h2v1h-2zM79 34h2v1h-2zM82 34h1v1h-1zM84 34h1v1h-1zM86 34h1v1h-1zM90 34h1v1h-1zM26 35h1v1h-1zM32 35h1v1h-1zM34 35h1v1h-1zM38 35h1v1h-1zM40 35h3v1h-3zM50 35h2v1h-2zM53 35h1v1h-1zM55 35h1v1h-1zM65 35h1v1h-1zM74 35h2v1h-2zM27 36h1v1h-1zM32 36h2v1h-2zM38 36h1v1h-1zM47 36h1v1h-1zM49 36h1v1h-1zM51 36h1v1h-1zM62 36h1v1h-1zM73 36h4v1h-4zM90 36h1v1h-1zM96 36h2v1h-2zM27 37h1v1h-1zM32 37h1v1h-1zM37 37h1v1h-1zM40 37h1v1h-1zM42 37h1v1h-1zM44 37h1v1h-1zM50 37h1v1h-1zM62 37h2v1h-2zM65 37h1v1h-1zM74 37h3v1h-3zM90 37h1v1h-1zM26 38h1v1h-1zM32 38h1v1h-1zM34 38h2v1h-2zM38 38h1v1h-1zM49 38h1v1h-1zM61 38h1v1h-1zM64 38h1v1h-1zM76 38h1v1h-1zM86 38h1v1h-1zM88 38h2v1h-2zM97 38h1v1h-1zM22 39h1v1h-1zM25 39h2v1h-2zM31 39h2v1h-2zM34 39h1v1h-1zM37 39h2v1h-2zM40 39h1v1h-1zM45 39h1v1h-1zM48 39h2v1h-2zM60 39h1v1h-1zM63 39h1v1h-1zM65 39h1v1h-1zM68 39h2v1h-2zM76 39h1v1h-1zM83 39h1v1h-1zM97 39h2v1h-2zM28 40h1v1h-1zM30 40h1v1h-1zM33 40h2v1h-2zM38 40h1v1h-1zM40 40h1v1h-1zM45 40h1v1h-1zM50 40h2v1h-2zM54 40h1v1h-1zM56 40h1v1h-1zM58 40h1v1h-1zM64 40h2v1h-2zM73 40h1v1h-1zM78 40h2v1h-2zM81 40h1v1h-1zM93 40h2v1h-2zM18 41h1v1h-1zM24 41h1v1h-1zM34 41h1v1h-1zM36 41h1v1h-1zM38 41h1v1h-1zM55 41h1v1h-1zM60 41h1v1h-1zM62 41h1v1h-1zM66 41h1v1h-1zM71 41h3v1h-3zM75 41h2v1h-2zM82 41h1v1h-1zM86 41h1v1h-1zM90 41h1v1h-1zM34 42h1v1h-1zM45 42h2v1h-2zM52 42h1v1h-1zM62 42h1v1h-1zM76 42h1v1h-1zM80 42h1v1h-1zM88 42h1v1h-1zM90 42h1v1h-1zM92 42h2v1h-2zM16 43h1v1h-1zM25 43h1v1h-1zM34 43h1v1h-1zM45 43h4v1h-4zM51 43h1v1h-1zM61 43h1v1h-1zM64 43h2v1h-2zM67 43h1v1h-1zM77 43h1v1h-1zM83 43h2v1h-2zM87 43h1v1h-1zM93 43h1v1h-1zM103 43h1v1h-1zM16 44h1v1h-1zM27 44h3v1h-3zM31 44h1v1h-1zM40 44h1v1h-1zM44 44h2v1h-2zM52 44h3v1h-3zM57 44h5v1h-5zM64 44h1v1h-1zM75 44h4v1h-4zM81 44h1v1h-1zM86 44h1v1h-1zM91 44h1v1h-1zM105 44h1v1h-1zM15 45h2v1h-2zM23 45h1v1h-1zM25 45h1v1h-1zM28 45h2v1h-2zM37 45h3v1h-3zM45 45h1v1h-1zM51 45h1v1h-1zM56 45h1v1h-1zM76 45h1v1h-1zM90 45h1v1h-1zM103 45h1v1h-1zM19 46h1v1h-1zM22 46h1v1h-1zM24 46h1v1h-1zM26 46h1v1h-1zM36 46h1v1h-1zM38 46h1v1h-1zM45 46h1v1h-1zM48 46h1v1h-1zM53 46h1v1h-1zM57 46h1v1h-1zM59 46h1v1h-1zM76 46h1v1h-1zM79 46h1v1h-1zM100 46h1v1h-1zM21 47h2v1h-2zM34 47h1v1h-1zM36 47h1v1h-1zM45 47h1v1h-1zM49 47h1v1h-1zM52 47h1v1h-1zM59 47h1v1h-1zM69 47h1v1h-1zM71 47h2v1h-2zM76 47h1v1h-1zM81 47h1v1h-1zM91 47h1v1h-1zM94 47h1v1h-1zM100 47h1v1h-1zM17 48h1v1h-1zM23 48h1v1h-1zM31 48h3v1h-3zM44 48h2v1h-2zM48 48h4v1h-4zM58 48h1v1h-1zM67 48h1v1h-1zM69 48h2v1h-2zM75 48h2v1h-2zM78 48h1v1h-1zM90 48h2v1h-2zM100 48h1v1h-1zM105 48h1v1h-1zM14 49h2v1h-2zM36 49h1v1h-1zM39 49h1v1h-1zM49 49h1v1h-1zM51 49h1v1h-1zM58 49h1v1h-1zM70 49h1v1h-1zM76 49h3v1h-3zM89 49h1v1h-1zM91 49h2v1h-2zM24 50h1v1h-1zM33 50h1v1h-1zM36 50h1v1h-1zM41 50h1v1h-1zM55 50h1v1h-1zM68 50h1v1h-1zM70 50h1v1h-1zM76 50h3v1h-3zM80 50h1v1h-1zM84 50h1v1h-1zM89 50h1v1h-1zM100 50h1v1h-1zM10 51h1v1h-1zM18 51h1v1h-1zM26 51h1v1h-1zM30 51h1v1h-1zM33 51h1v1h-1zM35 51h2v1h-2zM38 51h1v1h-1zM43 51h1v1h-1zM51 51h1v1h-1zM56 51h1v1h-1zM69 51h2v1h-2zM72 51h1v1h-1zM74 51h1v1h-1zM76 51h2v1h-2zM81 51h1v1h-1zM89 51h1v1h-1zM24 52h1v1h-1zM35 52h3v1h-3zM44 52h1v1h-1zM48 52h2v1h-2zM51 52h1v1h-1zM56 52h2v1h-2zM66 52h1v1h-1zM75 52h3v1h-3zM87 52h1v1h-1zM98 52h1v1h-1zM100 52h2v1h-2zM103 52h1v1h-1zM14 53h2v1h-2zM20 53h1v1h-1zM26 53h1v1h-1zM29 53h1v1h-1zM38 53h1v1h-1zM44 53h2v1h-2zM50 53h1v1h-1zM57 53h1v1h-1zM60 53h1v1h-1zM64 53h1v1h-1zM76 53h1v1h-1zM78 53h1v1h-1zM83 53h1v1h-1zM90 53h1v1h-1zM92 53h1v1h-1zM96 53h1v1h-1zM13 54h1v1h-1zM23 54h1v1h-1zM36 54h1v1h-1zM43 54h2v1h-2zM51 54h1v1h-1zM53 54h1v1h-1zM61 54h1v1h-1zM65 54h1v1h-1zM68 54h1v1h-1zM70 54h2v1h-2zM75 54h3v1h-3zM79 54h1v1h-1zM90 54h1v1h-1zM93 54h1v1h-1zM95 54h1v1h-1zM106 54h1v1h-1zM14 55h1v1h-1zM28 55h1v1h-1zM30 55h1v1h-1zM38 55h1v1h-1zM41 55h1v1h-1zM43 55h1v1h-1zM57 55h1v1h-1zM60 55h1v1h-1zM62 55h1v1h-1zM65 55h1v1h-1zM67 55h1v1h-1zM69 55h2v1h-2zM76 55h3v1h-3zM83 55h1v1h-1zM97 55h2v1h-2zM108 55h1v1h-1zM25 56h1v1h-1zM28 56h1v1h-1zM32 56h1v1h-1zM37 56h1v1h-1zM44 56h5v1h-5zM51 56h1v1h-1zM61 56h1v1h-1zM63 56h1v1h-1zM75 56h1v1h-1zM77 56h2v1h-2zM93 56h2v1h-2zM97 56h1v1h-1zM100 56h1v1h-1zM106 56h1v1h-1zM11 57h1v1h-1zM13 57h1v1h-1zM15 57h1v1h-1zM23 57h1v1h-1zM25 57h1v1h-1zM37 57h1v1h-1zM43 57h1v1h-1zM60 57h1v1h-1zM65 57h1v1h-1zM69 57h1v1h-1zM74 57h1v1h-1zM77 57h3v1h-3zM83 57h1v1h-1zM94 57h1v1h-1zM101 57h2v1h-2zM10 58h2v1h-2zM22 58h1v1h-1zM30 58h1v1h-1zM33 58h1v1h-1zM35 58h1v1h-1zM38 58h1v1h-1zM42 58h1v1h-1zM57 58h1v1h-1zM64 58h4v1h-4zM69 58h1v1h-1zM72 58h1v1h-1zM74 58h1v1h-1zM76 58h1v1h-1zM79 58h1v1h-1zM84 58h1v1h-1zM100 58h1v1h-1zM103 58h1v1h-1zM110 58h1v1h-1zM10 59h2v1h-2zM30 59h1v1h-1zM32 59h1v1h-1zM35 59h1v1h-1zM38 59h2v1h-2zM54 59h1v1h-1zM56 59h1v1h-1zM64 59h1v1h-1zM66 59h3v1h-3zM70 59h1v1h-1zM73 59h2v1h-2zM76 59h2v1h-2zM82 59h1v1h-1zM87 59h1v1h-1zM96 59h1v1h-1z"/>
<path fill="#acf5a8" d="M58 4h1v1h-1zM61 4h1v1h-1zM57 6h1v1h-1zM57 7h1v1h-1zM65 7h1v1h-1zM67 7h1v1h-1zM55 8h1v1h-1zM66 8h1v1h-1zM54 9h1v1h-1zM62 9h1v1h-1zM64 9h1v1h-1zM66 9h2v1h-2zM49 10h1v1h-1zM52 10h1v1h-1zM59 10h1v1h-1zM65 10h1v1h-1zM61 11h1v1h-1zM71 11h2v1h-2zM52 12h1v1h-1zM61 12h2v1h-2zM68 12h1v1h-1zM70 12h2v1h-2zM49 13h1v1h-1zM59 13h1v1h-1zM47 14h2v1h-2zM51 14h2v1h-2zM60 14h1v1h-1zM64 14h2v1h-2zM71 14h1v1h-1zM73 14h3v1h-3zM48 15h1v1h-1zM50 15h1v1h-1zM66 15h1v1h-1zM70 15h1v1h-1zM72 15h3v1h-3zM76 15h1v1h-1zM43 16h1v1h-1zM46 16h3v1h-3zM52 16h1v1h-1zM66 16h1v1h-1zM74 16h1v1h-1zM43 17h1v1h-1zM45 17h1v1h-1zM48 17h1v1h-1zM50 17h1v1h-1zM52 17h1v1h-1zM66 17h1v1h-1zM70 17h2v1h-2zM74 17h1v1h-1zM46 18h1v1h-1zM50 18h1v1h-1zM52 18h1v1h-1zM60 18h3v1h-3zM69 18h1v1h-1zM72 18h4v1h-4zM77 18h3v1h-3zM43 19h1v1h-1zM45 19h1v1h-1zM47 19h2v1h-2zM51 19h2v1h-2zM58 19h1v1h-1zM60 19h2v1h-2zM69 19h2v1h-2zM75 19h1v1h-1zM39 20h2v1h-2zM44 20h1v1h-1zM49 20h1v1h-1zM52 20h1v1h-1zM61 20h1v1h-1zM68 20h1v1h-1zM74 20h1v1h-1zM79 20h3v1h-3zM40 21h1v1h-1zM42 21h6v1h-6zM53 21h1v1h-1zM57 21h2v1h-2zM61 21h2v1h-2zM65 21h1v1h-1zM70 21h1v1h-1zM72 21h1v1h-1zM37 22h1v1h-1zM40 22h1v1h-1zM42 22h1v1h-1zM45 22h1v1h-1zM56 22h1v1h-1zM58 22h1v1h-1zM62 22h1v1h-1zM69 22h1v1h-1zM76 22h1v1h-1zM79 22h2v1h-2zM82 22h2v1h-2zM36 23h1v1h-1zM40 23h1v1h-1zM49 23h1v1h-1zM51 23h1v1h-1zM54 23h1v1h-1zM64 23h1v1h-1zM66 23h1v1h-1zM71 23h2v1h-2zM74 23h2v1h-2zM80 23h1v1h-1zM83 23h2v1h-2zM36 24h1v1h-1zM38 24h3v1h-3zM44 24h1v1h-1zM48 24h5v1h-5zM54 24h1v1h-1zM57 24h1v1h-1zM62 24h1v1h-1zM64 24h1v1h-1zM67 24h1v1h-1zM69 24h1v1h-1zM75 24h1v1h-1zM77 24h4v1h-4zM35 25h1v1h-1zM37 25h1v1h-1zM48 25h1v1h-1zM50 25h3v1h-3zM55 25h1v1h-1zM59 25h3v1h-3zM64 25h1v1h-1zM67 25h2v1h-2zM74 25h2v1h-2zM78 25h1v1h-1zM83 25h1v1h-1zM42 26h1v1h-1zM45 26h1v1h-1zM49 26h3v1h-3zM53 26h1v1h-1zM56 26h1v1h-1zM61 26h1v1h-1zM63 26h2v1h-2zM67 26h3v1h-3zM72 26h1v1h-1zM79 26h1v1h-1zM81 26h1v1h-1zM84 26h4v1h-4zM33 27h1v1h-1zM37 27h1v1h-1zM39 27h1v1h-1zM44 27h1v1h-1zM49 27h1v1h-1zM54 27h2v1h-2zM57 27h1v1h-1zM62 27h1v1h-1zM78 27h1v1h-1zM80 27h1v1h-1zM83 27h2v1h-2zM88 27h1v1h-1zM32 28h1v1h-1zM34 28h1v1h-1zM37 28h1v1h-1zM39 28h1v1h-1zM48 28h1v1h-1zM50 28h1v1h-1zM52 28h1v1h-1zM56 28h1v1h-1zM64 28h1v1h-1zM66 28h1v1h-1zM74 28h1v1h-1zM76 28h1v1h-1zM78 28h1v1h-1zM81 28h1v1h-1zM83 28h4v1h-4zM89 28h1v1h-1zM33 29h3v1h-3zM43 29h1v1h-1zM55 29h2v1h-2zM59 29h2v1h-2zM64 29h2v1h-2zM67 29h1v1h-1zM69 29h1v1h-1zM73 29h1v1h-1zM81 29h1v1h-1zM29 30h1v1h-1zM34 30h1v1h-1zM43 30h1v1h-1zM47 30h1v1h-1zM49 30h3v1h-3zM54 30h1v1h-1zM56 30h1v1h-1zM60 30h1v1h-1zM71 30h1v1h-1zM73 30h1v1h-1zM77 30h1v1h-1zM81 30h2v1h-2zM87 30h1v1h-1zM91 30h1v1h-1zM28 31h1v1h-1zM32 31h1v1h-1zM34 31h2v1h-2zM37 31h1v1h-1zM40 31h1v1h-1zM43 31h1v1h-1zM45 31h1v1h-1zM47 31h1v1h-1zM56 31h1v1h-1zM58 31h1v1h-1zM60 31h1v1h-1zM64 31h1v1h-1zM70 31h1v1h-1zM72 31h3v1h-3zM79 31h1v1h-1zM83 31h3v1h-3zM87 31h3v1h-3zM27 32h2v1h-2zM33 32h1v1h-1zM35 32h1v1h-1zM37 32h2v1h-2zM43 32h2v1h-2zM46 32h1v1h-1zM50 32h2v1h-2zM56 32h2v1h-2zM65 32h1v1h-1zM67 32h1v1h-1zM69 32h1v1h-1zM71 32h1v1h-1zM76 32h1v1h-1zM78 32h2v1h-2zM81 32h1v1h-1zM83 32h3v1h-3zM26 33h1v1h-1zM38 33h1v1h-1zM40 33h1v1h-1zM42 33h3v1h-3zM46 33h1v1h-1zM49 33h1v1h-1zM52 33h3v1h-3zM58 33h1v1h-1zM65 33h2v1h-2zM72 33h2v1h-2zM80 33h1v1h-1zM85 33h2v1h-2zM89 33h2v1h-2zM92 33h1v1h-1zM94 33h1v1h-1zM25 34h1v1h-1zM28 34h1v1h-1zM31 34h1v1h-1zM33 34h1v1h-1zM38 34h2v1h-2zM45 34h2v1h-2zM48 34h3v1h-3zM55 34h2v1h-2zM60 34h1v1h-1zM65 34h1v1h-1zM69 34h1v1h-1zM72 34h2v1h-2zM77 34h2v1h-2zM89 34h1v1h-1zM91 34h2v1h-2zM95 34h1v1h-1zM25 35h1v1h-1zM27 35h1v1h-1zM29 35h2v1h-2zM36 35h1v1h-1zM39 35h1v1h-1zM46 35h1v1h-1zM48 35h2v1h-2zM54 35h1v1h-1zM60 35h3v1h-3zM68 35h2v1h-2zM73 35h1v1h-1zM76 35h1v1h-1zM83 35h1v1h-1zM85 35h1v1h-1zM90 35h1v1h-1zM93 35h2v1h-2zM24 36h2v1h-2zM28 36h2v1h-2zM31 36h1v1h-1zM34 36h2v1h-2zM37 36h1v1h-1zM42 36h1v1h-1zM55 36h1v1h-1zM63 36h1v1h-1zM70 36h2v1h-2zM77 36h1v1h-1zM86 36h1v1h-1zM94 36h1v1h-1zM24 37h1v1h-1zM28 37h1v1h-1zM30 37h2v1h-2zM34 37h1v1h-1zM36 37h1v1h-1zM38 37h2v1h-2zM41 37h1v1h-1zM45 37h1v1h-1zM54 37h2v1h-2zM59 37h1v1h-1zM61 37h1v1h-1zM64 37h1v1h-1zM67 37h1v1h-1zM69 37h1v1h-1zM71 37h1v1h-1zM73 37h1v1h-1zM79 37h1v1h-1zM81 37h1v1h-1zM87 37h3v1h-3zM92 37h1v1h-1zM21 38h2v1h-2zM24 38h1v1h-1zM27 38h1v1h-1zM29 38h3v1h-3zM33 38h1v1h-1zM37 38h1v1h-1zM39 38h3v1h-3zM43 38h1v1h-1zM48 38h1v1h-1zM58 38h1v1h-1zM60 38h1v1h-1zM62 38h2v1h-2zM69 38h2v1h-2zM75 38h1v1h-1zM80 38h4v1h-4zM90 38h2v1h-2zM95 38h1v1h-1zM99 38h1v1h-1zM20 39h2v1h-2zM24 39h1v1h-1zM29 39h1v1h-1zM33 39h1v1h-1zM35 39h2v1h-2zM39 39h1v1h-1zM47 39h1v1h-1zM50 39h1v1h-1zM52 39h1v1h-1zM57 39h1v1h-1zM59 39h1v1h-1zM61 39h2v1h-2zM64 39h1v1h-1zM67 39h1v1h-1zM71 39h1v1h-1zM77 39h2v1h-2zM81 39h2v1h-2zM87 39h1v1h-1zM90 39h1v1h-1zM19 40h2v1h-2zM22 40h1v1h-1zM25 40h1v1h-1zM31 40h2v1h-2zM35 40h1v1h-1zM37 40h1v1h-1zM47 40h2v1h-2zM55 40h1v1h-1zM60 40h1v1h-1zM63 40h1v1h-1zM67 40h4v1h-4zM82 40h1v1h-1zM85 40h1v1h-1zM88 40h1v1h-1zM95 40h1v1h-1zM98 40h2v1h-2zM25 41h3v1h-3zM33 41h1v1h-1zM37 41h1v1h-1zM39 41h1v1h-1zM45 41h3v1h-3zM53 41h1v1h-1zM63 41h3v1h-3zM67 41h1v1h-1zM69 41h2v1h-2zM78 41h1v1h-1zM81 41h1v1h-1zM83 41h1v1h-1zM91 41h1v1h-1zM94 41h2v1h-2zM97 41h2v1h-2zM102 41h1v1h-1zM17 42h1v1h-1zM19 42h1v1h-1zM29 42h2v1h-2zM32 42h2v1h-2zM38 42h1v1h-1zM41 42h1v1h-1zM44 42h1v1h-1zM49 42h1v1h-1zM51 42h1v1h-1zM53 42h2v1h-2zM59 42h1v1h-1zM66 42h2v1h-2zM70 42h1v1h-1zM73 42h1v1h-1zM78 42h1v1h-1zM81 42h1v1h-1zM83 42h1v1h-1zM89 42h1v1h-1zM91 42h1v1h-1zM100 42h1v1h-1zM103 42h1v1h-1zM17 43h1v1h-1zM19 43h5v1h-5zM26 43h2v1h-2zM36 43h3v1h-3zM40 43h1v1h-1zM44 43h1v1h-1zM50 43h1v1h-1zM52 43h1v1h-1zM54 43h3v1h-3zM60 43h1v1h-1zM68 43h1v1h-1zM76 43h1v1h-1zM85 43h2v1h-2zM88 43h1v1h-1zM90 43h1v1h-1zM96 43h1v1h-1zM102 43h1v1h-1zM17 44h1v1h-1zM23 44h3v1h-3zM32 44h1v1h-1zM36 44h1v1h-1zM39 44h1v1h-1zM41 44h2v1h-2zM49 44h2v1h-2zM68 44h1v1h-1zM71 44h1v1h-1zM92 44h2v1h-2zM99 44h1v1h-1zM101 44h1v1h-1zM14 45h1v1h-1zM18 45h2v1h-2zM22 45h1v1h-1zM26 45h1v1h-1zM31 45h1v1h-1zM34 45h1v1h-1zM36 45h1v1h-1zM40 45h3v1h-3zM47 45h1v1h-1zM53 45h1v1h-1zM55 45h1v1h-1zM57 45h1v1h-1zM59 45h1v1h-1zM61 45h1v1h-1zM66 45h1v1h-1zM69 45h1v1h-1zM81 45h4v1h-4zM86 45h1v1h-1zM88 45h2v1h-2zM92 45h2v1h-2zM96 45h1v1h-1zM100 45h2v1h-2zM105 45h2v1h-2zM14 46h1v1h-1zM17 46h2v1h-2zM21 46h1v1h-1zM23 46h1v1h-1zM27 46h2v1h-2zM33 46h2v1h-2zM37 46h1v1h-1zM42 46h1v1h-1zM47 46h1v1h-1zM49 46h1v1h-1zM51 46h1v1h-1zM55 46h2v1h-2zM60 46h1v1h-1zM62 46h1v1h-1zM65 46h2v1h-2zM74 46h1v1h-1zM78 46h1v1h-1zM81 46h4v1h-4zM86 46h2v1h-2zM95 46h1v1h-1zM102 46h3v1h-3zM13 47h1v1h-1zM16 47h1v1h-1zM18 47h1v1h-1zM23 47h1v1h-1zM25 47h1v1h-1zM27 47h2v1h-2zM30 47h1v1h-1zM32 47h1v1h-1zM38 47h2v1h-2zM42 47h1v1h-1zM47 47h1v1h-1zM50 47h1v1h-1zM53 47h1v1h-1zM58 47h1v1h-1zM63 47h1v1h-1zM68 47h1v1h-1zM73 47h1v1h-1zM75 47h1v1h-1zM77 47h1v1h-1zM79 47h2v1h-2zM82 47h2v1h-2zM85 47h3v1h-3zM89 47h1v1h-1zM92 47h1v1h-1zM98 47h1v1h-1zM103 47h2v1h-2zM108 47h1v1h-1zM14 48h1v1h-1zM22 48h1v1h-1zM24 48h1v1h-1zM27 48h1v1h-1zM34 48h3v1h-3zM40 48h1v1h-1zM43 48h1v1h-1zM60 48h4v1h-4zM65 48h1v1h-1zM83 48h1v1h-1zM87 48h3v1h-3zM93 48h1v1h-1zM95 48h1v1h-1zM98 48h1v1h-1zM101 48h2v1h-2zM108 48h2v1h-2zM10 49h1v1h-1zM19 49h1v1h-1zM23 49h1v1h-1zM26 49h1v1h-1zM37 49h1v1h-1zM43 49h2v1h-2zM47 49h1v1h-1zM53 49h4v1h-4zM68 49h1v1h-1zM80 49h1v1h-1zM82 49h1v1h-1zM85 49h1v1h-1zM87 49h1v1h-1zM94 49h1v1h-1zM98 49h2v1h-2zM102 49h1v1h-1zM107 49h1v1h-1zM9 50h3v1h-3zM14 50h1v1h-1zM19 50h2v1h-2zM22 50h2v1h-2zM27 50h1v1h-1zM32 50h1v1h-1zM37 50h1v1h-1zM46 50h1v1h-1zM49 50h3v1h-3zM58 50h1v1h-1zM62 50h1v1h-1zM73 50h1v1h-1zM83 50h1v1h-1zM88 50h1v1h-1zM90 50h3v1h-3zM95 50h2v1h-2zM102 50h2v1h-2zM111 50h1v1h-1zM8 51h2v1h-2zM11 51h1v1h-1zM13 51h3v1h-3zM20 51h1v1h-1zM34 51h1v1h-1zM40 51h1v1h-1zM44 51h2v1h-2zM47 51h1v1h-1zM49 51h2v1h-2zM55 51h1v1h-1zM57 51h1v1h-1zM62 51h1v1h-1zM73 51h1v1h-1zM85 51h3v1h-3zM90 51h1v1h-1zM93 51h1v1h-1zM96 51h1v1h-1zM101 51h1v1h-1zM103 51h1v1h-1zM108 51h2v1h-2zM9 52h2v1h-2zM12 52h1v1h-1zM16 52h1v1h-1zM18 52h4v1h-4zM26 52h1v1h-1zM34 52h1v1h-1zM42 52h2v1h-2zM45 52h3v1h-3zM50 52h1v1h-1zM52 52h1v1h-1zM58 52h1v1h-1zM71 52h3v1h-3zM79 52h1v1h-1zM82 52h1v1h-1zM84 52h3v1h-3zM89 52h1v1h-1zM96 52h1v1h-1zM99 52h1v1h-1zM102 52h1v1h-1zM106 52h1v1h-1zM111 52h1v1h-1zM6 53h1v1h-1zM13 53h1v1h-1zM22 53h1v1h-1zM31 53h2v1h-2zM37 53h1v1h-1zM39 53h1v1h-1zM41 53h1v1h-1zM43 53h1v1h-1zM47 53h3v1h-3zM54 53h1v1h-1zM58 53h1v1h-1zM62 53h1v1h-1zM65 53h2v1h-2zM71 53h2v1h-2zM79 53h1v1h-1zM82 53h1v1h-1zM86 53h2v1h-2zM91 53h1v1h-1zM94 53h1v1h-1zM97 53h1v1h-1zM99 53h2v1h-2zM102 53h2v1h-2zM109 53h1v1h-1zM111 53h2v1h-2zM5 54h3v1h-3zM14 54h1v1h-1zM24 54h1v1h-1zM26 54h1v1h-1zM35 54h1v1h-1zM37 54h2v1h-2zM41 54h2v1h-2zM49 54h2v1h-2zM52 54h1v1h-1zM54 54h1v1h-1zM58 54h1v1h-1zM72 54h1v1h-1zM74 54h1v1h-1zM80 54h2v1h-2zM83 54h4v1h-4zM88 54h1v1h-1zM91 54h2v1h-2zM96 54h1v1h-1zM101 54h1v1h-1zM104 54h1v1h-1zM111 54h2v1h-2zM114 54h2v1h-2zM5 55h3v1h-3zM13 55h1v1h-1zM15 55h1v1h-1zM19 55h1v1h-1zM21 55h1v1h-1zM23 55h1v1h-1zM29 55h1v1h-1zM31 55h4v1h-4zM37 55h1v1h-1zM39 55h2v1h-2zM42 55h1v1h-1zM49 55h1v1h-1zM58 55h2v1h-2zM61 55h1v1h-1zM63 55h1v1h-1zM71 55h1v1h-1zM74 55h1v1h-1zM82 55h1v1h-1zM84 55h3v1h-3zM88 55h1v1h-1zM92 55h4v1h-4zM99 55h1v1h-1zM101 55h1v1h-1zM104 55h1v1h-1zM106 55h1v1h-1zM109 55h1v1h-1zM111 55h2v1h-2zM114 55h2v1h-2zM3 56h1v1h-1zM6 56h1v1h-1zM10 56h2v1h-2zM14 56h1v1h-1zM16 56h1v1h-1zM19 56h3v1h-3zM27 56h1v1h-1zM33 56h1v1h-1zM35 56h1v1h-1zM40 56h1v1h-1zM43 56h1v1h-1zM49 56h1v1h-1zM55 56h2v1h-2zM58 56h1v1h-1zM64 56h2v1h-2zM67 56h3v1h-3zM73 56h1v1h-1zM80 56h2v1h-2zM83 56h1v1h-1zM85 56h2v1h-2zM95 56h2v1h-2zM99 56h1v1h-1zM104 56h1v1h-1zM108 56h2v1h-2zM112 56h2v1h-2zM116 56h2v1h-2zM4 57h7v1h-7zM22 57h1v1h-1zM27 57h1v1h-1zM30 57h4v1h-4zM39 57h2v1h-2zM45 57h4v1h-4zM50 57h1v1h-1zM55 57h1v1h-1zM58 57h1v1h-1zM62 57h1v1h-1zM75 57h2v1h-2zM81 57h2v1h-2zM87 57h1v1h-1zM89 57h1v1h-1zM99 57h1v1h-1zM103 57h1v1h-1zM107 57h2v1h-2zM111 57h3v1h-3zM116 57h3v1h-3zM1 58h2v1h-2zM4 58h6v1h-6zM12 58h2v1h-2zM17 58h1v1h-1zM21 58h1v1h-1zM27 58h1v1h-1zM31 58h2v1h-2zM34 58h1v1h-1zM36 58h2v1h-2zM40 58h1v1h-1zM50 58h3v1h-3zM55 58h2v1h-2zM58 58h2v1h-2zM68 58h1v1h-1zM73 58h1v1h-1zM75 58h1v1h-1zM77 58h1v1h-1zM80 58h1v1h-1zM83 58h1v1h-1zM91 58h1v1h-1zM95 58h2v1h-2zM99 58h1v1h-1zM102 58h1v1h-1zM104 58h3v1h-3zM112 58h1v1h-1zM114 58h2v1h-2zM118 58h1v1h-1zM1 59h3v1h-3zM6 59h1v1h-1zM9 59h1v1h-1zM14 59h1v1h-1zM20 59h1v1h-1zM22 59h2v1h-2zM27 59h1v1h-1zM29 59h1v1h-1zM34 59h1v1h-1zM37 59h1v1h-1zM40 59h1v1h-1zM42 59h3v1h-3zM51 59h1v1h-1zM59 59h2v1h-2zM69 59h1v1h-1zM72 59h1v1h-1zM75 59h1v1h-1zM78 59h4v1h-4zM83 59h1v1h-1zM89 59h1v1h-1zM95 59h1v1h-1zM98 59h1v1h-1zM103 59h1v1h-1zM107 59h1v1h-1zM117 59h1v1h-1zM119 59h2v1h-2z"/>
<path fill="#dff58d" d="M66 7h1v1h-1zM66 10h1v1h-1zM71 10h1v1h-1zM52 11h1v1h-1zM49 12h2v1h-2zM60 12h1v1h-1zM53 13h1v1h-1zM72 13h1v1h-1zM45 14h1v1h-1zM56 14h1v1h-1zM61 14h1v1h-1zM49 15h1v1h-1zM51 15h1v1h-1zM54 15h1v1h-1zM58 15h1v1h-1zM60 15h1v1h-1zM51 16h1v1h-1zM63 16h1v1h-1zM72 16h1v1h-1zM46 17h1v1h-1zM56 17h2v1h-2zM78 17h1v1h-1zM41 18h1v1h-1zM53 18h1v1h-1zM56 18h1v1h-1zM59 18h1v1h-1zM67 18h1v1h-1zM46 19h1v1h-1zM57 19h1v1h-1zM59 19h1v1h-1zM74 19h1v1h-1zM77 19h1v1h-1zM45 20h1v1h-1zM64 20h1v1h-1zM49 21h2v1h-2zM55 21h1v1h-1zM59 21h2v1h-2zM71 21h1v1h-1zM74 21h1v1h-1zM82 21h1v1h-1zM66 22h1v1h-1zM68 22h1v1h-1zM78 22h1v1h-1zM81 22h1v1h-1zM45 23h1v1h-1zM55 23h1v1h-1zM55 24h1v1h-1zM59 24h1v1h-1zM82 24h1v1h-1zM34 25h1v1h-1zM40 25h1v1h-1zM45 25h1v1h-1zM66 25h1v1h-1zM69 25h1v1h-1zM81 25h1v1h-1zM33 26h1v1h-1zM37 26h1v1h-1zM40 26h1v1h-1zM44 26h1v1h-1zM59 26h1v1h-1zM35 27h1v1h-1zM50 27h1v1h-1zM52 27h1v1h-1zM60 27h2v1h-2zM63 27h1v1h-1zM69 27h1v1h-1zM79 27h1v1h-1zM47 28h1v1h-1zM51 28h1v1h-1zM73 28h1v1h-1zM36 29h1v1h-1zM49 29h3v1h-3zM57 29h1v1h-1zM61 29h1v1h-1zM79 29h1v1h-1zM36 30h1v1h-1zM38 30h1v1h-1zM48 30h1v1h-1zM57 30h1v1h-1zM65 30h1v1h-1zM86 30h1v1h-1zM90 30h1v1h-1zM38 31h1v1h-1zM52 31h1v1h-1zM59 31h1v1h-1zM65 31h1v1h-1zM82 31h1v1h-1zM90 31h1v1h-1zM89 32h1v1h-1zM30 33h1v1h-1zM50 33h1v1h-1zM55 33h1v1h-1zM57 33h1v1h-1zM69 33h1v1h-1zM88 33h1v1h-1zM29 34h1v1h-1zM54 34h1v1h-1zM57 34h1v1h-1zM67 34h1v1h-1zM87 34h1v1h-1zM47 35h1v1h-1zM56 35h1v1h-1zM96 35h1v1h-1zM39 36h1v1h-1zM41 36h1v1h-1zM44 36h1v1h-1zM57 36h1v1h-1zM60 36h1v1h-1zM64 36h1v1h-1zM82 36h1v1h-1zM84 36h1v1h-1zM93 36h1v1h-1zM43 37h1v1h-1zM49 37h1v1h-1zM51 37h1v1h-1zM60 37h1v1h-1zM68 37h1v1h-1zM77 37h2v1h-2zM93 37h1v1h-1zM25 38h1v1h-1zM50 38h1v1h-1zM54 38h1v1h-1zM72 38h1v1h-1zM79 38h1v1h-1zM41 39h1v1h-1zM55 39h1v1h-1zM73 39h1v1h-1zM75 39h1v1h-1zM80 39h1v1h-1zM84 39h1v1h-1zM86 39h1v1h-1zM88 39h1v1h-1zM91 39h1v1h-1zM94 39h1v1h-1zM96 39h1v1h-1zM100 39h1v1h-1zM24 40h1v1h-1zM27 40h1v1h-1zM42 40h1v1h-1zM72 40h1v1h-1zM84 40h1v1h-1zM28 41h1v1h-1zM44 41h1v1h-1zM48 41h1v1h-1zM51 41h1v1h-1zM68 41h1v1h-1zM74 41h1v1h-1zM89 41h1v1h-1zM96 41h1v1h-1zM25 42h1v1h-1zM37 42h1v1h-1zM39 42h1v1h-1zM56 42h1v1h-1zM79 42h1v1h-1zM94 42h2v1h-2zM102 42h1v1h-1zM39 43h1v1h-1zM43 43h1v1h-1zM62 43h1v1h-1zM71 43h1v1h-1zM94 43h1v1h-1zM37 44h1v1h-1zM46 44h1v1h-1zM51 44h1v1h-1zM63 44h1v1h-1zM82 44h1v1h-1zM96 44h2v1h-2zM103 44h1v1h-1zM46 45h1v1h-1zM48 45h1v1h-1zM74 45h1v1h-1zM78 45h1v1h-1zM91 45h1v1h-1zM13 46h1v1h-1zM31 46h1v1h-1zM43 46h2v1h-2zM52 46h1v1h-1zM63 46h1v1h-1zM72 46h1v1h-1zM75 46h1v1h-1zM89 46h1v1h-1zM98 46h1v1h-1zM19 47h1v1h-1zM29 47h1v1h-1zM31 47h1v1h-1zM37 47h1v1h-1zM48 47h1v1h-1zM62 47h1v1h-1zM66 47h1v1h-1zM74 47h1v1h-1zM12 48h2v1h-2zM15 48h1v1h-1zM29 48h2v1h-2zM41 48h2v1h-2zM46 48h1v1h-1zM54 48h1v1h-1zM72 48h3v1h-3zM77 48h1v1h-1zM96 48h1v1h-1zM38 49h1v1h-1zM42 49h1v1h-1zM59 49h1v1h-1zM65 49h1v1h-1zM69 49h1v1h-1zM73 49h1v1h-1zM96 49h2v1h-2zM106 49h1v1h-1zM110 49h1v1h-1zM12 50h1v1h-1zM34 50h1v1h-1zM44 50h1v1h-1zM47 50h1v1h-1zM59 50h1v1h-1zM74 50h1v1h-1zM81 50h2v1h-2zM86 50h1v1h-1zM97 50h1v1h-1zM110 50h1v1h-1zM22 51h1v1h-1zM29 51h1v1h-1zM32 51h1v1h-1zM39 51h1v1h-1zM60 51h1v1h-1zM65 51h2v1h-2zM83 51h1v1h-1zM88 51h1v1h-1zM98 51h1v1h-1zM107 51h1v1h-1zM17 52h1v1h-1zM25 52h1v1h-1zM32 52h2v1h-2zM38 52h1v1h-1zM54 52h2v1h-2zM59 52h1v1h-1zM61 52h1v1h-1zM80 52h2v1h-2zM16 53h1v1h-1zM24 53h1v1h-1zM35 53h1v1h-1zM61 53h1v1h-1zM67 53h1v1h-1zM73 53h1v1h-1zM18 54h1v1h-1zM20 54h1v1h-1zM27 54h1v1h-1zM32 54h2v1h-2zM39 54h1v1h-1zM48 54h1v1h-1zM55 54h1v1h-1zM78 54h1v1h-1zM87 54h1v1h-1zM100 54h1v1h-1zM102 54h1v1h-1zM11 55h1v1h-1zM24 55h1v1h-1zM64 55h1v1h-1zM66 55h1v1h-1zM34 56h1v1h-1zM52 56h1v1h-1zM60 56h1v1h-1zM74 56h1v1h-1zM84 56h1v1h-1zM24 57h1v1h-1zM28 57h2v1h-2zM35 57h1v1h-1zM52 57h1v1h-1zM68 57h1v1h-1zM71 57h1v1h-1zM73 57h1v1h-1zM85 57h1v1h-1zM95 57h1v1h-1zM45 58h1v1h-1zM47 58h1v1h-1zM49 58h1v1h-1zM62 58h1v1h-1zM87 58h2v1h-2zM98 58h1v1h-1zM108 58h1v1h-1zM17 59h1v1h-1zM24 59h1v1h-1zM45 59h1v1h-1zM52 59h1v1h-1z"/>
<path fill="#f0ec79" d="M59 0h1v1h-1zM58 1h2v1h-2zM61 2h1v1h-1zM56 4h1v1h-1zM55 5h2v1h-2zM62 5h1v1h-1zM53 6h2v1h-2zM61 6h2v1h-2zM65 6h1v1h-1zM56 7h1v1h-1zM59 7h3v1h-3zM67 8h3v1h-3zM53 9h1v1h-1zM68 9h1v1h-1zM70 9h1v1h-1zM53 10h2v1h-2zM57 10h1v1h-1zM62 10h1v1h-1zM68 10h2v1h-2zM50 11h2v1h-2zM53 11h1v1h-1zM56 11h1v1h-1zM67 11h1v1h-1zM54 12h2v1h-2zM59 12h1v1h-1zM67 12h1v1h-1zM46 13h1v1h-1zM48 13h1v1h-1zM54 13h1v1h-1zM61 13h1v1h-1zM67 13h1v1h-1zM70 13h1v1h-1zM74 13h1v1h-1zM54 14h2v1h-2zM53 15h1v1h-1zM56 15h2v1h-2zM44 16h1v1h-1zM53 16h1v1h-1zM55 16h3v1h-3zM54 17h2v1h-2zM45 18h1v1h-1zM64 18h2v1h-2zM41 19h1v1h-1zM53 19h4v1h-4zM65 19h1v1h-1zM79 19h1v1h-1zM42 20h1v1h-1zM53 20h3v1h-3zM57 20h1v1h-1zM63 20h1v1h-1zM77 20h2v1h-2zM67 21h1v1h-1zM46 22h1v1h-1zM57 23h1v1h-1zM69 23h1v1h-1zM79 23h1v1h-1zM76 25h1v1h-1zM83 26h1v1h-1zM75 27h1v1h-1zM41 28h1v1h-1zM59 28h1v1h-1zM65 28h1v1h-1zM31 29h1v1h-1zM31 30h1v1h-1zM37 30h1v1h-1zM62 30h1v1h-1zM54 31h1v1h-1zM62 31h1v1h-1zM31 32h1v1h-1zM54 32h1v1h-1zM62 32h1v1h-1zM87 32h2v1h-2zM31 33h1v1h-1zM48 33h1v1h-1zM61 33h1v1h-1zM63 33h2v1h-2zM71 33h1v1h-1zM77 33h1v1h-1zM33 35h1v1h-1zM58 35h1v1h-1zM72 35h1v1h-1zM87 35h1v1h-1zM91 35h1v1h-1zM36 36h1v1h-1zM48 36h1v1h-1zM52 36h1v1h-1zM59 36h1v1h-1zM69 36h1v1h-1zM89 36h1v1h-1zM57 37h1v1h-1zM70 37h1v1h-1zM28 38h1v1h-1zM53 38h1v1h-1zM56 38h2v1h-2zM74 38h1v1h-1zM72 39h1v1h-1zM53 40h1v1h-1zM101 40h1v1h-1zM32 41h1v1h-1zM79 41h1v1h-1zM100 41h2v1h-2zM21 42h1v1h-1zM31 42h1v1h-1zM63 42h1v1h-1zM99 42h1v1h-1zM29 43h1v1h-1zM31 43h1v1h-1zM33 43h1v1h-1zM41 43h1v1h-1zM57 43h1v1h-1zM69 43h1v1h-1zM73 43h2v1h-2zM104 43h1v1h-1zM15 44h1v1h-1zM33 44h1v1h-1zM56 44h1v1h-1zM65 44h1v1h-1zM100 44h1v1h-1zM20 45h2v1h-2zM32 45h1v1h-1zM43 45h1v1h-1zM85 45h1v1h-1zM98 45h2v1h-2zM16 46h1v1h-1zM50 46h1v1h-1zM54 46h1v1h-1zM93 46h1v1h-1zM97 46h1v1h-1zM101 46h1v1h-1zM107 46h1v1h-1zM14 47h1v1h-1zM40 47h1v1h-1zM65 47h1v1h-1zM84 47h1v1h-1zM97 47h1v1h-1zM101 47h1v1h-1zM38 48h1v1h-1zM56 48h2v1h-2zM59 48h1v1h-1zM79 48h1v1h-1zM13 49h1v1h-1zM17 49h1v1h-1zM28 49h1v1h-1zM61 49h1v1h-1zM64 49h1v1h-1zM101 49h1v1h-1zM105 49h1v1h-1zM13 50h1v1h-1zM15 50h3v1h-3zM26 50h1v1h-1zM35 50h1v1h-1zM45 50h1v1h-1zM60 50h1v1h-1zM65 50h1v1h-1zM69 50h1v1h-1zM98 50h1v1h-1zM101 50h1v1h-1zM105 50h1v1h-1zM27 51h1v1h-1zM31 51h1v1h-1zM41 51h1v1h-1zM54 51h1v1h-1zM64 51h1v1h-1zM68 51h1v1h-1zM75 51h1v1h-1zM99 51h1v1h-1zM104 51h2v1h-2zM15 52h1v1h-1zM62 52h1v1h-1zM70 52h1v1h-1zM97 52h1v1h-1zM104 52h1v1h-1zM107 52h1v1h-1zM30 53h1v1h-1zM101 53h1v1h-1zM105 53h1v1h-1zM10 54h1v1h-1zM19 54h1v1h-1zM21 54h1v1h-1zM46 54h1v1h-1zM99 54h1v1h-1zM103 54h1v1h-1zM107 54h1v1h-1zM109 54h1v1h-1zM10 55h1v1h-1zM12 55h1v1h-1zM18 55h1v1h-1zM50 55h1v1h-1zM54 55h2v1h-2zM75 55h1v1h-1zM100 55h1v1h-1zM102 55h1v1h-1zM18 56h1v1h-1zM39 56h1v1h-1zM76 56h1v1h-1zM18 57h2v1h-2zM34 57h1v1h-1zM42 57h1v1h-1zM56 57h1v1h-1zM66 57h1v1h-1zM70 57h1v1h-1zM84 57h1v1h-1zM109 57h2v1h-2zM15 58h1v1h-1zM18 58h1v1h-1zM44 58h1v1h-1zM70 58h1v1h-1zM101 58h1v1h-1zM107 58h1v1h-1zM16 59h1v1h-1zM41 59h1v1h-1zM53 59h1v1h-1zM71 59h1v1h-1zM104 59h2v1h-2z"/>
<path fill="#f7d768" d="M60 1h1v1h-1zM56 8h1v1h-1zM59 11h1v1h-1zM69 11h1v1h-1zM53 14h1v1h-1zM45 15h1v1h-1zM55 15h1v1h-1zM54 16h1v1h-1zM61 16h1v1h-1zM53 17h1v1h-1zM58 17h1v1h-1zM55 18h1v1h-1zM38 21h1v1h-1zM81 23h1v1h-1zM44 25h1v1h-1zM36 28h1v1h-1zM57 28h1v1h-1zM61 28h1v1h-1zM63 29h1v1h-1zM48 31h1v1h-1zM63 32h1v1h-1zM92 36h1v1h-1zM91 37h1v1h-1zM18 43h1v1h-1zM20 46h1v1h-1zM37 48h1v1h-1zM68 48h1v1h-1zM56 50h1v1h-1zM64 50h1v1h-1zM107 50h1v1h-1zM13 52h1v1h-1zM108 52h1v1h-1zM51 55h1v1h-1zM36 56h1v1h-1zM100 57h1v1h-1zM61 58h1v1h-1zM86 58h1v1h-1zM28 59h1v1h-1z"/>
<path fill="#ffbd57" d="M62 4h1v1h-1zM52 7h1v1h-1zM57 14h1v1h-1zM59 16h1v1h-1zM56 24h1v1h-1zM62 25h1v1h-1zM57 35h1v1h-1zM100 43h1v1h-1zM106 47h1v1h-1zM104 49h1v1h-1zM110 51h1v1h-1zM106 57h1v1h-1z"/>
<path fill="#ffa045" d="M63 2h1v1h-1zM59 9h1v1h-1zM61 9h1v1h-1zM56 12h1v1h-1zM58 13h1v1h-1zM68 14h1v1h-1zM77 17h1v1h-1zM57 18h1v1h-1zM56 20h1v1h-1zM65 23h1v1h-1zM65 25h1v1h-1zM12 57h1v1h-1z"/>
<path fill="#f4754b" d="M61 1h1v1h-1zM60 3h1v1h-1zM12 49h1v1h-1z"/>
<path fill="#ee504e" d="M60 5h1v1h-1z"/>
<path fill="#ff5a5a" d="M64 3h1v1h-1zM61 5h1v1h-1z"/>
<path fill="#ff7c7c" d="M60 4h1v1h-1z"/>
</g>
<g transform="translate(106.98 1294.66) scale(6.059 6.92)" shape-rendering="crispEdges">
<path fill="#cdffa2" d="M59 0h3v1h-3zM58 1h5v1h-5zM57 2h7v1h-7zM56 3h9v1h-9zM55 4h11v1h-11zM54 5h13v1h-13zM53 6h15v1h-15zM52 7h17v1h-17zM51 8h19v1h-19zM50 9h21v1h-21zM49 10h23v1h-23zM48 11h25v1h-25zM47 12h27v1h-27zM46 13h29v1h-29zM45 14h31v1h-31zM44 15h33v1h-33zM43 16h35v1h-35zM42 17h37v1h-37zM41 18h39v1h-39zM40 19h41v1h-41zM39 20h43v1h-43zM38 21h45v1h-45zM37 22h47v1h-47zM36 23h49v1h-49zM35 24h51v1h-51zM34 25h53v1h-53zM33 26h55v1h-55zM32 27h57v1h-57zM31 28h59v1h-59zM30 29h61v1h-61zM29 30h63v1h-63zM28 31h65v1h-65zM27 32h67v1h-67zM26 33h69v1h-69zM25 34h71v1h-71zM24 35h73v1h-73zM23 36h75v1h-75zM22 37h77v1h-77zM21 38h79v1h-79zM20 39h81v1h-81zM19 40h83v1h-83zM18 41h85v1h-85zM17 42h87v1h-87zM16 43h89v1h-89zM15 44h91v1h-91zM14 45h93v1h-93zM13 46h95v1h-95zM12 47h97v1h-97zM11 48h99v1h-99zM10 49h101v1h-101zM9 50h103v1h-103zM8 51h105v1h-105zM7 52h107v1h-107zM6 53h109v1h-109zM5 54h111v1h-111zM4 55h113v1h-113zM3 56h115v1h-115zM2 57h117v1h-117zM1 58h119v1h-119zM0 59h121v1h-121z"/>
<path fill="#1a66f0" d="M59 2h1v1h-1zM58 3h1v1h-1z"/>
<path fill="#0d81f8" d="M59 6h1v1h-1zM107 48h1v1h-1zM9 52h1v1h-1z"/>
<path fill="#19afff" d="M63 4h1v1h-1zM60 6h1v1h-1z"/>
<path fill="#32beff" d="M60 2h1v1h-1zM55 4h1v1h-1zM59 4h1v1h-1zM58 6h1v1h-1zM58 10h1v1h-1zM62 11h1v1h-1zM63 13h1v1h-1zM63 15h1v1h-1zM15 46h1v1h-1z"/>
<path fill="#44caff" d="M56 6h1v1h-1zM55 7h1v1h-1zM62 7h1v1h-1zM63 9h1v1h-1zM56 10h1v1h-1zM60 10h1v1h-1zM75 16h2v1h-2zM59 17h1v1h-1zM63 19h1v1h-1zM58 23h1v1h-1zM54 28h1v1h-1zM20 41h1v1h-1zM101 42h1v1h-1zM104 45h1v1h-1zM110 49h1v1h-1zM111 52h1v1h-1z"/>
<path fill="#61e1f0" d="M54 5h1v1h-1zM64 5h1v1h-1zM66 5h1v1h-1zM72 12h1v1h-1zM62 13h1v1h-1zM50 20h1v1h-1zM56 23h1v1h-1zM57 26h1v1h-1zM12 47h1v1h-1zM16 57h1v1h-1z"/>
<path fill="#6aebe1" d="M57 5h1v1h-1zM59 5h1v1h-1zM63 8h1v1h-1zM52 9h1v1h-1zM63 11h2v1h-2zM64 12h1v1h-1zM64 13h1v1h-1z"/>
<path fill="#7cebc8" d="M57 2h1v1h-1zM56 3h1v1h-1zM63 7h2v1h-2zM57 8h1v1h-1zM64 8h1v1h-1zM57 9h1v1h-1zM60 9h1v1h-1zM61 10h1v1h-1zM58 11h1v1h-1zM60 11h1v1h-1zM58 12h1v1h-1zM65 12h2v1h-2zM57 13h1v1h-1zM60 13h1v1h-1zM65 13h2v1h-2zM62 15h1v1h-1zM65 16h1v1h-1zM67 16h1v1h-1zM63 17h2v1h-2zM39 22h1v1h-1zM62 23h1v1h-1zM78 24h1v1h-1zM78 31h1v1h-1zM54 40h1v1h-1zM57 40h1v1h-1zM54 44h1v1h-1zM106 45h1v1h-1zM55 46h1v1h-1zM13 48h1v1h-1zM107 49h1v1h-1zM20 50h1v1h-1zM84 50h1v1h-1zM108 50h1v1h-1zM11 51h1v1h-1zM56 52h1v1h-1zM12 53h1v1h-1zM75 53h1v1h-1zM75 56h1v1h-1zM79 56h1v1h-1zM9 57h1v1h-1zM9 58h1v1h-1zM106 59h1v1h-1z"/>
<path fill="#8aecae" d="M60 0h2v1h-2zM62 1h1v1h-1zM58 2h1v1h-1zM59 3h1v1h-1zM62 3h1v1h-1zM57 4h1v1h-1zM64 4h2v1h-2zM58 5h1v1h-1zM65 5h1v1h-1zM66 6h2v1h-2zM53 7h1v1h-1zM58 7h1v1h-1zM68 7h1v1h-1zM52 8h3v1h-3zM58 8h2v1h-2zM50 9h2v1h-2zM56 9h1v1h-1zM58 9h1v1h-1zM65 9h1v1h-1zM69 9h1v1h-1zM50 10h1v1h-1zM55 10h1v1h-1zM63 10h2v1h-2zM67 10h1v1h-1zM70 10h1v1h-1zM48 11h1v1h-1zM54 11h2v1h-2zM57 11h1v1h-1zM65 11h1v1h-1zM68 11h1v1h-1zM70 11h1v1h-1zM47 12h2v1h-2zM57 12h1v1h-1zM63 12h1v1h-1zM73 12h1v1h-1zM47 13h1v1h-1zM50 13h3v1h-3zM69 13h1v1h-1zM71 13h1v1h-1zM58 14h1v1h-1zM62 14h3v1h-3zM69 14h1v1h-1zM73 14h1v1h-1zM48 15h1v1h-1zM50 15h1v1h-1zM64 15h2v1h-2zM69 15h2v1h-2zM72 15h1v1h-1zM76 15h1v1h-1zM47 16h1v1h-1zM60 16h1v1h-1zM62 16h1v1h-1zM64 16h1v1h-1zM69 16h1v1h-1zM48 17h1v1h-1zM50 17h1v1h-1zM62 17h1v1h-1zM65 17h1v1h-1zM76 17h1v1h-1zM48 19h1v1h-1zM62 19h1v1h-1zM64 19h1v1h-1zM67 19h1v1h-1zM47 20h2v1h-2zM61 20h2v1h-2zM67 20h1v1h-1zM80 20h1v1h-1zM41 21h1v1h-1zM48 21h1v1h-1zM62 21h1v1h-1zM64 21h1v1h-1zM69 21h1v1h-1zM75 21h1v1h-1zM38 22h1v1h-1zM40 22h1v1h-1zM54 22h2v1h-2zM61 22h1v1h-1zM64 22h2v1h-2zM70 22h1v1h-1zM74 22h2v1h-2zM77 22h1v1h-1zM63 23h1v1h-1zM71 23h1v1h-1zM76 23h1v1h-1zM82 23h1v1h-1zM84 23h1v1h-1zM35 24h2v1h-2zM52 24h1v1h-1zM54 24h1v1h-1zM63 24h3v1h-3zM72 24h1v1h-1zM83 24h3v1h-3zM35 25h1v1h-1zM38 25h1v1h-1zM48 25h1v1h-1zM63 25h2v1h-2zM70 25h1v1h-1zM73 25h1v1h-1zM79 25h1v1h-1zM83 25h3v1h-3zM36 26h1v1h-1zM71 26h1v1h-1zM73 26h2v1h-2zM39 27h1v1h-1zM41 27h1v1h-1zM58 27h1v1h-1zM62 27h1v1h-1zM68 27h1v1h-1zM70 27h1v1h-1zM78 27h1v1h-1zM84 27h1v1h-1zM42 28h1v1h-1zM56 28h1v1h-1zM58 28h1v1h-1zM84 28h2v1h-2zM32 29h1v1h-1zM46 29h1v1h-1zM53 29h1v1h-1zM56 29h1v1h-1zM59 29h1v1h-1zM74 29h1v1h-1zM76 29h1v1h-1zM88 29h2v1h-2zM53 30h1v1h-1zM59 30h1v1h-1zM63 30h1v1h-1zM67 30h1v1h-1zM72 30h1v1h-1zM82 30h1v1h-1zM45 31h1v1h-1zM55 31h1v1h-1zM61 31h1v1h-1zM63 31h1v1h-1zM84 31h1v1h-1zM86 31h1v1h-1zM88 31h1v1h-1zM92 31h1v1h-1zM32 32h1v1h-1zM55 32h3v1h-3zM83 32h1v1h-1zM93 32h1v1h-1zM51 33h1v1h-1zM56 33h1v1h-1zM66 33h1v1h-1zM72 33h1v1h-1zM74 33h1v1h-1zM81 33h1v1h-1zM92 33h1v1h-1zM94 33h1v1h-1zM31 34h1v1h-1zM38 34h1v1h-1zM40 34h2v1h-2zM50 34h1v1h-1zM58 34h1v1h-1zM65 34h1v1h-1zM75 34h3v1h-3zM85 34h1v1h-1zM90 34h2v1h-2zM32 35h1v1h-1zM34 35h1v1h-1zM38 35h1v1h-1zM48 35h1v1h-1zM50 35h1v1h-1zM55 35h1v1h-1zM68 35h1v1h-1zM73 35h1v1h-1zM81 35h1v1h-1zM33 36h1v1h-1zM42 36h1v1h-1zM47 36h1v1h-1zM50 36h2v1h-2zM53 36h1v1h-1zM62 36h2v1h-2zM70 36h1v1h-1zM73 36h1v1h-1zM96 36h2v1h-2zM24 37h1v1h-1zM27 37h3v1h-3zM31 37h1v1h-1zM39 37h2v1h-2zM44 37h1v1h-1zM50 37h1v1h-1zM61 37h3v1h-3zM69 37h1v1h-1zM73 37h1v1h-1zM75 37h1v1h-1zM81 37h1v1h-1zM89 37h2v1h-2zM95 37h1v1h-1zM26 38h1v1h-1zM37 38h1v1h-1zM49 38h1v1h-1zM60 38h3v1h-3zM64 38h1v1h-1zM88 38h2v1h-2zM97 38h1v1h-1zM99 38h1v1h-1zM22 39h1v1h-1zM31 39h1v1h-1zM37 39h2v1h-2zM40 39h1v1h-1zM56 39h1v1h-1zM58 39h1v1h-1zM63 39h3v1h-3zM92 39h1v1h-1zM98 39h1v1h-1zM30 40h1v1h-1zM38 40h1v1h-1zM55 40h1v1h-1zM58 40h1v1h-1zM60 40h1v1h-1zM64 40h1v1h-1zM78 40h1v1h-1zM81 40h1v1h-1zM87 40h1v1h-1zM93 40h1v1h-1zM54 41h1v1h-1zM61 41h2v1h-2zM71 41h1v1h-1zM75 41h1v1h-1zM99 41h1v1h-1zM41 42h1v1h-1zM53 42h1v1h-1zM55 42h1v1h-1zM57 42h1v1h-1zM64 42h2v1h-2zM67 42h1v1h-1zM91 42h2v1h-2zM100 42h1v1h-1zM46 43h1v1h-1zM48 43h1v1h-1zM51 43h1v1h-1zM53 43h1v1h-1zM55 43h2v1h-2zM61 43h1v1h-1zM65 43h1v1h-1zM67 43h1v1h-1zM83 43h1v1h-1zM103 43h1v1h-1zM17 44h1v1h-1zM27 44h1v1h-1zM35 44h1v1h-1zM53 44h1v1h-1zM57 44h5v1h-5zM64 44h1v1h-1zM86 44h1v1h-1zM88 44h1v1h-1zM91 44h1v1h-1zM15 45h2v1h-2zM23 45h1v1h-1zM28 45h2v1h-2zM55 45h2v1h-2zM58 45h1v1h-1zM60 45h2v1h-2zM88 45h1v1h-1zM90 45h1v1h-1zM37 46h1v1h-1zM48 46h1v1h-1zM53 46h1v1h-1zM59 46h2v1h-2zM62 46h1v1h-1zM97 46h1v1h-1zM21 47h1v1h-1zM43 47h1v1h-1zM63 47h1v1h-1zM72 47h1v1h-1zM75 47h1v1h-1zM83 47h1v1h-1zM86 47h3v1h-3zM91 47h1v1h-1zM99 47h1v1h-1zM49 48h2v1h-2zM63 48h1v1h-1zM75 48h1v1h-1zM83 48h2v1h-2zM88 48h1v1h-1zM109 48h1v1h-1zM10 49h1v1h-1zM55 49h1v1h-1zM70 49h1v1h-1zM78 49h1v1h-1zM85 49h1v1h-1zM89 49h1v1h-1zM21 50h2v1h-2zM33 50h1v1h-1zM58 50h1v1h-1zM70 50h1v1h-1zM78 50h1v1h-1zM94 50h2v1h-2zM18 51h1v1h-1zM20 51h1v1h-1zM34 51h1v1h-1zM36 51h1v1h-1zM43 51h1v1h-1zM50 51h1v1h-1zM55 51h1v1h-1zM72 51h1v1h-1zM85 51h1v1h-1zM89 51h1v1h-1zM19 52h1v1h-1zM34 52h1v1h-1zM48 52h1v1h-1zM75 52h1v1h-1zM103 52h1v1h-1zM15 53h1v1h-1zM19 53h1v1h-1zM28 53h2v1h-2zM43 53h2v1h-2zM50 53h1v1h-1zM57 53h1v1h-1zM60 53h1v1h-1zM63 53h3v1h-3zM76 53h1v1h-1zM83 53h1v1h-1zM100 53h1v1h-1zM109 53h1v1h-1zM12 54h1v1h-1zM21 54h1v1h-1zM51 54h1v1h-1zM53 54h1v1h-1zM61 54h1v1h-1zM65 54h1v1h-1zM71 54h1v1h-1zM75 54h1v1h-1zM77 54h1v1h-1zM79 54h1v1h-1zM93 54h1v1h-1zM106 54h1v1h-1zM19 55h1v1h-1zM30 55h1v1h-1zM41 55h1v1h-1zM43 55h1v1h-1zM45 55h1v1h-1zM47 55h1v1h-1zM59 55h2v1h-2zM62 55h1v1h-1zM83 55h1v1h-1zM97 55h2v1h-2zM11 56h1v1h-1zM13 56h1v1h-1zM25 56h1v1h-1zM28 56h1v1h-1zM44 56h1v1h-1zM47 56h1v1h-1zM59 56h1v1h-1zM61 56h1v1h-1zM93 56h1v1h-1zM97 56h2v1h-2zM106 56h1v1h-1zM23 57h1v1h-1zM25 57h1v1h-1zM46 57h1v1h-1zM60 57h1v1h-1zM65 57h1v1h-1zM69 57h1v1h-1zM75 57h2v1h-2zM79 57h1v1h-1zM94 57h1v1h-1zM99 57h1v1h-1zM101 57h1v1h-1zM106 57h1v1h-1zM110 57h1v1h-1zM11 58h1v1h-1zM35 58h1v1h-1zM57 58h1v1h-1zM62 58h1v1h-1zM72 58h1v1h-1zM79 58h1v1h-1zM100 58h1v1h-1zM11 59h1v1h-1zM28 59h1v1h-1zM32 59h1v1h-1zM35 59h1v1h-1zM64 59h1v1h-1zM73 59h2v1h-2zM77 59h1v1h-1zM80 59h1v1h-1zM82 59h1v1h-1zM87 59h1v1h-1z"/>
<path fill="#acf5a8" d="M58 4h1v1h-1zM61 4h1v1h-1zM57 6h1v1h-1zM57 7h1v1h-1zM65 7h1v1h-1zM67 7h1v1h-1zM55 8h1v1h-1zM66 8h1v1h-1zM54 9h1v1h-1zM62 9h1v1h-1zM64 9h1v1h-1zM66 9h2v1h-2zM49 10h1v1h-1zM52 10h1v1h-1zM59 10h1v1h-1zM65 10h1v1h-1zM61 11h1v1h-1zM71 11h2v1h-2zM52 12h1v1h-1zM61 12h2v1h-2zM68 12h1v1h-1zM70 12h2v1h-2zM49 13h1v1h-1zM59 13h1v1h-1zM47 14h1v1h-1zM50 14h2v1h-2zM60 14h1v1h-1zM65 14h3v1h-3zM71 14h1v1h-1zM74 14h2v1h-2zM44 15h1v1h-1zM47 15h1v1h-1zM59 15h1v1h-1zM67 15h1v1h-1zM71 15h1v1h-1zM73 15h1v1h-1zM75 15h1v1h-1zM43 16h1v1h-1zM48 16h1v1h-1zM50 16h1v1h-1zM52 16h1v1h-1zM70 16h2v1h-2zM73 16h2v1h-2zM43 17h1v1h-1zM45 17h1v1h-1zM49 17h1v1h-1zM67 17h1v1h-1zM71 17h1v1h-1zM73 17h2v1h-2zM47 18h1v1h-1zM50 18h1v1h-1zM52 18h1v1h-1zM60 18h4v1h-4zM66 18h1v1h-1zM68 18h1v1h-1zM72 18h1v1h-1zM77 18h3v1h-3zM43 19h3v1h-3zM51 19h2v1h-2zM58 19h1v1h-1zM69 19h2v1h-2zM75 19h1v1h-1zM43 20h1v1h-1zM51 20h2v1h-2zM59 20h1v1h-1zM66 20h1v1h-1zM69 20h1v1h-1zM74 20h1v1h-1zM76 20h1v1h-1zM79 20h1v1h-1zM81 20h1v1h-1zM39 21h2v1h-2zM42 21h1v1h-1zM44 21h4v1h-4zM55 21h1v1h-1zM57 21h2v1h-2zM61 21h1v1h-1zM63 21h1v1h-1zM68 21h1v1h-1zM70 21h1v1h-1zM76 21h2v1h-2zM80 21h1v1h-1zM41 22h2v1h-2zM44 22h2v1h-2zM51 22h1v1h-1zM53 22h1v1h-1zM57 22h1v1h-1zM60 22h1v1h-1zM62 22h1v1h-1zM72 22h1v1h-1zM76 22h1v1h-1zM79 22h2v1h-2zM82 22h2v1h-2zM36 23h5v1h-5zM53 23h3v1h-3zM57 23h1v1h-1zM66 23h2v1h-2zM72 23h1v1h-1zM75 23h1v1h-1zM77 23h2v1h-2zM80 23h1v1h-1zM83 23h1v1h-1zM37 24h4v1h-4zM47 24h2v1h-2zM50 24h2v1h-2zM53 24h1v1h-1zM62 24h1v1h-1zM69 24h2v1h-2zM73 24h1v1h-1zM75 24h3v1h-3zM79 24h1v1h-1zM34 25h1v1h-1zM36 25h2v1h-2zM43 25h1v1h-1zM51 25h6v1h-6zM60 25h1v1h-1zM68 25h1v1h-1zM72 25h1v1h-1zM75 25h1v1h-1zM78 25h1v1h-1zM80 25h1v1h-1zM82 25h1v1h-1zM38 26h2v1h-2zM42 26h2v1h-2zM46 26h2v1h-2zM49 26h6v1h-6zM61 26h1v1h-1zM64 26h2v1h-2zM68 26h1v1h-1zM72 26h1v1h-1zM76 26h2v1h-2zM80 26h1v1h-1zM82 26h1v1h-1zM84 26h2v1h-2zM32 27h1v1h-1zM35 27h3v1h-3zM40 27h1v1h-1zM42 27h1v1h-1zM49 27h1v1h-1zM54 27h2v1h-2zM65 27h3v1h-3zM83 27h1v1h-1zM85 27h1v1h-1zM87 27h2v1h-2zM32 28h1v1h-1zM38 28h2v1h-2zM43 28h4v1h-4zM52 28h1v1h-1zM55 28h1v1h-1zM64 28h1v1h-1zM71 28h1v1h-1zM76 28h1v1h-1zM78 28h1v1h-1zM83 28h1v1h-1zM86 28h1v1h-1zM88 28h1v1h-1zM33 29h2v1h-2zM41 29h1v1h-1zM44 29h1v1h-1zM55 29h1v1h-1zM57 29h2v1h-2zM64 29h2v1h-2zM67 29h1v1h-1zM71 29h1v1h-1zM80 29h1v1h-1zM84 29h1v1h-1zM87 29h1v1h-1zM90 29h1v1h-1zM32 30h1v1h-1zM39 30h2v1h-2zM43 30h2v1h-2zM46 30h2v1h-2zM51 30h1v1h-1zM54 30h3v1h-3zM58 30h1v1h-1zM60 30h1v1h-1zM68 30h1v1h-1zM71 30h1v1h-1zM73 30h3v1h-3zM77 30h1v1h-1zM83 30h1v1h-1zM87 30h1v1h-1zM89 30h1v1h-1zM28 31h1v1h-1zM37 31h1v1h-1zM39 31h1v1h-1zM43 31h1v1h-1zM47 31h1v1h-1zM53 31h1v1h-1zM56 31h1v1h-1zM58 31h2v1h-2zM64 31h4v1h-4zM69 31h1v1h-1zM72 31h1v1h-1zM76 31h1v1h-1zM79 31h2v1h-2zM83 31h1v1h-1zM87 31h1v1h-1zM29 32h2v1h-2zM33 32h1v1h-1zM38 32h2v1h-2zM41 32h1v1h-1zM43 32h1v1h-1zM47 32h1v1h-1zM50 32h1v1h-1zM52 32h1v1h-1zM59 32h1v1h-1zM64 32h1v1h-1zM66 32h1v1h-1zM68 32h1v1h-1zM70 32h1v1h-1zM77 32h2v1h-2zM84 32h2v1h-2zM90 32h1v1h-1zM26 33h2v1h-2zM33 33h1v1h-1zM36 33h1v1h-1zM38 33h1v1h-1zM41 33h1v1h-1zM44 33h4v1h-4zM54 33h1v1h-1zM59 33h1v1h-1zM65 33h1v1h-1zM73 33h1v1h-1zM77 33h1v1h-1zM83 33h1v1h-1zM85 33h3v1h-3zM89 33h2v1h-2zM25 34h2v1h-2zM28 34h1v1h-1zM30 34h1v1h-1zM33 34h1v1h-1zM39 34h1v1h-1zM44 34h3v1h-3zM51 34h1v1h-1zM53 34h1v1h-1zM55 34h1v1h-1zM60 34h3v1h-3zM64 34h1v1h-1zM70 34h1v1h-1zM72 34h1v1h-1zM78 34h3v1h-3zM82 34h3v1h-3zM86 34h4v1h-4zM95 34h1v1h-1zM24 35h1v1h-1zM27 35h2v1h-2zM39 35h5v1h-5zM46 35h1v1h-1zM51 35h1v1h-1zM60 35h2v1h-2zM65 35h2v1h-2zM69 35h3v1h-3zM74 35h2v1h-2zM79 35h2v1h-2zM82 35h2v1h-2zM86 35h1v1h-1zM90 35h1v1h-1zM92 35h2v1h-2zM95 35h1v1h-1zM27 36h1v1h-1zM29 36h2v1h-2zM32 36h1v1h-1zM34 36h1v1h-1zM37 36h2v1h-2zM40 36h1v1h-1zM49 36h1v1h-1zM52 36h1v1h-1zM54 36h1v1h-1zM59 36h1v1h-1zM66 36h2v1h-2zM74 36h2v1h-2zM77 36h1v1h-1zM80 36h1v1h-1zM82 36h3v1h-3zM86 36h1v1h-1zM90 36h2v1h-2zM94 36h2v1h-2zM23 37h1v1h-1zM25 37h2v1h-2zM30 37h1v1h-1zM32 37h1v1h-1zM36 37h3v1h-3zM41 37h2v1h-2zM45 37h1v1h-1zM47 37h1v1h-1zM51 37h1v1h-1zM54 37h1v1h-1zM67 37h1v1h-1zM71 37h1v1h-1zM74 37h1v1h-1zM76 37h1v1h-1zM79 37h2v1h-2zM82 37h1v1h-1zM84 37h1v1h-1zM87 37h2v1h-2zM92 37h2v1h-2zM96 37h1v1h-1zM21 38h2v1h-2zM24 38h2v1h-2zM29 38h5v1h-5zM35 38h2v1h-2zM38 38h2v1h-2zM46 38h1v1h-1zM48 38h1v1h-1zM58 38h1v1h-1zM63 38h1v1h-1zM65 38h1v1h-1zM67 38h1v1h-1zM69 38h2v1h-2zM75 38h1v1h-1zM78 38h1v1h-1zM80 38h1v1h-1zM82 38h1v1h-1zM85 38h2v1h-2zM90 38h2v1h-2zM20 39h2v1h-2zM23 39h1v1h-1zM25 39h2v1h-2zM28 39h2v1h-2zM32 39h5v1h-5zM45 39h3v1h-3zM49 39h2v1h-2zM54 39h2v1h-2zM61 39h1v1h-1zM68 39h2v1h-2zM71 39h1v1h-1zM73 39h2v1h-2zM76 39h1v1h-1zM80 39h4v1h-4zM87 39h1v1h-1zM89 39h2v1h-2zM93 39h1v1h-1zM97 39h1v1h-1zM21 40h1v1h-1zM28 40h1v1h-1zM31 40h1v1h-1zM33 40h1v1h-1zM37 40h1v1h-1zM40 40h1v1h-1zM45 40h1v1h-1zM47 40h1v1h-1zM50 40h2v1h-2zM56 40h1v1h-1zM59 40h1v1h-1zM63 40h1v1h-1zM65 40h1v1h-1zM68 40h1v1h-1zM71 40h1v1h-1zM73 40h2v1h-2zM79 40h1v1h-1zM83 40h1v1h-1zM85 40h1v1h-1zM88 40h1v1h-1zM94 40h2v1h-2zM98 40h1v1h-1zM18 41h1v1h-1zM21 41h2v1h-2zM30 41h1v1h-1zM34 41h1v1h-1zM36 41h3v1h-3zM45 41h1v1h-1zM55 41h2v1h-2zM58 41h1v1h-1zM64 41h1v1h-1zM66 41h1v1h-1zM69 41h2v1h-2zM72 41h3v1h-3zM76 41h3v1h-3zM80 41h1v1h-1zM90 41h3v1h-3zM94 41h2v1h-2zM97 41h2v1h-2zM17 42h2v1h-2zM29 42h6v1h-6zM38 42h1v1h-1zM40 42h1v1h-1zM50 42h1v1h-1zM52 42h1v1h-1zM54 42h1v1h-1zM59 42h3v1h-3zM68 42h2v1h-2zM71 42h1v1h-1zM73 42h1v1h-1zM78 42h1v1h-1zM80 42h2v1h-2zM83 42h2v1h-2zM88 42h2v1h-2zM93 42h1v1h-1zM97 42h1v1h-1zM16 43h1v1h-1zM19 43h1v1h-1zM21 43h1v1h-1zM25 43h1v1h-1zM29 43h1v1h-1zM34 43h1v1h-1zM36 43h3v1h-3zM40 43h1v1h-1zM47 43h1v1h-1zM49 43h2v1h-2zM52 43h1v1h-1zM60 43h1v1h-1zM64 43h1v1h-1zM66 43h1v1h-1zM68 43h1v1h-1zM75 43h3v1h-3zM79 43h1v1h-1zM82 43h1v1h-1zM84 43h2v1h-2zM87 43h6v1h-6zM102 43h1v1h-1zM16 44h1v1h-1zM20 44h2v1h-2zM26 44h1v1h-1zM28 44h2v1h-2zM31 44h2v1h-2zM39 44h3v1h-3zM46 44h1v1h-1zM48 44h3v1h-3zM52 44h1v1h-1zM62 44h1v1h-1zM66 44h3v1h-3zM71 44h2v1h-2zM75 44h1v1h-1zM78 44h1v1h-1zM80 44h2v1h-2zM83 44h2v1h-2zM90 44h1v1h-1zM92 44h2v1h-2zM99 44h3v1h-3zM104 44h1v1h-1zM14 45h1v1h-1zM18 45h1v1h-1zM22 45h1v1h-1zM27 45h1v1h-1zM30 45h1v1h-1zM35 45h3v1h-3zM39 45h2v1h-2zM42 45h1v1h-1zM47 45h1v1h-1zM50 45h2v1h-2zM53 45h1v1h-1zM57 45h1v1h-1zM66 45h1v1h-1zM69 45h1v1h-1zM76 45h2v1h-2zM81 45h2v1h-2zM84 45h1v1h-1zM86 45h2v1h-2zM89 45h1v1h-1zM92 45h1v1h-1zM95 45h1v1h-1zM100 45h1v1h-1zM19 46h1v1h-1zM24 46h1v1h-1zM27 46h4v1h-4zM33 46h1v1h-1zM36 46h1v1h-1zM38 46h1v1h-1zM40 46h1v1h-1zM42 46h1v1h-1zM45 46h1v1h-1zM47 46h1v1h-1zM51 46h1v1h-1zM54 46h1v1h-1zM56 46h1v1h-1zM61 46h1v1h-1zM66 46h1v1h-1zM79 46h1v1h-1zM82 46h1v1h-1zM84 46h1v1h-1zM86 46h2v1h-2zM91 46h1v1h-1zM95 46h1v1h-1zM100 46h2v1h-2zM22 47h2v1h-2zM26 47h1v1h-1zM28 47h1v1h-1zM33 47h1v1h-1zM36 47h1v1h-1zM38 47h1v1h-1zM42 47h1v1h-1zM45 47h2v1h-2zM49 47h2v1h-2zM52 47h4v1h-4zM58 47h2v1h-2zM68 47h2v1h-2zM71 47h1v1h-1zM81 47h2v1h-2zM85 47h1v1h-1zM89 47h1v1h-1zM94 47h1v1h-1zM98 47h1v1h-1zM104 47h1v1h-1zM108 47h1v1h-1zM14 48h1v1h-1zM18 48h2v1h-2zM22 48h2v1h-2zM27 48h1v1h-1zM31 48h3v1h-3zM43 48h3v1h-3zM48 48h1v1h-1zM51 48h1v1h-1zM58 48h1v1h-1zM60 48h2v1h-2zM67 48h1v1h-1zM69 48h2v1h-2zM78 48h1v1h-1zM85 48h3v1h-3zM90 48h4v1h-4zM95 48h1v1h-1zM98 48h1v1h-1zM101 48h2v1h-2zM105 48h1v1h-1zM14 49h2v1h-2zM18 49h3v1h-3zM22 49h1v1h-1zM26 49h1v1h-1zM29 49h1v1h-1zM36 49h1v1h-1zM39 49h1v1h-1zM43 49h2v1h-2zM47 49h3v1h-3zM51 49h1v1h-1zM53 49h1v1h-1zM58 49h1v1h-1zM66 49h3v1h-3zM72 49h1v1h-1zM77 49h1v1h-1zM79 49h2v1h-2zM83 49h2v1h-2zM86 49h2v1h-2zM91 49h2v1h-2zM99 49h1v1h-1zM101 49h1v1h-1zM104 49h1v1h-1zM106 49h1v1h-1zM11 50h1v1h-1zM14 50h2v1h-2zM18 50h2v1h-2zM23 50h3v1h-3zM27 50h2v1h-2zM32 50h1v1h-1zM37 50h1v1h-1zM39 50h1v1h-1zM41 50h1v1h-1zM49 50h2v1h-2zM57 50h1v1h-1zM67 50h2v1h-2zM73 50h1v1h-1zM80 50h1v1h-1zM83 50h1v1h-1zM88 50h5v1h-5zM96 50h1v1h-1zM100 50h1v1h-1zM103 50h1v1h-1zM8 51h1v1h-1zM10 51h1v1h-1zM13 51h1v1h-1zM24 51h1v1h-1zM26 51h1v1h-1zM30 51h1v1h-1zM35 51h1v1h-1zM38 51h1v1h-1zM44 51h1v1h-1zM48 51h2v1h-2zM56 51h2v1h-2zM69 51h2v1h-2zM73 51h2v1h-2zM77 51h1v1h-1zM81 51h1v1h-1zM95 51h2v1h-2zM103 51h1v1h-1zM106 51h1v1h-1zM111 51h2v1h-2zM12 52h1v1h-1zM14 52h3v1h-3zM18 52h1v1h-1zM20 52h1v1h-1zM24 52h1v1h-1zM26 52h1v1h-1zM29 52h1v1h-1zM36 52h1v1h-1zM39 52h1v1h-1zM45 52h1v1h-1zM49 52h1v1h-1zM52 52h1v1h-1zM57 52h2v1h-2zM63 52h1v1h-1zM66 52h1v1h-1zM77 52h1v1h-1zM82 52h1v1h-1zM84 52h1v1h-1zM86 52h2v1h-2zM90 52h1v1h-1zM92 52h1v1h-1zM96 52h1v1h-1zM99 52h1v1h-1zM106 52h1v1h-1zM109 52h2v1h-2zM113 52h1v1h-1zM6 53h1v1h-1zM14 53h1v1h-1zM17 53h2v1h-2zM20 53h3v1h-3zM26 53h2v1h-2zM39 53h1v1h-1zM41 53h1v1h-1zM48 53h1v1h-1zM51 53h2v1h-2zM54 53h2v1h-2zM58 53h1v1h-1zM67 53h5v1h-5zM77 53h2v1h-2zM82 53h1v1h-1zM88 53h7v1h-7zM96 53h2v1h-2zM99 53h1v1h-1zM102 53h1v1h-1zM106 53h1v1h-1zM108 53h1v1h-1zM112 53h2v1h-2zM7 54h2v1h-2zM11 54h1v1h-1zM13 54h2v1h-2zM16 54h2v1h-2zM19 54h2v1h-2zM23 54h1v1h-1zM25 54h2v1h-2zM30 54h1v1h-1zM35 54h2v1h-2zM38 54h1v1h-1zM42 54h3v1h-3zM47 54h1v1h-1zM49 54h2v1h-2zM54 54h1v1h-1zM56 54h3v1h-3zM63 54h1v1h-1zM66 54h1v1h-1zM68 54h1v1h-1zM70 54h1v1h-1zM76 54h1v1h-1zM80 54h1v1h-1zM88 54h1v1h-1zM90 54h1v1h-1zM92 54h1v1h-1zM96 54h1v1h-1zM104 54h1v1h-1zM112 54h1v1h-1zM115 54h1v1h-1zM4 55h3v1h-3zM14 55h2v1h-2zM17 55h2v1h-2zM23 55h1v1h-1zM28 55h2v1h-2zM31 55h1v1h-1zM34 55h1v1h-1zM37 55h1v1h-1zM39 55h1v1h-1zM42 55h1v1h-1zM44 55h1v1h-1zM46 55h1v1h-1zM49 55h1v1h-1zM57 55h1v1h-1zM61 55h1v1h-1zM69 55h3v1h-3zM73 55h2v1h-2zM77 55h2v1h-2zM82 55h1v1h-1zM84 55h3v1h-3zM89 55h1v1h-1zM92 55h2v1h-2zM95 55h1v1h-1zM99 55h2v1h-2zM104 55h1v1h-1zM108 55h1v1h-1zM112 55h1v1h-1zM114 55h1v1h-1zM116 55h1v1h-1zM6 56h1v1h-1zM12 56h1v1h-1zM20 56h1v1h-1zM27 56h1v1h-1zM30 56h3v1h-3zM35 56h1v1h-1zM37 56h1v1h-1zM40 56h1v1h-1zM45 56h2v1h-2zM48 56h2v1h-2zM51 56h1v1h-1zM58 56h1v1h-1zM63 56h1v1h-1zM65 56h2v1h-2zM71 56h3v1h-3zM77 56h2v1h-2zM80 56h1v1h-1zM85 56h1v1h-1zM89 56h1v1h-1zM91 56h2v1h-2zM94 56h2v1h-2zM99 56h1v1h-1zM107 56h4v1h-4zM113 56h1v1h-1zM116 56h2v1h-2zM4 57h5v1h-5zM13 57h1v1h-1zM22 57h1v1h-1zM27 57h1v1h-1zM32 57h2v1h-2zM36 57h2v1h-2zM39 57h3v1h-3zM43 57h3v1h-3zM47 57h2v1h-2zM51 57h1v1h-1zM55 57h1v1h-1zM58 57h1v1h-1zM61 57h1v1h-1zM64 57h1v1h-1zM66 57h1v1h-1zM72 57h1v1h-1zM74 57h1v1h-1zM81 57h3v1h-3zM86 57h1v1h-1zM89 57h4v1h-4zM96 57h1v1h-1zM98 57h1v1h-1zM102 57h2v1h-2zM107 57h3v1h-3zM111 57h5v1h-5zM118 57h1v1h-1zM1 58h1v1h-1zM5 58h1v1h-1zM7 58h1v1h-1zM12 58h2v1h-2zM15 58h1v1h-1zM17 58h1v1h-1zM28 58h1v1h-1zM30 58h5v1h-5zM36 58h2v1h-2zM41 58h1v1h-1zM51 58h1v1h-1zM55 58h2v1h-2zM58 58h3v1h-3zM64 58h6v1h-6zM73 58h4v1h-4zM83 58h2v1h-2zM91 58h1v1h-1zM101 58h4v1h-4zM106 58h2v1h-2zM110 58h3v1h-3zM114 58h1v1h-1zM118 58h2v1h-2zM1 59h3v1h-3zM5 59h3v1h-3zM10 59h1v1h-1zM12 59h1v1h-1zM14 59h1v1h-1zM17 59h3v1h-3zM23 59h1v1h-1zM25 59h1v1h-1zM29 59h2v1h-2zM33 59h2v1h-2zM36 59h3v1h-3zM42 59h1v1h-1zM44 59h1v1h-1zM54 59h1v1h-1zM56 59h1v1h-1zM58 59h3v1h-3zM63 59h1v1h-1zM66 59h1v1h-1zM68 59h1v1h-1zM70 59h1v1h-1zM72 59h1v1h-1zM76 59h1v1h-1zM78 59h2v1h-2zM81 59h1v1h-1zM83 59h2v1h-2zM89 59h1v1h-1zM96 59h1v1h-1zM100 59h1v1h-1zM103 59h1v1h-1zM105 59h1v1h-1zM107 59h2v1h-2zM115 59h3v1h-3zM119 59h2v1h-2z"/>
<path fill="#dff58d" d="M66 7h1v1h-1zM66 10h1v1h-1zM71 10h1v1h-1zM52 11h1v1h-1zM49 12h2v1h-2zM60 12h1v1h-1zM53 13h1v1h-1zM72 13h1v1h-1zM45 14h1v1h-1zM56 14h1v1h-1zM51 15h1v1h-1zM61 15h1v1h-1zM58 16h1v1h-1zM47 17h1v1h-1zM56 17h2v1h-2zM41 18h2v1h-2zM53 18h1v1h-1zM56 18h1v1h-1zM59 18h1v1h-1zM64 18h1v1h-1zM71 18h1v1h-1zM40 19h1v1h-1zM57 19h1v1h-1zM74 19h1v1h-1zM76 19h1v1h-1zM80 19h1v1h-1zM45 20h1v1h-1zM60 20h1v1h-1zM65 20h1v1h-1zM77 20h1v1h-1zM49 21h1v1h-1zM59 21h1v1h-1zM74 21h1v1h-1zM47 22h1v1h-1zM59 22h1v1h-1zM63 22h1v1h-1zM43 24h1v1h-1zM55 24h1v1h-1zM57 24h1v1h-1zM60 24h1v1h-1zM66 24h1v1h-1zM57 25h1v1h-1zM59 25h1v1h-1zM40 26h1v1h-1zM59 26h1v1h-1zM62 26h1v1h-1zM67 26h1v1h-1zM78 26h1v1h-1zM46 27h1v1h-1zM50 27h1v1h-1zM53 27h1v1h-1zM56 27h1v1h-1zM60 27h2v1h-2zM63 27h1v1h-1zM86 27h1v1h-1zM33 28h1v1h-1zM47 28h1v1h-1zM57 28h1v1h-1zM65 28h1v1h-1zM68 28h1v1h-1zM79 28h1v1h-1zM82 28h1v1h-1zM31 29h1v1h-1zM49 29h3v1h-3zM60 29h1v1h-1zM63 29h1v1h-1zM66 29h1v1h-1zM70 29h1v1h-1zM79 29h1v1h-1zM31 30h1v1h-1zM37 30h1v1h-1zM48 30h1v1h-1zM85 30h2v1h-2zM32 31h1v1h-1zM44 31h1v1h-1zM52 31h1v1h-1zM62 31h1v1h-1zM42 32h1v1h-1zM71 32h1v1h-1zM35 33h1v1h-1zM42 33h1v1h-1zM57 33h1v1h-1zM62 33h1v1h-1zM78 33h1v1h-1zM88 33h1v1h-1zM63 34h1v1h-1zM74 34h1v1h-1zM81 34h1v1h-1zM44 35h1v1h-1zM59 35h1v1h-1zM84 35h1v1h-1zM87 35h1v1h-1zM41 36h1v1h-1zM69 36h1v1h-1zM92 36h2v1h-2zM43 37h1v1h-1zM53 37h1v1h-1zM58 37h1v1h-1zM28 38h1v1h-1zM56 38h2v1h-2zM83 38h2v1h-2zM39 39h1v1h-1zM44 39h1v1h-1zM51 39h1v1h-1zM66 39h1v1h-1zM34 40h1v1h-1zM42 40h1v1h-1zM44 40h1v1h-1zM46 40h1v1h-1zM49 40h1v1h-1zM52 40h2v1h-2zM61 40h1v1h-1zM91 40h1v1h-1zM96 40h1v1h-1zM19 41h1v1h-1zM35 41h1v1h-1zM49 41h1v1h-1zM63 41h1v1h-1zM89 41h1v1h-1zM100 41h2v1h-2zM22 42h1v1h-1zM35 42h1v1h-1zM39 42h1v1h-1zM56 42h1v1h-1zM63 42h1v1h-1zM87 42h1v1h-1zM96 42h1v1h-1zM39 43h1v1h-1zM45 43h1v1h-1zM57 43h2v1h-2zM62 43h2v1h-2zM71 43h1v1h-1zM97 43h1v1h-1zM63 44h1v1h-1zM79 44h1v1h-1zM97 44h1v1h-1zM102 44h2v1h-2zM105 44h1v1h-1zM33 45h1v1h-1zM43 45h1v1h-1zM45 45h2v1h-2zM54 45h1v1h-1zM65 45h1v1h-1zM85 45h1v1h-1zM94 45h1v1h-1zM97 45h2v1h-2zM13 46h1v1h-1zM31 46h2v1h-2zM35 46h1v1h-1zM44 46h1v1h-1zM63 46h1v1h-1zM15 47h1v1h-1zM17 47h1v1h-1zM19 47h1v1h-1zM37 47h1v1h-1zM40 47h1v1h-1zM51 47h1v1h-1zM56 47h1v1h-1zM65 47h1v1h-1zM84 47h1v1h-1zM105 47h1v1h-1zM11 48h1v1h-1zM20 48h1v1h-1zM30 48h1v1h-1zM46 48h1v1h-1zM80 48h1v1h-1zM94 48h1v1h-1zM104 48h1v1h-1zM108 48h1v1h-1zM11 49h1v1h-1zM28 49h1v1h-1zM33 49h1v1h-1zM35 49h1v1h-1zM40 49h1v1h-1zM50 49h1v1h-1zM59 49h1v1h-1zM71 49h1v1h-1zM76 49h1v1h-1zM12 50h1v1h-1zM17 50h1v1h-1zM26 50h1v1h-1zM35 50h1v1h-1zM43 50h2v1h-2zM47 50h1v1h-1zM59 50h1v1h-1zM69 50h1v1h-1zM79 50h1v1h-1zM97 50h1v1h-1zM110 50h1v1h-1zM16 51h1v1h-1zM32 51h1v1h-1zM42 51h1v1h-1zM54 51h1v1h-1zM64 51h1v1h-1zM68 51h1v1h-1zM79 51h1v1h-1zM88 51h1v1h-1zM91 51h1v1h-1zM98 51h1v1h-1zM101 51h1v1h-1zM105 51h1v1h-1zM22 52h2v1h-2zM25 52h1v1h-1zM30 52h1v1h-1zM32 52h2v1h-2zM59 52h3v1h-3zM74 52h1v1h-1zM78 52h1v1h-1zM23 53h1v1h-1zM35 53h1v1h-1zM38 53h1v1h-1zM73 53h1v1h-1zM84 53h1v1h-1zM101 53h1v1h-1zM107 53h1v1h-1zM10 54h1v1h-1zM24 54h1v1h-1zM31 54h2v1h-2zM37 54h1v1h-1zM39 54h2v1h-2zM46 54h1v1h-1zM48 54h1v1h-1zM64 54h1v1h-1zM87 54h1v1h-1zM97 54h1v1h-1zM108 54h1v1h-1zM68 55h1v1h-1zM80 55h1v1h-1zM105 55h1v1h-1zM110 55h1v1h-1zM15 56h1v1h-1zM18 56h1v1h-1zM34 56h1v1h-1zM52 56h1v1h-1zM76 56h1v1h-1zM83 56h1v1h-1zM19 57h1v1h-1zM28 57h1v1h-1zM49 57h1v1h-1zM52 57h1v1h-1zM56 57h2v1h-2zM63 57h1v1h-1zM68 57h1v1h-1zM26 58h1v1h-1zM46 58h1v1h-1zM49 58h1v1h-1zM87 58h1v1h-1zM9 59h1v1h-1zM13 59h1v1h-1zM22 59h1v1h-1zM45 59h1v1h-1zM49 59h1v1h-1zM62 59h1v1h-1zM71 59h1v1h-1zM93 59h1v1h-1zM99 59h1v1h-1zM111 59h1v1h-1z"/>
<path fill="#f0ec79" d="M59 0h1v1h-1zM58 1h2v1h-2zM61 2h1v1h-1zM56 4h1v1h-1zM55 5h2v1h-2zM62 5h1v1h-1zM61 6h2v1h-2zM65 6h1v1h-1zM56 7h1v1h-1zM59 7h3v1h-3zM67 8h3v1h-3zM53 9h1v1h-1zM68 9h1v1h-1zM70 9h1v1h-1zM53 10h2v1h-2zM57 10h1v1h-1zM62 10h1v1h-1zM68 10h2v1h-2zM50 11h2v1h-2zM53 11h1v1h-1zM56 11h1v1h-1zM67 11h1v1h-1zM54 12h2v1h-2zM59 12h1v1h-1zM67 12h1v1h-1zM46 13h1v1h-1zM48 13h1v1h-1zM54 13h1v1h-1zM61 13h1v1h-1zM67 13h1v1h-1zM70 13h1v1h-1zM74 13h1v1h-1zM54 14h2v1h-2zM61 14h1v1h-1zM53 15h1v1h-1zM56 15h3v1h-3zM60 15h1v1h-1zM44 16h1v1h-1zM53 16h1v1h-1zM55 16h3v1h-3zM54 17h2v1h-2zM65 18h1v1h-1zM41 19h1v1h-1zM53 19h4v1h-4zM53 20h3v1h-3zM57 20h1v1h-1zM38 21h1v1h-1zM66 22h1v1h-1zM60 23h1v1h-1zM79 23h1v1h-1zM81 23h1v1h-1zM44 25h1v1h-1zM61 25h1v1h-1zM48 27h1v1h-1zM59 28h1v1h-1zM61 28h1v1h-1zM80 28h1v1h-1zM36 29h1v1h-1zM38 29h1v1h-1zM61 29h1v1h-1zM36 30h1v1h-1zM61 30h1v1h-1zM77 31h1v1h-1zM31 32h1v1h-1zM48 32h2v1h-2zM62 32h1v1h-1zM87 32h2v1h-2zM48 33h1v1h-1zM64 33h1v1h-1zM69 33h1v1h-1zM71 33h1v1h-1zM43 34h1v1h-1zM57 35h1v1h-1zM56 36h3v1h-3zM64 36h1v1h-1zM76 36h1v1h-1zM66 37h1v1h-1zM68 37h1v1h-1zM66 38h1v1h-1zM74 38h1v1h-1zM79 38h1v1h-1zM41 39h1v1h-1zM27 40h1v1h-1zM72 40h1v1h-1zM101 40h1v1h-1zM57 41h1v1h-1zM68 41h1v1h-1zM96 41h1v1h-1zM99 42h1v1h-1zM102 42h1v1h-1zM17 43h2v1h-2zM20 43h1v1h-1zM73 43h1v1h-1zM104 43h1v1h-1zM15 44h1v1h-1zM37 44h1v1h-1zM99 45h1v1h-1zM102 45h2v1h-2zM16 46h1v1h-1zM41 46h1v1h-1zM72 46h1v1h-1zM14 47h1v1h-1zM31 47h1v1h-1zM97 47h1v1h-1zM15 48h1v1h-1zM54 48h1v1h-1zM56 48h2v1h-2zM59 48h1v1h-1zM68 48h1v1h-1zM77 48h1v1h-1zM79 48h1v1h-1zM13 49h1v1h-1zM17 49h1v1h-1zM61 49h1v1h-1zM69 49h1v1h-1zM97 49h1v1h-1zM105 49h1v1h-1zM9 50h1v1h-1zM45 50h1v1h-1zM60 50h2v1h-2zM65 50h1v1h-1zM81 50h1v1h-1zM86 50h1v1h-1zM102 50h1v1h-1zM111 50h1v1h-1zM27 51h1v1h-1zM31 51h1v1h-1zM39 51h1v1h-1zM75 51h1v1h-1zM107 51h1v1h-1zM109 51h1v1h-1zM10 52h2v1h-2zM13 52h1v1h-1zM55 52h1v1h-1zM97 52h2v1h-2zM104 52h1v1h-1zM108 52h1v1h-1zM30 53h1v1h-1zM105 53h1v1h-1zM111 53h1v1h-1zM107 54h1v1h-1zM109 54h1v1h-1zM111 54h1v1h-1zM10 55h1v1h-1zM12 55h1v1h-1zM20 55h1v1h-1zM26 55h1v1h-1zM66 55h1v1h-1zM9 56h1v1h-1zM101 56h1v1h-1zM111 56h1v1h-1zM11 57h2v1h-2zM70 57h1v1h-1zM84 57h1v1h-1zM18 58h1v1h-1zM40 58h1v1h-1zM45 58h1v1h-1zM61 58h1v1h-1zM86 58h1v1h-1zM15 59h1v1h-1zM26 59h1v1h-1zM41 59h1v1h-1zM53 59h1v1h-1zM97 59h1v1h-1z"/>
<path fill="#f7d768" d="M60 1h1v1h-1zM53 6h2v1h-2zM56 8h1v1h-1zM59 11h1v1h-1zM69 11h1v1h-1zM53 14h1v1h-1zM45 15h1v1h-1zM54 15h2v1h-2zM54 16h1v1h-1zM61 16h1v1h-1zM53 17h1v1h-1zM58 17h1v1h-1zM55 18h1v1h-1zM60 21h1v1h-1zM59 23h1v1h-1zM59 24h1v1h-1zM75 27h1v1h-1zM48 31h1v1h-1zM56 35h1v1h-1zM91 37h1v1h-1zM42 38h1v1h-1zM84 40h1v1h-1zM20 46h1v1h-1zM43 46h1v1h-1zM57 47h1v1h-1zM37 48h1v1h-1zM56 50h1v1h-1zM64 50h1v1h-1zM41 51h1v1h-1zM60 51h1v1h-1zM9 55h1v1h-1zM51 55h1v1h-1zM95 57h1v1h-1z"/>
<path fill="#ffbd57" d="M62 4h1v1h-1zM52 7h1v1h-1zM57 14h1v1h-1zM59 16h1v1h-1zM56 24h1v1h-1zM62 25h1v1h-1zM63 32h1v1h-1zM107 46h1v1h-1zM107 50h1v1h-1zM9 54h1v1h-1z"/>
<path fill="#ffa045" d="M63 2h1v1h-1zM59 9h1v1h-1zM61 9h1v1h-1zM56 12h1v1h-1zM58 13h1v1h-1zM68 14h1v1h-1zM77 17h1v1h-1zM57 18h1v1h-1zM56 20h1v1h-1zM65 23h1v1h-1zM65 25h1v1h-1z"/>
<path fill="#f4754b" d="M61 1h1v1h-1zM60 3h1v1h-1zM106 47h1v1h-1z"/>
<path fill="#ee504e" d="M60 5h1v1h-1zM12 49h1v1h-1z"/>
<path fill="#ff5a5a" d="M64 3h1v1h-1zM61 5h1v1h-1zM110 51h1v1h-1z"/>
<path fill="#ff7c7c" d="M60 4h1v1h-1z"/>
</g>
<g id="pa">
<rect x="104.6" y="50.5" width="738.5" height="422.3" fill="none" stroke="#000" stroke-width="2.8"/>
<path d="M110.92 50.5v-9.2M110.92 472.8v9.2M171.4 50.5v-9.2M171.4 472.8v9.2M231.88 50.5v-9.2M231.88 472.8v9.2M292.36 50.5v-9.2M292.36 472.8v9.2M352.84 50.5v-9.2M352.84 472.8v9.2M413.32 50.5v-9.2M413.32 472.8v9.2M473.8 50.5v-9.2M473.8 472.8v9.2M534.28 50.5v-9.2M534.28 472.8v9.2M594.76 50.5v-9.2M594.76 472.8v9.2M655.24 50.5v-9.2M655.24 472.8v9.2M715.72 50.5v-9.2M715.72 472.8v9.2M776.2 50.5v-9.2M776.2 472.8v9.2M836.68 50.5v-9.2M836.68 472.8v9.2M104.6 50.6h-9.3M843.1 50.6h9.3M104.6 85.2h-5.4M843.1 85.2h5.4M104.6 119.8h-9.3M843.1 119.8h9.3M104.6 154.4h-5.4M843.1 154.4h5.4M104.6 189h-9.3M843.1 189h9.3M104.6 223.6h-5.4M843.1 223.6h5.4M104.6 258.2h-9.3M843.1 258.2h9.3M104.6 292.8h-5.4M843.1 292.8h5.4M104.6 327.4h-9.3M843.1 327.4h9.3M104.6 362h-5.4M843.1 362h5.4M104.6 396.6h-9.3M843.1 396.6h9.3M104.6 431.2h-5.4M843.1 431.2h5.4M104.6 465.8h-9.3M843.1 465.8h9.3" stroke="#000" stroke-width="1.7" fill="none"/>
<text x="74.8" y="61" text-anchor="end" class="t">0</text>
<text x="74.8" y="130.2" text-anchor="end" class="t">10</text>
<text x="74.8" y="199.4" text-anchor="end" class="t">20</text>
<text x="74.8" y="268.6" text-anchor="end" class="t">30</text>
<text x="74.8" y="337.8" text-anchor="end" class="t">40</text>
<text x="74.8" y="407" text-anchor="end" class="t">50</text>
<text x="74.8" y="476.2" text-anchor="end" class="t">60</text>
<text x="82.36" y="523.7" class="t">−</text><circle cx="91.16" cy="513.7" r="4.85"/><text x="102.36" y="523.7" class="t">60</text>
<text x="142.84" y="523.7" class="t">−</text><circle cx="151.64" cy="513.7" r="4.85"/><text x="162.84" y="523.7" class="t">50</text>
<text x="203.32" y="523.7" class="t">−</text><circle cx="212.12" cy="513.7" r="4.85"/><text x="223.32" y="523.7" class="t">40</text>
<text x="263.8" y="523.7" class="t">−</text><circle cx="272.6" cy="513.7" r="4.85"/><text x="283.8" y="523.7" class="t">30</text>
<text x="324.28" y="523.7" class="t">−</text><circle cx="333.08" cy="513.7" r="4.85"/><text x="344.28" y="523.7" class="t">20</text>
<text x="384.76" y="523.7" class="t">−</text><circle cx="393.56" cy="513.7" r="4.85"/><text x="404.76" y="523.7" class="t">10</text>
<text x="473.8" y="523.7" text-anchor="middle" class="t">0</text>
<text x="534.28" y="523.7" text-anchor="middle" class="t">10</text>
<text x="594.76" y="523.7" text-anchor="middle" class="t">20</text>
<text x="655.24" y="523.7" text-anchor="middle" class="t">30</text>
<text x="715.72" y="523.7" text-anchor="middle" class="t">40</text>
<text x="776.2" y="523.7" text-anchor="middle" class="t">50</text>
<text x="836.68" y="523.7" text-anchor="middle" class="t">60</text>
<text transform="translate(21 261.65) rotate(-90)" text-anchor="middle" class="b" textLength="99.5" lengthAdjust="spacingAndGlyphs">Degree</text>
<text x="222.6" y="566.5" class="b">S</text>
<text x="242.6" y="573.5" class="s">nm</text>
<text x="305.2" y="565.3" class="b" stroke="#000" stroke-width="0.7" stroke-linejoin="miter">&lt;</text>
<text x="323.2" y="565.3" class="b" stroke="#000" stroke-width="0.7" stroke-linejoin="miter" textLength="69" lengthAdjust="spacingAndGlyphs">−−−−</text>
<text x="432.4" y="566.5" class="b">Order</text>
<text x="554.2" y="565.3" class="b" stroke="#000" stroke-width="0.7" stroke-linejoin="miter" textLength="69" lengthAdjust="spacingAndGlyphs">−−−−</text>
<text x="622.6" y="565.3" class="b" stroke="#000" stroke-width="0.7" stroke-linejoin="miter">&gt;</text>
<text x="673.2" y="566.5" class="b">C</text>
<text x="694.4" y="573.5" class="s">nm</text>
<text x="-1.8" y="35.8" class="L">a</text>
</g>
<g id="pb">
<rect x="1022.7" y="50.5" width="738.5" height="422.3" fill="none" stroke="#000" stroke-width="2.8"/>
<path d="M1029.02 50.5v-9.2M1029.02 472.8v9.2M1089.5 50.5v-9.2M1089.5 472.8v9.2M1149.98 50.5v-9.2M1149.98 472.8v9.2M1210.46 50.5v-9.2M1210.46 472.8v9.2M1270.94 50.5v-9.2M1270.94 472.8v9.2M1331.42 50.5v-9.2M1331.42 472.8v9.2M1391.9 50.5v-9.2M1391.9 472.8v9.2M1452.38 50.5v-9.2M1452.38 472.8v9.2M1512.86 50.5v-9.2M1512.86 472.8v9.2M1573.34 50.5v-9.2M1573.34 472.8v9.2M1633.82 50.5v-9.2M1633.82 472.8v9.2M1694.3 50.5v-9.2M1694.3 472.8v9.2M1754.78 50.5v-9.2M1754.78 472.8v9.2M1022.7 50.6h-9.3M1761.2 50.6h9.3M1022.7 85.2h-5.4M1761.2 85.2h5.4M1022.7 119.8h-9.3M1761.2 119.8h9.3M1022.7 154.4h-5.4M1761.2 154.4h5.4M1022.7 189h-9.3M1761.2 189h9.3M1022.7 223.6h-5.4M1761.2 223.6h5.4M1022.7 258.2h-9.3M1761.2 258.2h9.3M1022.7 292.8h-5.4M1761.2 292.8h5.4M1022.7 327.4h-9.3M1761.2 327.4h9.3M1022.7 362h-5.4M1761.2 362h5.4M1022.7 396.6h-9.3M1761.2 396.6h9.3M1022.7 431.2h-5.4M1761.2 431.2h5.4M1022.7 465.8h-9.3M1761.2 465.8h9.3" stroke="#000" stroke-width="1.7" fill="none"/>
<text x="992.9" y="61" text-anchor="end" class="t">0</text>
<text x="992.9" y="130.2" text-anchor="end" class="t">10</text>
<text x="992.9" y="199.4" text-anchor="end" class="t">20</text>
<text x="992.9" y="268.6" text-anchor="end" class="t">30</text>
<text x="992.9" y="337.8" text-anchor="end" class="t">40</text>
<text x="992.9" y="407" text-anchor="end" class="t">50</text>
<text x="992.9" y="476.2" text-anchor="end" class="t">60</text>
<text x="1000.46" y="523.7" class="t">−</text><circle cx="1009.26" cy="513.7" r="4.85"/><text x="1020.46" y="523.7" class="t">60</text>
<text x="1060.94" y="523.7" class="t">−</text><circle cx="1069.74" cy="513.7" r="4.85"/><text x="1080.94" y="523.7" class="t">50</text>
<text x="1121.42" y="523.7" class="t">−</text><circle cx="1130.22" cy="513.7" r="4.85"/><text x="1141.42" y="523.7" class="t">40</text>
<text x="1181.9" y="523.7" class="t">−</text><circle cx="1190.7" cy="513.7" r="4.85"/><text x="1201.9" y="523.7" class="t">30</text>
<text x="1242.38" y="523.7" class="t">−</text><circle cx="1251.18" cy="513.7" r="4.85"/><text x="1262.38" y="523.7" class="t">20</text>
<text x="1302.86" y="523.7" class="t">−</text><circle cx="1311.66" cy="513.7" r="4.85"/><text x="1322.86" y="523.7" class="t">10</text>
<text x="1391.9" y="523.7" text-anchor="middle" class="t">0</text>
<text x="1452.38" y="523.7" text-anchor="middle" class="t">10</text>
<text x="1512.86" y="523.7" text-anchor="middle" class="t">20</text>
<text x="1573.34" y="523.7" text-anchor="middle" class="t">30</text>
<text x="1633.82" y="523.7" text-anchor="middle" class="t">40</text>
<text x="1694.3" y="523.7" text-anchor="middle" class="t">50</text>
<text x="1754.78" y="523.7" text-anchor="middle" class="t">60</text>
<text transform="translate(939.1 261.65) rotate(-90)" text-anchor="middle" class="b" textLength="99.5" lengthAdjust="spacingAndGlyphs">Degree</text>
<text x="1140.7" y="566.5" class="b">S</text>
<text x="1160.7" y="573.5" class="s">nm</text>
<text x="1223.3" y="565.3" class="b" stroke="#000" stroke-width="0.7" stroke-linejoin="miter">&lt;</text>
<text x="1241.3" y="565.3" class="b" stroke="#000" stroke-width="0.7" stroke-linejoin="miter" textLength="69" lengthAdjust="spacingAndGlyphs">−−−−</text>
<text x="1350.5" y="566.5" class="b">Order</text>
<text x="1472.3" y="565.3" class="b" stroke="#000" stroke-width="0.7" stroke-linejoin="miter" textLength="69" lengthAdjust="spacingAndGlyphs">−−−−</text>
<text x="1540.7" y="565.3" class="b" stroke="#000" stroke-width="0.7" stroke-linejoin="miter">&gt;</text>
<text x="1591.3" y="566.5" class="b">C</text>
<text x="1612.5" y="573.5" class="s">nm</text>
<text x="913.9" y="36" class="L">b</text>
</g>
<g id="pc">
<rect x="104.6" y="673" width="738.5" height="422.3" fill="none" stroke="#000" stroke-width="2.8"/>
<path d="M110.92 673v-9.2M110.92 1095.3v9.2M171.4 673v-9.2M171.4 1095.3v9.2M231.88 673v-9.2M231.88 1095.3v9.2M292.36 673v-9.2M292.36 1095.3v9.2M352.84 673v-9.2M352.84 1095.3v9.2M413.32 673v-9.2M413.32 1095.3v9.2M473.8 673v-9.2M473.8 1095.3v9.2M534.28 673v-9.2M534.28 1095.3v9.2M594.76 673v-9.2M594.76 1095.3v9.2M655.24 673v-9.2M655.24 1095.3v9.2M715.72 673v-9.2M715.72 1095.3v9.2M776.2 673v-9.2M776.2 1095.3v9.2M836.68 673v-9.2M836.68 1095.3v9.2M104.6 673.1h-9.3M843.1 673.1h9.3M104.6 707.7h-5.4M843.1 707.7h5.4M104.6 742.3h-9.3M843.1 742.3h9.3M104.6 776.9h-5.4M843.1 776.9h5.4M104.6 811.5h-9.3M843.1 811.5h9.3M104.6 846.1h-5.4M843.1 846.1h5.4M104.6 880.7h-9.3M843.1 880.7h9.3M104.6 915.3h-5.4M843.1 915.3h5.4M104.6 949.9h-9.3M843.1 949.9h9.3M104.6 984.5h-5.4M843.1 984.5h5.4M104.6 1019.1h-9.3M843.1 1019.1h9.3M104.6 1053.7h-5.4M843.1 1053.7h5.4M104.6 1088.3h-9.3M843.1 1088.3h9.3" stroke="#000" stroke-width="1.7" fill="none"/>
<text x="74.8" y="683.5" text-anchor="end" class="t">0</text>
<text x="74.8" y="752.7" text-anchor="end" class="t">10</text>
<text x="74.8" y="821.9" text-anchor="end" class="t">20</text>
<text x="74.8" y="891.1" text-anchor="end" class="t">30</text>
<text x="74.8" y="960.3" text-anchor="end" class="t">40</text>
<text x="74.8" y="1029.5" text-anchor="end" class="t">50</text>
<text x="74.8" y="1098.7" text-anchor="end" class="t">60</text>
<text x="82.36" y="1146.2" class="t">−</text><circle cx="91.16" cy="1136.2" r="4.85"/><text x="102.36" y="1146.2" class="t">60</text>
<text x="142.84" y="1146.2" class="t">−</text><circle cx="151.64" cy="1136.2" r="4.85"/><text x="162.84" y="1146.2" class="t">50</text>
<text x="203.32" y="1146.2" class="t">−</text><circle cx="212.12" cy="1136.2" r="4.85"/><text x="223.32" y="1146.2" class="t">40</text>
<text x="263.8" y="1146.2" class="t">−</text><circle cx="272.6" cy="1136.2" r="4.85"/><text x="283.8" y="1146.2" class="t">30</text>
<text x="324.28" y="1146.2" class="t">−</text><circle cx="333.08" cy="1136.2" r="4.85"/><text x="344.28" y="1146.2" class="t">20</text>
<text x="384.76" y="1146.2" class="t">−</text><circle cx="393.56" cy="1136.2" r="4.85"/><text x="404.76" y="1146.2" class="t">10</text>
<text x="473.8" y="1146.2" text-anchor="middle" class="t">0</text>
<text x="534.28" y="1146.2" text-anchor="middle" class="t">10</text>
<text x="594.76" y="1146.2" text-anchor="middle" class="t">20</text>
<text x="655.24" y="1146.2" text-anchor="middle" class="t">30</text>
<text x="715.72" y="1146.2" text-anchor="middle" class="t">40</text>
<text x="776.2" y="1146.2" text-anchor="middle" class="t">50</text>
<text x="836.68" y="1146.2" text-anchor="middle" class="t">60</text>
<text transform="translate(21 884.15) rotate(-90)" text-anchor="middle" class="b" textLength="99.5" lengthAdjust="spacingAndGlyphs">Degree</text>
<text x="222.6" y="1189" class="b">S</text>
<text x="242.6" y="1196" class="s">nm</text>
<text x="305.2" y="1187.8" class="b" stroke="#000" stroke-width="0.7" stroke-linejoin="miter">&lt;</text>
<text x="323.2" y="1187.8" class="b" stroke="#000" stroke-width="0.7" stroke-linejoin="miter" textLength="69" lengthAdjust="spacingAndGlyphs">−−−−</text>
<text x="432.4" y="1189" class="b">Order</text>
<text x="554.2" y="1187.8" class="b" stroke="#000" stroke-width="0.7" stroke-linejoin="miter" textLength="69" lengthAdjust="spacingAndGlyphs">−−−−</text>
<text x="622.6" y="1187.8" class="b" stroke="#000" stroke-width="0.7" stroke-linejoin="miter">&gt;</text>
<text x="673.2" y="1189" class="b">C</text>
<text x="694.4" y="1196" class="s">nm</text>
<text x="-0.75" y="669.3" class="L">c</text>
</g>
<g id="pd">
<rect x="1022.7" y="673.1" width="738.5" height="422.3" fill="none" stroke="#000" stroke-width="2.8"/>
<path d="M1029.02 673.1v-9.2M1029.02 1095.4v9.2M1089.5 673.1v-9.2M1089.5 1095.4v9.2M1149.98 673.1v-9.2M1149.98 1095.4v9.2M1210.46 673.1v-9.2M1210.46 1095.4v9.2M1270.94 673.1v-9.2M1270.94 1095.4v9.2M1331.42 673.1v-9.2M1331.42 1095.4v9.2M1391.9 673.1v-9.2M1391.9 1095.4v9.2M1452.38 673.1v-9.2M1452.38 1095.4v9.2M1512.86 673.1v-9.2M1512.86 1095.4v9.2M1573.34 673.1v-9.2M1573.34 1095.4v9.2M1633.82 673.1v-9.2M1633.82 1095.4v9.2M1694.3 673.1v-9.2M1694.3 1095.4v9.2M1754.78 673.1v-9.2M1754.78 1095.4v9.2M1022.7 673.2h-9.3M1761.2 673.2h9.3M1022.7 707.8h-5.4M1761.2 707.8h5.4M1022.7 742.4h-9.3M1761.2 742.4h9.3M1022.7 777h-5.4M1761.2 777h5.4M1022.7 811.6h-9.3M1761.2 811.6h9.3M1022.7 846.2h-5.4M1761.2 846.2h5.4M1022.7 880.8h-9.3M1761.2 880.8h9.3M1022.7 915.4h-5.4M1761.2 915.4h5.4M1022.7 950h-9.3M1761.2 950h9.3M1022.7 984.6h-5.4M1761.2 984.6h5.4M1022.7 1019.2h-9.3M1761.2 1019.2h9.3M1022.7 1053.8h-5.4M1761.2 1053.8h5.4M1022.7 1088.4h-9.3M1761.2 1088.4h9.3" stroke="#000" stroke-width="1.7" fill="none"/>
<text x="992.9" y="683.6" text-anchor="end" class="t">0</text>
<text x="992.9" y="752.8" text-anchor="end" class="t">10</text>
<text x="992.9" y="822" text-anchor="end" class="t">20</text>
<text x="992.9" y="891.2" text-anchor="end" class="t">30</text>
<text x="992.9" y="960.4" text-anchor="end" class="t">40</text>
<text x="992.9" y="1029.6" text-anchor="end" class="t">50</text>
<text x="992.9" y="1098.8" text-anchor="end" class="t">60</text>
<text x="1000.46" y="1146.3" class="t">−</text><circle cx="1009.26" cy="1136.3" r="4.85"/><text x="1020.46" y="1146.3" class="t">60</text>
<text x="1060.94" y="1146.3" class="t">−</text><circle cx="1069.74" cy="1136.3" r="4.85"/><text x="1080.94" y="1146.3" class="t">50</text>
<text x="1121.42" y="1146.3" class="t">−</text><circle cx="1130.22" cy="1136.3" r="4.85"/><text x="1141.42" y="1146.3" class="t">40</text>
<text x="1181.9" y="1146.3" class="t">−</text><circle cx="1190.7" cy="1136.3" r="4.85"/><text x="1201.9" y="1146.3" class="t">30</text>
<text x="1242.38" y="1146.3" class="t">−</text><circle cx="1251.18" cy="1136.3" r="4.85"/><text x="1262.38" y="1146.3" class="t">20</text>
<text x="1302.86" y="1146.3" class="t">−</text><circle cx="1311.66" cy="1136.3" r="4.85"/><text x="1322.86" y="1146.3" class="t">10</text>
<text x="1391.9" y="1146.3" text-anchor="middle" class="t">0</text>
<text x="1452.38" y="1146.3" text-anchor="middle" class="t">10</text>
<text x="1512.86" y="1146.3" text-anchor="middle" class="t">20</text>
<text x="1573.34" y="1146.3" text-anchor="middle" class="t">30</text>
<text x="1633.82" y="1146.3" text-anchor="middle" class="t">40</text>
<text x="1694.3" y="1146.3" text-anchor="middle" class="t">50</text>
<text x="1754.78" y="1146.3" text-anchor="middle" class="t">60</text>
<text transform="translate(939.1 884.25) rotate(-90)" text-anchor="middle" class="b" textLength="99.5" lengthAdjust="spacingAndGlyphs">Degree</text>
<text x="1140.7" y="1189.1" class="b">S</text>
<text x="1160.7" y="1196.1" class="s">nm</text>
<text x="1223.3" y="1187.9" class="b" stroke="#000" stroke-width="0.7" stroke-linejoin="miter">&lt;</text>
<text x="1241.3" y="1187.9" class="b" stroke="#000" stroke-width="0.7" stroke-linejoin="miter" textLength="69" lengthAdjust="spacingAndGlyphs">−−−−</text>
<text x="1350.5" y="1189.1" class="b">Order</text>
<text x="1472.3" y="1187.9" class="b" stroke="#000" stroke-width="0.7" stroke-linejoin="miter" textLength="69" lengthAdjust="spacingAndGlyphs">−−−−</text>
<text x="1540.7" y="1187.9" class="b" stroke="#000" stroke-width="0.7" stroke-linejoin="miter">&gt;</text>
<text x="1591.3" y="1189.1" class="b">C</text>
<text x="1612.5" y="1196.1" class="s">nm</text>
<text x="913.5" y="669" class="L">d</text>
</g>
<g id="pe">
<rect x="104.6" y="1291.1" width="738.5" height="422.3" fill="none" stroke="#000" stroke-width="2.8"/>
<path d="M110.92 1291.1v-9.2M110.92 1713.4v9.2M171.4 1291.1v-9.2M171.4 1713.4v9.2M231.88 1291.1v-9.2M231.88 1713.4v9.2M292.36 1291.1v-9.2M292.36 1713.4v9.2M352.84 1291.1v-9.2M352.84 1713.4v9.2M413.32 1291.1v-9.2M413.32 1713.4v9.2M473.8 1291.1v-9.2M473.8 1713.4v9.2M534.28 1291.1v-9.2M534.28 1713.4v9.2M594.76 1291.1v-9.2M594.76 1713.4v9.2M655.24 1291.1v-9.2M655.24 1713.4v9.2M715.72 1291.1v-9.2M715.72 1713.4v9.2M776.2 1291.1v-9.2M776.2 1713.4v9.2M836.68 1291.1v-9.2M836.68 1713.4v9.2M104.6 1291.2h-9.3M843.1 1291.2h9.3M104.6 1325.8h-5.4M843.1 1325.8h5.4M104.6 1360.4h-9.3M843.1 1360.4h9.3M104.6 1395h-5.4M843.1 1395h5.4M104.6 1429.6h-9.3M843.1 1429.6h9.3M104.6 1464.2h-5.4M843.1 1464.2h5.4M104.6 1498.8h-9.3M843.1 1498.8h9.3M104.6 1533.4h-5.4M843.1 1533.4h5.4M104.6 1568h-9.3M843.1 1568h9.3M104.6 1602.6h-5.4M843.1 1602.6h5.4M104.6 1637.2h-9.3M843.1 1637.2h9.3M104.6 1671.8h-5.4M843.1 1671.8h5.4M104.6 1706.4h-9.3M843.1 1706.4h9.3" stroke="#000" stroke-width="1.7" fill="none"/>
<text x="74.8" y="1301.6" text-anchor="end" class="t">0</text>
<text x="74.8" y="1370.8" text-anchor="end" class="t">10</text>
<text x="74.8" y="1440" text-anchor="end" class="t">20</text>
<text x="74.8" y="1509.2" text-anchor="end" class="t">30</text>
<text x="74.8" y="1578.4" text-anchor="end" class="t">40</text>
<text x="74.8" y="1647.6" text-anchor="end" class="t">50</text>
<text x="74.8" y="1716.8" text-anchor="end" class="t">60</text>
<text x="82.36" y="1764.3" class="t">−</text><circle cx="91.16" cy="1754.3" r="4.85"/><text x="102.36" y="1764.3" class="t">60</text>
<text x="142.84" y="1764.3" class="t">−</text><circle cx="151.64" cy="1754.3" r="4.85"/><text x="162.84" y="1764.3" class="t">50</text>
<text x="203.32" y="1764.3" class="t">−</text><circle cx="212.12" cy="1754.3" r="4.85"/><text x="223.32" y="1764.3" class="t">40</text>
<text x="263.8" y="1764.3" class="t">−</text><circle cx="272.6" cy="1754.3" r="4.85"/><text x="283.8" y="1764.3" class="t">30</text>
<text x="324.28" y="1764.3" class="t">−</text><circle cx="333.08" cy="1754.3" r="4.85"/><text x="344.28" y="1764.3" class="t">20</text>
<text x="384.76" y="1764.3" class="t">−</text><circle cx="393.56" cy="1754.3" r="4.85"/><text x="404.76" y="1764.3" class="t">10</text>
<text x="473.8" y="1764.3" text-anchor="middle" class="t">0</text>
<text x="534.28" y="1764.3" text-anchor="middle" class="t">10</text>
<text x="594.76" y="1764.3" text-anchor="middle" class="t">20</text>
<text x="655.24" y="1764.3" text-anchor="middle" class="t">30</text>
<text x="715.72" y="1764.3" text-anchor="middle" class="t">40</text>
<text x="776.2" y="1764.3" text-anchor="middle" class="t">50</text>
<text x="836.68" y="1764.3" text-anchor="middle" class="t">60</text>
<text transform="translate(21 1502.25) rotate(-90)" text-anchor="middle" class="b" textLength="99.5" lengthAdjust="spacingAndGlyphs">Degree</text>
<text x="222.6" y="1807.1" class="b">S</text>
<text x="242.6" y="1814.1" class="s">nm</text>
<text x="305.2" y="1805.9" class="b" stroke="#000" stroke-width="0.7" stroke-linejoin="miter">&lt;</text>
<text x="323.2" y="1805.9" class="b" stroke="#000" stroke-width="0.7" stroke-linejoin="miter" textLength="69" lengthAdjust="spacingAndGlyphs">−−−−</text>
<text x="432.4" y="1807.1" class="b">Order</text>
<text x="554.2" y="1805.9" class="b" stroke="#000" stroke-width="0.7" stroke-linejoin="miter" textLength="69" lengthAdjust="spacingAndGlyphs">−−−−</text>
<text x="622.6" y="1805.9" class="b" stroke="#000" stroke-width="0.7" stroke-linejoin="miter">&gt;</text>
<text x="673.2" y="1807.1" class="b">C</text>
<text x="694.4" y="1814.1" class="s">nm</text>
<text x="-0.7" y="1283.6" class="L">e</text>
</g>
<g id="cbar">
<g shape-rendering="crispEdges">
<rect x="1015" y="1502.6" width="17.25" height="32.3" fill="#0a0079"/>
<rect x="1031.75" y="1502.6" width="34" height="32.3" fill="#280096"/>
<rect x="1065.25" y="1502.6" width="17.25" height="32.3" fill="#1405af"/>
<rect x="1082" y="1502.6" width="17.25" height="32.3" fill="#000ac8"/>
<rect x="1098.75" y="1502.6" width="17.25" height="32.3" fill="#0019d4"/>
<rect x="1115.5" y="1502.6" width="17.25" height="32.3" fill="#0028e0"/>
<rect x="1132.25" y="1502.6" width="34" height="32.3" fill="#1a66f0"/>
<rect x="1165.75" y="1502.6" width="17.25" height="32.3" fill="#0d81f8"/>
<rect x="1182.5" y="1502.6" width="17.25" height="32.3" fill="#19afff"/>
<rect x="1199.25" y="1502.6" width="17.25" height="32.3" fill="#32beff"/>
<rect x="1216" y="1502.6" width="34" height="32.3" fill="#44caff"/>
<rect x="1249.5" y="1502.6" width="17.25" height="32.3" fill="#61e1f0"/>
<rect x="1266.25" y="1502.6" width="17.25" height="32.3" fill="#6aebe1"/>
<rect x="1283" y="1502.6" width="17.25" height="32.3" fill="#7cebc8"/>
<rect x="1299.75" y="1502.6" width="34" height="32.3" fill="#8aecae"/>
<rect x="1333.25" y="1502.6" width="17.25" height="32.3" fill="#acf5a8"/>
<rect x="1350" y="1502.6" width="17.25" height="32.3" fill="#cdffa2"/>
<rect x="1366.75" y="1502.6" width="17.25" height="32.3" fill="#dff58d"/>
<rect x="1383.5" y="1502.6" width="34" height="32.3" fill="#f0ec79"/>
<rect x="1417" y="1502.6" width="17.25" height="32.3" fill="#f7d768"/>
<rect x="1433.75" y="1502.6" width="17.25" height="32.3" fill="#ffbd57"/>
<rect x="1450.5" y="1502.6" width="17.25" height="32.3" fill="#ffa045"/>
<rect x="1467.25" y="1502.6" width="34" height="32.3" fill="#f4754b"/>
<rect x="1500.75" y="1502.6" width="17.25" height="32.3" fill="#ee504e"/>
<rect x="1517.5" y="1502.6" width="17.25" height="32.3" fill="#ff5a5a"/>
<rect x="1534.25" y="1502.6" width="17.25" height="32.3" fill="#ff7c7c"/>
<rect x="1551" y="1502.6" width="34" height="32.3" fill="#ff9e9e"/>
<rect x="1584.5" y="1502.6" width="17.25" height="32.3" fill="#f5b3ae"/>
<rect x="1601.25" y="1502.6" width="17.25" height="32.3" fill="#ffc4c4"/>
<rect x="1618" y="1502.6" width="17.25" height="32.3" fill="#ffd7d7"/>
<rect x="1634.75" y="1502.6" width="34" height="32.3" fill="#ffebeb"/>
<rect x="1668.25" y="1502.6" width="17.25" height="32.3" fill="#ffffff"/>
</g>
<path d="M1015 1502.6L998.8 1518.75L1015 1534.9z" fill="#0a0079" stroke="#000" stroke-width="2.6" stroke-linejoin="miter"/>
<path d="M1685 1502.6L1701.2 1518.75L1685 1534.9z" fill="#fff" stroke="#000" stroke-width="2.6" stroke-linejoin="miter"/>
<rect x="1015" y="1502.6" width="670" height="32.3" fill="none" stroke="#000" stroke-width="2.6"/>
<path d="M1015 1534.9v7.6M1182.5 1534.9v7.6M1350 1534.9v7.6M1517.5 1534.9v7.6M1685 1534.9v7.6" stroke="#000" stroke-width="1.7" fill="none"/>
<text x="976.6" y="1585.2" class="t">−</text><circle cx="983.8" cy="1575.2" r="4.85"/><text x="995" y="1585.2" class="t">0.02</text>
<text x="1144.1" y="1585.2" class="t">−</text><circle cx="1151.3" cy="1575.2" r="4.85"/><text x="1162.5" y="1585.2" class="t">0.01</text>
<text x="1350" y="1585.2" text-anchor="middle" class="t">0.00</text>
<text x="1517.5" y="1585.2" text-anchor="middle" class="t">0.01</text>
<text x="1685" y="1585.2" text-anchor="middle" class="t">0.02</text>
</g>
</svg>
</body></html>
